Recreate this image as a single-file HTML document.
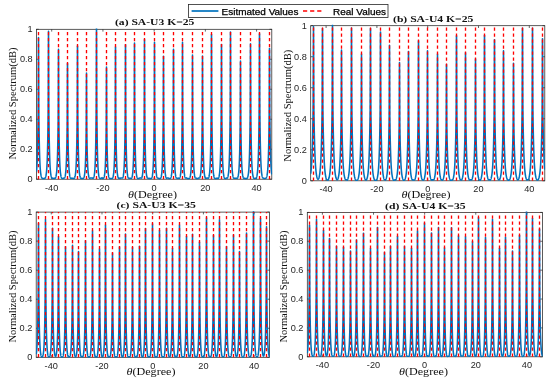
<!DOCTYPE html>
<html><head><meta charset="utf-8"><title>Normalized Spectrum</title>
<style>html,body{margin:0;padding:0;background:#fff;overflow:hidden}svg{display:block}</style></head>
<body>
<svg width="550" height="383" viewBox="0 0 550 383">
<rect width="550" height="383" fill="#fff"/>
<rect x="36.5" y="29.3" width="235.3" height="149.89999999999998" fill="none" stroke="#262626" stroke-width="0.75"/>
<path d="M51.71 179.2v-2.3M51.71 29.3v2.3M102.93 179.2v-2.3M102.93 29.3v2.3M154.15 179.2v-2.3M154.15 29.3v2.3M205.37 179.2v-2.3M205.37 29.3v2.3M256.59 179.2v-2.3M256.59 29.3v2.3M36.5 179.20h2.3M271.8 179.20h-2.3M36.5 149.22h2.3M271.8 149.22h-2.3M36.5 119.24h2.3M271.8 119.24h-2.3M36.5 89.26h2.3M271.8 89.26h-2.3M36.5 59.28h2.3M271.8 59.28h-2.3M36.5 29.30h2.3M271.8 29.30h-2.3" stroke="#262626" stroke-width="0.7" fill="none"/>
<clipPath id="c0"><rect x="36.1" y="28.400000000000002" width="236.10000000000002" height="151.7"/></clipPath>
<g clip-path="url(#c0)">
<polyline points="36.50,171.63 36.58,170.80 36.66,169.88 36.74,168.86 36.82,167.73 36.90,166.47 36.98,165.07 37.06,163.53 37.14,161.81 37.22,159.90 37.30,157.78 37.38,155.43 37.46,152.83 37.54,149.94 37.62,146.73 37.70,143.17 37.78,139.22 37.86,134.83 37.94,129.97 38.02,124.57 38.10,118.58 38.18,111.93 38.26,92.75 38.34,68.86 38.42,46.93 38.50,37.54 38.58,46.93 38.66,68.86 38.74,92.75 38.82,111.93 38.90,118.58 38.98,124.57 39.06,129.97 39.14,134.83 39.22,139.22 39.30,143.17 39.38,146.73 39.46,149.94 39.54,152.83 39.62,155.43 39.70,157.78 39.78,159.90 39.86,161.81 39.94,163.53 40.02,165.07 40.10,166.47 40.18,167.73 40.26,168.86 40.34,169.88 40.42,170.80 40.50,171.63 40.58,172.38 40.66,173.05 40.74,173.66 40.82,174.21 40.90,174.70 40.98,175.15 41.06,175.55 41.14,175.91 41.22,176.23 41.30,176.53 41.38,176.79 41.46,177.03 41.54,177.24 41.62,177.44 41.70,177.61 41.78,177.77 41.86,177.91 41.94,178.04 42.02,178.15 42.10,178.22 42.18,178.26 42.26,178.30 42.34,178.34 42.42,178.37 42.50,178.41 42.58,178.44 42.66,178.47 42.74,178.49 42.82,178.52 42.90,178.52 42.98,178.52 43.06,178.51 43.14,178.51 43.22,178.50 43.30,178.51 43.38,178.52 43.46,178.53 43.54,178.54 43.62,178.56 43.70,178.57 43.78,178.58 43.86,178.59 43.94,178.60 44.02,178.57 44.10,178.55 44.18,178.53 44.26,178.50 44.34,178.47 44.42,178.45 44.50,178.42 44.58,178.38 44.66,178.35 44.74,178.31 44.82,178.27 44.90,178.23 44.98,178.19 45.06,178.13 45.14,178.01 45.22,177.88 45.30,177.73 45.38,177.56 45.46,177.37 45.54,177.17 45.62,176.94 45.70,176.68 45.78,176.40 45.86,176.08 45.94,175.73 46.02,175.34 46.10,174.90 46.18,174.42 46.26,173.88 46.34,173.28 46.42,172.61 46.50,171.86 46.58,171.03 46.66,170.11 46.74,169.08 46.82,167.94 46.90,166.67 46.98,165.26 47.06,163.68 47.14,161.93 47.22,159.98 47.30,157.80 47.38,155.39 47.46,152.70 47.54,149.71 47.62,146.37 47.70,142.67 47.78,138.54 47.86,133.95 47.94,128.84 48.02,123.15 48.10,116.82 48.18,109.77 48.26,90.90 48.34,65.41 48.42,41.58 48.50,31.25 48.58,41.58 48.66,65.41 48.74,90.90 48.82,109.77 48.90,116.82 48.98,123.15 49.06,128.84 49.14,133.95 49.22,138.54 49.30,142.67 49.38,146.37 49.46,149.71 49.54,152.70 49.62,155.39 49.70,157.80 49.78,159.98 49.86,161.93 49.94,163.68 50.02,165.26 50.10,166.67 50.18,167.94 50.26,169.08 50.34,170.11 50.42,171.03 50.50,171.86 50.58,172.61 50.66,173.28 50.74,173.88 50.82,174.42 50.90,174.90 50.98,175.34 51.06,175.73 51.14,176.08 51.22,176.40 51.30,176.68 51.38,176.94 51.46,177.17 51.54,177.37 51.62,177.56 51.70,177.73 51.78,177.88 51.86,178.01 51.94,178.13 52.02,178.19 52.10,178.23 52.18,178.27 52.26,178.31 52.34,178.35 52.42,178.38 52.50,178.36 52.58,178.32 52.66,178.28 52.74,178.24 52.82,178.21 52.90,178.23 52.98,178.25 53.06,178.27 53.14,178.29 53.22,178.31 53.30,178.33 53.38,178.35 53.46,178.37 53.54,178.39 53.62,178.42 53.70,178.44 53.78,178.46 53.86,178.45 53.94,178.44 54.02,178.43 54.10,178.41 54.18,178.40 54.26,178.39 54.34,178.38 54.42,178.37 54.50,178.36 54.58,178.35 54.66,178.34 54.74,178.33 54.82,178.34 54.90,178.35 54.98,178.35 55.06,178.32 55.14,178.27 55.22,178.17 55.30,178.04 55.38,177.91 55.46,177.76 55.54,177.59 55.62,177.41 55.70,177.20 55.78,176.97 55.86,176.71 55.94,176.42 56.02,176.10 56.10,175.73 56.18,175.33 56.26,174.88 56.34,174.38 56.42,173.82 56.50,173.20 56.58,172.50 56.66,171.72 56.74,170.85 56.82,169.89 56.90,168.80 56.98,167.60 57.06,166.25 57.14,164.74 57.22,163.07 57.30,161.19 57.38,159.10 57.46,156.77 57.54,154.16 57.62,151.26 57.70,148.01 57.78,144.39 57.86,140.35 57.94,135.83 58.02,130.80 58.10,125.18 58.18,118.90 58.26,103.28 58.34,80.47 58.42,58.76 58.50,49.24 58.58,58.76 58.66,80.47 58.74,103.28 58.82,118.90 58.90,125.18 58.98,130.80 59.06,135.83 59.14,140.35 59.22,144.39 59.30,148.01 59.38,151.26 59.46,154.16 59.54,156.77 59.62,159.10 59.70,161.19 59.78,163.07 59.86,164.74 59.94,166.25 60.02,167.60 60.10,168.80 60.18,169.89 60.26,170.85 60.34,171.72 60.42,172.50 60.50,173.20 60.58,173.82 60.66,174.38 60.74,174.88 60.82,175.33 60.90,175.73 60.98,176.10 61.06,176.42 61.14,176.71 61.22,176.97 61.30,177.20 61.38,177.41 61.46,177.59 61.54,177.76 61.62,177.91 61.70,178.04 61.78,178.17 61.86,178.27 61.94,178.32 62.02,178.36 62.10,178.39 62.18,178.43 62.26,178.46 62.34,178.48 62.42,178.49 62.50,178.48 62.58,178.47 62.66,178.45 62.74,178.44 62.82,178.43 62.90,178.42 62.98,178.41 63.06,178.40 63.14,178.38 63.22,178.37 63.30,178.36 63.38,178.35 63.46,178.31 63.54,178.27 63.62,178.23 63.70,178.20 63.78,178.16 63.86,178.12 63.94,178.08 64.02,178.04 64.10,178.00 64.18,177.97 64.26,177.93 64.34,177.89 64.42,177.89 64.50,177.88 64.58,177.79 64.66,177.62 64.74,177.43 64.82,177.22 64.90,176.99 64.98,176.73 65.06,176.43 65.14,176.10 65.22,175.74 65.30,175.32 65.38,174.86 65.46,174.35 65.54,173.77 65.62,173.13 65.70,172.40 65.78,171.60 65.86,170.69 65.94,169.68 66.02,168.55 66.10,167.28 66.18,165.87 66.26,164.28 66.34,162.51 66.42,160.53 66.50,158.31 66.58,155.82 66.66,153.05 66.74,149.94 66.82,146.46 66.90,142.57 66.98,138.21 67.06,133.34 67.14,127.89 67.22,120.51 67.30,101.31 67.38,79.60 67.46,63.47 67.54,63.47 67.62,79.60 67.70,101.31 67.78,120.51 67.86,127.89 67.94,133.34 68.02,138.21 68.10,142.57 68.18,146.46 68.26,149.94 68.34,153.05 68.42,155.82 68.50,158.31 68.58,160.53 68.66,162.51 68.74,164.28 68.82,165.87 68.90,167.28 68.98,168.55 69.06,169.68 69.14,170.69 69.22,171.60 69.30,172.40 69.38,173.13 69.46,173.77 69.54,174.35 69.62,174.86 69.70,175.32 69.78,175.74 69.86,176.10 69.94,176.43 70.02,176.73 70.10,176.99 70.18,177.22 70.26,177.43 70.34,177.62 70.42,177.79 70.50,177.94 70.58,178.07 70.66,178.19 70.74,178.28 70.82,178.24 70.90,178.21 70.98,178.17 71.06,178.13 71.14,178.13 71.22,178.14 71.30,178.15 71.38,178.15 71.46,178.16 71.54,178.17 71.62,178.17 71.70,178.18 71.78,178.19 71.86,178.19 71.94,178.20 72.02,178.21 72.10,178.22 72.18,178.23 72.26,178.25 72.34,178.26 72.42,178.28 72.50,178.29 72.58,178.30 72.66,178.32 72.74,178.33 72.82,178.34 72.90,178.36 72.98,178.37 73.06,178.38 73.14,178.39 73.22,178.40 73.30,178.41 73.38,178.42 73.46,178.43 73.54,178.44 73.62,178.45 73.70,178.46 73.78,178.47 73.86,178.44 73.94,178.41 74.02,178.37 74.10,178.33 74.18,178.29 74.26,178.25 74.34,178.15 74.42,178.02 74.50,177.88 74.58,177.72 74.66,177.54 74.74,177.34 74.82,177.11 74.90,176.85 74.98,176.57 75.06,176.25 75.14,175.89 75.22,175.49 75.30,175.03 75.38,174.53 75.46,173.96 75.54,173.32 75.62,172.61 75.70,171.80 75.78,170.90 75.86,169.89 75.94,168.76 76.02,167.49 76.10,166.07 76.18,164.47 76.26,162.67 76.34,160.66 76.42,158.41 76.50,155.88 76.58,153.04 76.66,149.85 76.74,146.28 76.82,142.28 76.90,137.78 76.98,132.74 77.06,127.09 77.14,120.75 77.22,113.09 77.30,90.83 77.38,65.25 77.46,45.97 77.54,45.97 77.62,65.25 77.70,90.83 77.78,113.09 77.86,120.75 77.94,127.09 78.02,132.74 78.10,137.78 78.18,142.28 78.26,146.28 78.34,149.85 78.42,153.04 78.50,155.88 78.58,158.41 78.66,160.66 78.74,162.67 78.82,164.47 78.90,166.07 78.98,167.49 79.06,168.76 79.14,169.89 79.22,170.90 79.30,171.80 79.38,172.61 79.46,173.32 79.54,173.96 79.62,174.53 79.70,175.03 79.78,175.49 79.86,175.89 79.94,176.25 80.02,176.57 80.10,176.85 80.18,177.11 80.26,177.34 80.34,177.54 80.42,177.72 80.50,177.88 80.58,178.02 80.66,178.15 80.74,178.20 80.82,178.23 80.90,178.25 80.98,178.27 81.06,178.29 81.14,178.31 81.22,178.33 81.30,178.35 81.38,178.37 81.46,178.40 81.54,178.42 81.62,178.44 81.70,178.44 81.78,178.44 81.86,178.44 81.94,178.44 82.02,178.44 82.10,178.44 82.18,178.44 82.26,178.44 82.34,178.44 82.42,178.44 82.50,178.44 82.58,178.44 82.66,178.43 82.74,178.42 82.82,178.40 82.90,178.39 82.98,178.38 83.06,178.37 83.14,178.36 83.22,178.34 83.30,178.33 83.38,178.32 83.46,178.30 83.54,178.19 83.62,178.07 83.70,177.92 83.78,177.77 83.86,177.59 83.94,177.39 84.02,177.16 84.10,176.91 84.18,176.63 84.26,176.31 84.34,175.95 84.42,175.55 84.50,175.09 84.58,174.58 84.66,174.01 84.74,173.37 84.82,172.64 84.90,171.83 84.98,170.92 85.06,169.89 85.14,168.73 85.22,167.44 85.30,165.98 85.38,164.34 85.46,162.49 85.54,160.42 85.62,158.09 85.70,155.47 85.78,152.53 85.86,149.22 85.94,145.50 86.02,141.32 86.10,136.62 86.18,131.33 86.26,120.45 86.34,101.08 86.42,81.80 86.50,73.07 86.58,81.80 86.66,101.08 86.74,120.45 86.82,131.33 86.90,136.62 86.98,141.32 87.06,145.50 87.14,149.22 87.22,152.53 87.30,155.47 87.38,158.09 87.46,160.42 87.54,162.49 87.62,164.34 87.70,165.98 87.78,167.44 87.86,168.73 87.94,169.89 88.02,170.92 88.10,171.83 88.18,172.64 88.26,173.37 88.34,174.01 88.42,174.58 88.50,175.09 88.58,175.55 88.66,175.95 88.74,176.31 88.82,176.63 88.90,176.91 88.98,177.16 89.06,177.39 89.14,177.59 89.22,177.77 89.30,177.92 89.38,178.07 89.46,178.19 89.54,178.30 89.62,178.27 89.70,178.25 89.78,178.23 89.86,178.20 89.94,178.18 90.02,178.15 90.10,178.13 90.18,178.11 90.26,178.08 90.34,178.08 90.42,178.08 90.50,178.07 90.58,178.07 90.66,178.07 90.74,178.06 90.82,178.06 90.90,178.06 90.98,178.06 91.06,178.05 91.14,178.05 91.22,178.05 91.30,178.05 91.38,178.06 91.46,178.06 91.54,178.06 91.62,178.07 91.70,178.07 91.78,178.08 91.86,178.08 91.94,178.08 92.02,178.09 92.10,178.09 92.18,178.10 92.26,178.10 92.34,178.10 92.42,178.10 92.50,178.10 92.58,178.10 92.66,178.10 92.74,178.10 92.82,178.10 92.90,178.10 92.98,178.10 93.06,178.10 93.14,178.10 93.22,178.12 93.30,178.14 93.38,178.13 93.46,178.01 93.54,177.85 93.62,177.68 93.70,177.49 93.78,177.28 93.86,177.03 93.94,176.76 94.02,176.45 94.10,176.10 94.18,175.71 94.26,175.27 94.34,174.78 94.42,174.22 94.50,173.59 94.58,172.88 94.66,172.08 94.74,171.18 94.82,170.16 94.90,169.02 94.98,167.73 95.06,166.28 95.14,164.65 95.22,162.81 95.30,160.74 95.38,158.41 95.46,155.78 95.54,152.82 95.62,149.48 95.70,145.72 95.78,141.49 95.86,136.72 95.94,131.35 96.02,125.31 96.10,118.49 96.18,110.82 96.26,95.92 96.34,67.72 96.42,39.30 96.50,26.30 96.58,39.30 96.66,67.72 96.74,95.92 96.82,110.82 96.90,118.49 96.98,125.31 97.06,131.35 97.14,136.72 97.22,141.49 97.30,145.72 97.38,149.48 97.46,152.82 97.54,155.78 97.62,158.41 97.70,160.74 97.78,162.81 97.86,164.65 97.94,166.28 98.02,167.73 98.10,169.02 98.18,170.16 98.26,171.18 98.34,172.08 98.42,172.88 98.50,173.59 98.58,174.22 98.66,174.78 98.74,175.27 98.82,175.71 98.90,176.10 98.98,176.45 99.06,176.76 99.14,177.03 99.22,177.28 99.30,177.49 99.38,177.68 99.46,177.85 99.54,178.01 99.62,178.13 99.70,178.18 99.78,178.23 99.86,178.27 99.94,178.31 100.02,178.35 100.10,178.39 100.18,178.43 100.26,178.46 100.34,178.49 100.42,178.52 100.50,178.52 100.58,178.51 100.66,178.50 100.74,178.48 100.82,178.47 100.90,178.42 100.98,178.37 101.06,178.32 101.14,178.27 101.22,178.22 101.30,178.17 101.38,178.11 101.46,178.06 101.54,178.01 101.62,177.96 101.70,177.91 101.78,177.86 101.86,177.91 101.94,177.96 102.02,178.02 102.10,178.07 102.18,178.12 102.26,178.17 102.34,178.22 102.42,178.27 102.50,178.33 102.58,178.38 102.66,178.43 102.74,178.48 102.82,178.45 102.90,178.42 102.98,178.39 103.06,178.35 103.14,178.32 103.22,178.29 103.30,178.26 103.38,178.22 103.46,178.19 103.54,178.16 103.62,178.13 103.70,178.03 103.78,177.87 103.86,177.70 103.94,177.51 104.02,177.30 104.10,177.05 104.18,176.77 104.26,176.46 104.34,176.11 104.42,175.71 104.50,175.27 104.58,174.76 104.66,174.19 104.74,173.55 104.82,172.82 104.90,172.00 104.98,171.08 105.06,170.03 105.14,168.86 105.22,167.53 105.30,166.03 105.38,164.34 105.46,162.43 105.54,160.27 105.62,157.84 105.70,155.09 105.78,152.00 105.86,148.50 105.94,144.56 106.02,140.11 106.10,135.09 106.18,129.42 106.26,118.97 106.34,98.12 106.42,76.87 106.50,67.07 106.58,76.87 106.66,98.12 106.74,118.97 106.82,129.42 106.90,135.09 106.98,140.11 107.06,144.56 107.14,148.50 107.22,152.00 107.30,155.09 107.38,157.84 107.46,160.27 107.54,162.43 107.62,164.34 107.70,166.03 107.78,167.53 107.86,168.86 107.94,170.03 108.02,171.08 108.10,172.00 108.18,172.82 108.26,173.55 108.34,174.19 108.42,174.76 108.50,175.27 108.58,175.71 108.66,176.11 108.74,176.46 108.82,176.77 108.90,177.05 108.98,177.30 109.06,177.51 109.14,177.70 109.22,177.87 109.30,178.03 109.38,178.16 109.46,178.28 109.54,178.38 109.62,178.44 109.70,178.47 109.78,178.51 109.86,178.54 109.94,178.56 110.02,178.55 110.10,178.54 110.18,178.53 110.26,178.53 110.34,178.52 110.42,178.51 110.50,178.51 110.58,178.51 110.66,178.52 110.74,178.52 110.82,178.52 110.90,178.53 110.98,178.53 111.06,178.53 111.14,178.54 111.22,178.54 111.30,178.54 111.38,178.55 111.46,178.55 111.54,178.56 111.62,178.56 111.70,178.56 111.78,178.56 111.86,178.53 111.94,178.50 112.02,178.47 112.10,178.44 112.18,178.40 112.26,178.36 112.34,178.32 112.42,178.27 112.50,178.20 112.58,178.07 112.66,177.93 112.74,177.76 112.82,177.58 112.90,177.36 112.98,177.13 113.06,176.86 113.14,176.55 113.22,176.21 113.30,175.82 113.38,175.38 113.46,174.88 113.54,174.32 113.62,173.68 113.70,172.97 113.78,172.16 113.86,171.24 113.94,170.21 114.02,169.04 114.10,167.71 114.18,166.22 114.26,164.53 114.34,162.62 114.42,160.47 114.50,158.03 114.58,155.28 114.66,152.17 114.74,148.66 114.82,144.68 114.90,140.20 114.98,135.12 115.06,129.39 115.14,122.92 115.22,115.60 115.30,95.14 115.38,68.16 115.46,46.93 115.54,46.93 115.62,68.16 115.70,95.14 115.78,115.60 115.86,122.92 115.94,129.39 116.02,135.12 116.10,140.20 116.18,144.68 116.26,148.66 116.34,152.17 116.42,155.28 116.50,158.03 116.58,160.47 116.66,162.62 116.74,164.53 116.82,166.22 116.90,167.71 116.98,169.04 117.06,170.21 117.14,171.24 117.22,172.16 117.30,172.97 117.38,173.68 117.46,174.32 117.54,174.88 117.62,175.38 117.70,175.82 117.78,176.21 117.86,176.55 117.94,176.86 118.02,177.13 118.10,177.36 118.18,177.58 118.26,177.76 118.34,177.93 118.42,178.07 118.50,178.16 118.58,178.15 118.66,178.14 118.74,178.13 118.82,178.12 118.90,178.10 118.98,178.09 119.06,178.08 119.14,178.11 119.22,178.14 119.30,178.17 119.38,178.21 119.46,178.24 119.54,178.27 119.62,178.30 119.70,178.33 119.78,178.36 119.86,178.39 119.94,178.42 120.02,178.45 120.10,178.41 120.18,178.36 120.26,178.31 120.34,178.27 120.42,178.22 120.50,178.18 120.58,178.13 120.66,178.08 120.74,178.04 120.82,177.99 120.90,177.94 120.98,177.90 121.06,177.90 121.14,177.91 121.22,177.92 121.30,177.92 121.38,177.93 121.46,177.93 121.54,177.94 121.62,177.95 121.70,177.95 121.78,177.96 121.86,177.96 121.94,177.97 122.02,177.98 122.10,177.99 122.18,177.99 122.26,178.00 122.34,178.01 122.42,178.02 122.50,178.03 122.58,178.03 122.66,177.96 122.74,177.80 122.82,177.61 122.90,177.41 122.98,177.17 123.06,176.90 123.14,176.60 123.22,176.26 123.30,175.88 123.38,175.44 123.46,174.94 123.54,174.38 123.62,173.75 123.70,173.04 123.78,172.23 123.86,171.31 123.94,170.27 124.02,169.10 124.10,167.77 124.18,166.27 124.26,164.57 124.34,162.65 124.42,160.47 124.50,158.01 124.58,155.22 124.66,152.07 124.74,148.51 124.82,144.47 124.90,139.91 124.98,134.75 125.06,128.91 125.14,122.30 125.22,114.82 125.30,94.40 125.38,66.73 125.46,44.80 125.54,44.80 125.62,66.73 125.70,94.40 125.78,114.82 125.86,122.30 125.94,128.91 126.02,134.75 126.10,139.91 126.18,144.47 126.26,148.51 126.34,152.07 126.42,155.22 126.50,158.01 126.58,160.47 126.66,162.65 126.74,164.57 126.82,166.27 126.90,167.77 126.98,169.10 127.06,170.27 127.14,171.31 127.22,172.23 127.30,173.04 127.38,173.75 127.46,174.38 127.54,174.94 127.62,175.44 127.70,175.88 127.78,176.26 127.86,176.60 127.94,176.90 128.02,177.17 128.10,177.41 128.18,177.61 128.26,177.80 128.34,177.96 128.42,178.08 128.50,178.10 128.58,178.12 128.66,178.14 128.74,178.16 128.82,178.18 128.90,178.20 128.98,178.22 129.06,178.24 129.14,178.26 129.22,178.27 129.30,178.29 129.38,178.31 129.46,178.33 129.54,178.35 129.62,178.37 129.70,178.36 129.78,178.34 129.86,178.33 129.94,178.32 130.02,178.30 130.10,178.29 130.18,178.28 130.26,178.26 130.34,178.25 130.42,178.24 130.50,178.22 130.58,178.21 130.66,178.24 130.74,178.26 130.82,178.29 130.90,178.31 130.98,178.34 131.06,178.36 131.14,178.39 131.22,178.40 131.30,178.36 131.38,178.32 131.46,178.28 131.54,178.21 131.62,178.08 131.70,177.93 131.78,177.77 131.86,177.58 131.94,177.36 132.02,177.12 132.10,176.84 132.18,176.53 132.26,176.18 132.34,175.78 132.42,175.33 132.50,174.82 132.58,174.24 132.66,173.58 132.74,172.83 132.82,171.99 132.90,171.04 132.98,169.96 133.06,168.74 133.14,167.35 133.22,165.78 133.30,164.01 133.38,162.00 133.46,159.72 133.54,157.14 133.62,154.22 133.70,150.92 133.78,147.18 133.86,142.94 133.94,138.14 134.02,132.71 134.10,126.56 134.18,119.59 134.26,107.98 134.34,82.32 134.42,55.60 134.50,43.09 134.58,55.60 134.66,82.32 134.74,107.98 134.82,119.59 134.90,126.56 134.98,132.71 135.06,138.14 135.14,142.94 135.22,147.18 135.30,150.92 135.38,154.22 135.46,157.14 135.54,159.72 135.62,162.00 135.70,164.01 135.78,165.78 135.86,167.35 135.94,168.74 136.02,169.96 136.10,171.04 136.18,171.99 136.26,172.83 136.34,173.58 136.42,174.24 136.50,174.82 136.58,175.33 136.66,175.78 136.74,176.18 136.82,176.53 136.90,176.84 136.98,177.12 137.06,177.36 137.14,177.58 137.22,177.77 137.30,177.93 137.38,178.08 137.46,178.21 137.54,178.28 137.62,178.32 137.70,178.36 137.78,178.40 137.86,178.44 137.94,178.47 138.02,178.50 138.10,178.54 138.18,178.57 138.26,178.59 138.34,178.57 138.42,178.54 138.50,178.52 138.58,178.49 138.66,178.46 138.74,178.43 138.82,178.40 138.90,178.38 138.98,178.35 139.06,178.32 139.14,178.29 139.22,178.26 139.30,178.23 139.38,178.20 139.46,178.17 139.54,178.14 139.62,178.11 139.70,178.08 139.78,178.05 139.86,178.02 139.94,177.99 140.02,177.96 140.10,177.93 140.18,177.90 140.26,177.91 140.34,177.92 140.42,177.93 140.50,177.94 140.58,177.95 140.66,177.96 140.74,177.97 140.82,177.97 140.90,177.98 140.98,177.99 141.06,178.00 141.14,178.01 141.22,178.04 141.30,178.06 141.38,178.08 141.46,178.10 141.54,178.12 141.62,178.08 141.70,177.93 141.78,177.76 141.86,177.56 141.94,177.35 142.02,177.10 142.10,176.82 142.18,176.51 142.26,176.15 142.34,175.74 142.42,175.28 142.50,174.76 142.58,174.17 142.66,173.50 142.74,172.74 142.82,171.89 142.90,170.91 142.98,169.81 143.06,168.56 143.14,167.15 143.22,165.55 143.30,163.73 143.38,161.68 143.46,159.35 143.54,156.71 143.62,153.72 143.70,150.33 143.78,146.49 143.86,142.14 143.94,137.22 144.02,131.64 144.10,125.31 144.18,118.15 144.26,106.40 144.34,80.01 144.42,52.44 144.50,39.49 144.58,52.44 144.66,80.01 144.74,106.40 144.82,118.15 144.90,125.31 144.98,131.64 145.06,137.22 145.14,142.14 145.22,146.49 145.30,150.33 145.38,153.72 145.46,156.71 145.54,159.35 145.62,161.68 145.70,163.73 145.78,165.55 145.86,167.15 145.94,168.56 146.02,169.81 146.10,170.91 146.18,171.89 146.26,172.74 146.34,173.50 146.42,174.17 146.50,174.76 146.58,175.28 146.66,175.74 146.74,176.15 146.82,176.51 146.90,176.82 146.98,177.10 147.06,177.35 147.14,177.56 147.22,177.76 147.30,177.93 147.38,178.03 147.46,178.05 147.54,178.07 147.62,178.09 147.70,178.10 147.78,178.12 147.86,178.14 147.94,178.17 148.02,178.21 148.10,178.24 148.18,178.28 148.26,178.31 148.34,178.35 148.42,178.38 148.50,178.42 148.58,178.45 148.66,178.49 148.74,178.52 148.82,178.56 148.90,178.54 148.98,178.52 149.06,178.50 149.14,178.48 149.22,178.46 149.30,178.44 149.38,178.42 149.46,178.40 149.54,178.38 149.62,178.37 149.70,178.35 149.78,178.33 149.86,178.35 149.94,178.38 150.02,178.40 150.10,178.43 150.18,178.46 150.26,178.48 150.34,178.51 150.42,178.53 150.50,178.56 150.58,178.58 150.66,178.61 150.74,178.60 150.82,178.57 150.90,178.54 150.98,178.51 151.06,178.48 151.14,178.45 151.22,178.41 151.30,178.37 151.38,178.33 151.46,178.28 151.54,178.23 151.62,178.10 151.70,177.96 151.78,177.79 151.86,177.61 151.94,177.39 152.02,177.15 152.10,176.88 152.18,176.57 152.26,176.22 152.34,175.82 152.42,175.38 152.50,174.87 152.58,174.29 152.66,173.63 152.74,172.89 152.82,172.05 152.90,171.10 152.98,170.02 153.06,168.80 153.14,167.42 153.22,165.85 153.30,164.07 153.38,162.06 153.46,159.78 153.54,157.19 153.62,154.26 153.70,150.94 153.78,147.17 153.86,142.91 153.94,138.08 154.02,132.60 154.10,126.40 154.18,119.37 154.26,107.90 154.34,82.00 154.42,54.92 154.50,42.19 154.58,54.92 154.66,82.00 154.74,107.90 154.82,119.37 154.90,126.40 154.98,132.60 155.06,138.08 155.14,142.91 155.22,147.17 155.30,150.94 155.38,154.26 155.46,157.19 155.54,159.78 155.62,162.06 155.70,164.07 155.78,165.85 155.86,167.42 155.94,168.80 156.02,170.02 156.10,171.10 156.18,172.05 156.26,172.89 156.34,173.63 156.42,174.29 156.50,174.87 156.58,175.38 156.66,175.82 156.74,176.22 156.82,176.57 156.90,176.88 156.98,177.15 157.06,177.39 157.14,177.61 157.22,177.79 157.30,177.92 157.38,177.89 157.46,177.87 157.54,177.91 157.62,177.95 157.70,177.98 157.78,178.02 157.86,178.05 157.94,178.09 158.02,178.13 158.10,178.16 158.18,178.20 158.26,178.24 158.34,178.27 158.42,178.31 158.50,178.34 158.58,178.36 158.66,178.39 158.74,178.41 158.82,178.44 158.90,178.46 158.98,178.49 159.06,178.51 159.14,178.54 159.22,178.57 159.30,178.59 159.38,178.62 159.46,178.62 159.54,178.62 159.62,178.62 159.70,178.62 159.78,178.62 159.86,178.61 159.94,178.58 160.02,178.55 160.10,178.52 160.18,178.49 160.26,178.45 160.34,178.41 160.42,178.37 160.50,178.33 160.58,178.25 160.66,178.12 160.74,177.98 160.82,177.81 160.90,177.63 160.98,177.42 161.06,177.18 161.14,176.92 161.22,176.61 161.30,176.27 161.38,175.88 161.46,175.44 161.54,174.94 161.62,174.37 161.70,173.73 161.78,173.00 161.86,172.18 161.94,171.24 162.02,170.19 162.10,168.99 162.18,167.63 162.26,166.09 162.34,164.35 162.42,162.37 162.50,160.13 162.58,157.60 162.66,154.73 162.74,151.47 162.82,147.79 162.90,143.61 162.98,138.88 163.06,133.52 163.14,127.44 163.22,120.56 163.30,102.25 163.38,76.69 163.46,56.27 163.54,56.27 163.62,76.69 163.70,102.25 163.78,120.56 163.86,127.44 163.94,133.52 164.02,138.88 164.10,143.61 164.18,147.79 164.26,151.47 164.34,154.73 164.42,157.60 164.50,160.13 164.58,162.37 164.66,164.35 164.74,166.09 164.82,167.63 164.90,168.99 164.98,170.19 165.06,171.24 165.14,172.18 165.22,173.00 165.30,173.73 165.38,174.37 165.46,174.94 165.54,175.44 165.62,175.88 165.70,176.27 165.78,176.61 165.86,176.92 165.94,177.18 166.02,177.42 166.10,177.63 166.18,177.81 166.26,177.98 166.34,178.12 166.42,178.25 166.50,178.31 166.58,178.28 166.66,178.25 166.74,178.22 166.82,178.19 166.90,178.15 166.98,178.12 167.06,178.09 167.14,178.08 167.22,178.07 167.30,178.05 167.38,178.04 167.46,178.02 167.54,178.01 167.62,177.99 167.70,177.98 167.78,177.97 167.86,177.95 167.94,177.94 168.02,177.92 168.10,177.96 168.18,178.00 168.26,178.04 168.34,178.08 168.42,178.12 168.50,178.16 168.58,178.20 168.66,178.23 168.74,178.27 168.82,178.31 168.90,178.35 168.98,178.39 169.06,178.41 169.14,178.43 169.22,178.45 169.30,178.47 169.38,178.49 169.46,178.51 169.54,178.52 169.62,178.54 169.70,178.56 169.78,178.58 169.86,178.57 169.94,178.54 170.02,178.51 170.10,178.48 170.18,178.44 170.26,178.40 170.34,178.34 170.42,178.29 170.50,178.23 170.58,178.17 170.66,178.04 170.74,177.88 170.82,177.71 170.90,177.51 170.98,177.29 171.06,177.04 171.14,176.75 171.22,176.43 171.30,176.06 171.38,175.64 171.46,175.17 171.54,174.64 171.62,174.04 171.70,173.35 171.78,172.58 171.86,171.70 171.94,170.71 172.02,169.59 172.10,168.31 172.18,166.87 172.26,165.24 172.34,163.39 172.42,161.30 172.50,158.93 172.58,156.25 172.66,153.21 172.74,149.78 172.82,145.88 172.90,141.47 172.98,136.48 173.06,130.82 173.14,124.42 173.22,117.17 173.30,97.68 173.38,70.79 173.46,49.38 173.54,49.38 173.62,70.79 173.70,97.68 173.78,117.17 173.86,124.42 173.94,130.82 174.02,136.48 174.10,141.47 174.18,145.88 174.26,149.78 174.34,153.21 174.42,156.25 174.50,158.93 174.58,161.30 174.66,163.39 174.74,165.24 174.82,166.87 174.90,168.31 174.98,169.59 175.06,170.71 175.14,171.70 175.22,172.58 175.30,173.35 175.38,174.04 175.46,174.64 175.54,175.17 175.62,175.64 175.70,176.06 175.78,176.43 175.86,176.75 175.94,177.04 176.02,177.29 176.10,177.51 176.18,177.71 176.26,177.88 176.34,178.03 176.42,178.04 176.50,178.05 176.58,178.06 176.66,178.06 176.74,178.09 176.82,178.12 176.90,178.14 176.98,178.17 177.06,178.19 177.14,178.22 177.22,178.25 177.30,178.27 177.38,178.30 177.46,178.32 177.54,178.35 177.62,178.37 177.70,178.35 177.78,178.32 177.86,178.30 177.94,178.27 178.02,178.25 178.10,178.22 178.18,178.19 178.26,178.17 178.34,178.14 178.42,178.12 178.50,178.09 178.58,178.07 178.66,178.11 178.74,178.15 178.82,178.19 178.90,178.23 178.98,178.27 179.06,178.31 179.14,178.35 179.22,178.39 179.30,178.35 179.38,178.30 179.46,178.26 179.54,178.18 179.62,178.04 179.70,177.89 179.78,177.72 179.86,177.52 179.94,177.30 180.02,177.06 180.10,176.77 180.18,176.45 180.26,176.09 180.34,175.69 180.42,175.22 180.50,174.70 180.58,174.11 180.66,173.44 180.74,172.68 180.82,171.83 180.90,170.86 180.98,169.76 181.06,168.52 181.14,167.12 181.22,165.53 181.30,163.73 181.38,161.70 181.46,159.39 181.54,156.79 181.62,153.84 181.70,150.51 181.78,146.74 181.86,142.47 181.94,137.65 182.02,132.18 182.10,126.00 182.18,119.01 182.26,107.08 182.34,81.33 182.42,54.64 182.50,42.19 182.58,54.64 182.66,81.33 182.74,107.08 182.82,119.01 182.90,126.00 182.98,132.18 183.06,137.65 183.14,142.47 183.22,146.74 183.30,150.51 183.38,153.84 183.46,156.79 183.54,159.39 183.62,161.70 183.70,163.73 183.78,165.53 183.86,167.12 183.94,168.52 184.02,169.76 184.10,170.86 184.18,171.83 184.26,172.68 184.34,173.44 184.42,174.11 184.50,174.70 184.58,175.22 184.66,175.69 184.74,176.09 184.82,176.45 184.90,176.77 184.98,177.06 185.06,177.30 185.14,177.52 185.22,177.72 185.30,177.89 185.38,177.99 185.46,177.98 185.54,177.97 185.62,177.96 185.70,177.94 185.78,177.93 185.86,177.92 185.94,177.91 186.02,177.90 186.10,177.88 186.18,177.87 186.26,177.86 186.34,177.90 186.42,177.94 186.50,177.99 186.58,178.03 186.66,178.07 186.74,178.11 186.82,178.16 186.90,178.20 186.98,178.24 187.06,178.28 187.14,178.32 187.22,178.37 187.30,178.38 187.38,178.39 187.46,178.40 187.54,178.41 187.62,178.42 187.70,178.44 187.78,178.45 187.86,178.46 187.94,178.47 188.02,178.48 188.10,178.49 188.18,178.50 188.26,178.50 188.34,178.50 188.42,178.50 188.50,178.49 188.58,178.49 188.66,178.49 188.74,178.49 188.82,178.48 188.90,178.48 188.98,178.48 189.06,178.48 189.14,178.47 189.22,178.43 189.30,178.39 189.38,178.35 189.46,178.31 189.54,178.23 189.62,178.11 189.70,177.96 189.78,177.80 189.86,177.62 189.94,177.42 190.02,177.18 190.10,176.92 190.18,176.62 190.26,176.29 190.34,175.91 190.42,175.48 190.50,175.00 190.58,174.45 190.66,173.83 190.74,173.14 190.82,172.35 190.90,171.46 190.98,170.45 191.06,169.31 191.14,168.02 191.22,166.57 191.30,164.93 191.38,163.07 191.46,160.97 191.54,158.60 191.62,155.92 191.70,152.89 191.78,149.47 191.86,145.60 191.94,141.23 192.02,136.30 192.10,130.71 192.18,124.41 192.26,113.25 192.34,90.04 192.42,66.16 192.50,55.08 192.58,66.16 192.66,90.04 192.74,113.25 192.82,124.41 192.90,130.71 192.98,136.30 193.06,141.23 193.14,145.60 193.22,149.47 193.30,152.89 193.38,155.92 193.46,158.60 193.54,160.97 193.62,163.07 193.70,164.93 193.78,166.57 193.86,168.02 193.94,169.31 194.02,170.45 194.10,171.46 194.18,172.35 194.26,173.14 194.34,173.83 194.42,174.45 194.50,175.00 194.58,175.48 194.66,175.91 194.74,176.29 194.82,176.62 194.90,176.92 194.98,177.18 195.06,177.42 195.14,177.62 195.22,177.80 195.30,177.96 195.38,177.96 195.46,177.96 195.54,177.95 195.62,177.95 195.70,177.95 195.78,177.95 195.86,177.94 195.94,178.00 196.02,178.05 196.10,178.11 196.18,178.16 196.26,178.22 196.34,178.27 196.42,178.33 196.50,178.38 196.58,178.43 196.66,178.49 196.74,178.54 196.82,178.60 196.90,178.59 196.98,178.58 197.06,178.57 197.14,178.56 197.22,178.55 197.30,178.55 197.38,178.54 197.46,178.53 197.54,178.52 197.62,178.51 197.70,178.50 197.78,178.49 197.86,178.45 197.94,178.41 198.02,178.36 198.10,178.32 198.18,178.28 198.26,178.24 198.34,178.19 198.42,178.15 198.50,178.11 198.58,178.06 198.66,178.02 198.74,177.98 198.82,177.98 198.90,177.97 198.98,177.97 199.06,177.97 199.14,177.97 199.22,177.97 199.30,177.97 199.38,177.97 199.46,177.97 199.54,177.97 199.62,177.96 199.70,177.91 199.78,177.74 199.86,177.55 199.94,177.34 200.02,177.10 200.10,176.83 200.18,176.53 200.26,176.19 200.34,175.80 200.42,175.36 200.50,174.87 200.58,174.31 200.66,173.69 200.74,172.98 200.82,172.18 200.90,171.28 200.98,170.26 201.06,169.12 201.14,167.82 201.22,166.36 201.30,164.72 201.38,162.86 201.46,160.76 201.54,158.39 201.62,155.72 201.70,152.71 201.78,149.31 201.86,145.48 201.94,141.15 202.02,136.26 202.10,130.75 202.18,124.53 202.26,113.03 202.34,90.16 202.42,66.87 202.50,56.13 202.58,66.87 202.66,90.16 202.74,113.03 202.82,124.53 202.90,130.75 202.98,136.26 203.06,141.15 203.14,145.48 203.22,149.31 203.30,152.71 203.38,155.72 203.46,158.39 203.54,160.76 203.62,162.86 203.70,164.72 203.78,166.36 203.86,167.82 203.94,169.12 204.02,170.26 204.10,171.28 204.18,172.18 204.26,172.98 204.34,173.69 204.42,174.31 204.50,174.87 204.58,175.36 204.66,175.80 204.74,176.19 204.82,176.53 204.90,176.83 204.98,177.10 205.06,177.34 205.14,177.55 205.22,177.74 205.30,177.91 205.38,178.02 205.46,177.97 205.54,177.99 205.62,178.02 205.70,178.04 205.78,178.06 205.86,178.08 205.94,178.10 206.02,178.12 206.10,178.14 206.18,178.16 206.26,178.18 206.34,178.21 206.42,178.23 206.50,178.21 206.58,178.19 206.66,178.18 206.74,178.16 206.82,178.14 206.90,178.13 206.98,178.11 207.06,178.09 207.14,178.08 207.22,178.06 207.30,178.04 207.38,178.02 207.46,178.06 207.54,178.10 207.62,178.14 207.70,178.18 207.78,178.22 207.86,178.25 207.94,178.29 208.02,178.33 208.10,178.32 208.18,178.28 208.26,178.24 208.34,178.19 208.42,178.11 208.50,177.98 208.58,177.82 208.66,177.65 208.74,177.45 208.82,177.23 208.90,176.98 208.98,176.70 209.06,176.38 209.14,176.03 209.22,175.62 209.30,175.17 209.38,174.66 209.46,174.09 209.54,173.44 209.62,172.72 209.70,171.89 209.78,170.97 209.86,169.93 209.94,168.76 210.02,167.44 210.10,165.95 210.18,164.27 210.26,162.38 210.34,160.26 210.42,157.86 210.50,155.16 210.58,152.12 210.66,148.70 210.74,144.84 210.82,140.49 210.90,135.60 210.98,130.08 211.06,123.87 211.14,116.87 211.22,108.99 211.30,85.62 211.38,56.84 211.46,34.61 211.54,34.61 211.62,56.84 211.70,85.62 211.78,108.99 211.86,116.87 211.94,123.87 212.02,130.08 212.10,135.60 212.18,140.49 212.26,144.84 212.34,148.70 212.42,152.12 212.50,155.16 212.58,157.86 212.66,160.26 212.74,162.38 212.82,164.27 212.90,165.95 212.98,167.44 213.06,168.76 213.14,169.93 213.22,170.97 213.30,171.89 213.38,172.72 213.46,173.44 213.54,174.09 213.62,174.66 213.70,175.17 213.78,175.62 213.86,176.03 213.94,176.38 214.02,176.70 214.10,176.98 214.18,177.23 214.26,177.45 214.34,177.65 214.42,177.82 214.50,177.98 214.58,178.11 214.66,178.19 214.74,178.24 214.82,178.28 214.90,178.32 214.98,178.36 215.06,178.40 215.14,178.44 215.22,178.47 215.30,178.50 215.38,178.53 215.46,178.55 215.54,178.58 215.62,178.60 215.70,178.62 215.78,178.63 215.86,178.63 215.94,178.63 216.02,178.63 216.10,178.58 216.18,178.53 216.26,178.48 216.34,178.44 216.42,178.39 216.50,178.34 216.58,178.29 216.66,178.24 216.74,178.20 216.82,178.15 216.90,178.10 216.98,178.05 217.06,178.08 217.14,178.11 217.22,178.14 217.30,178.17 217.38,178.21 217.46,178.24 217.54,178.27 217.62,178.30 217.70,178.33 217.78,178.36 217.86,178.39 217.94,178.42 218.02,178.39 218.10,178.36 218.18,178.31 218.26,178.27 218.34,178.22 218.42,178.10 218.50,177.97 218.58,177.81 218.66,177.64 218.74,177.45 218.82,177.23 218.90,176.99 218.98,176.71 219.06,176.40 219.14,176.06 219.22,175.67 219.30,175.23 219.38,174.73 219.46,174.18 219.54,173.56 219.62,172.86 219.70,172.07 219.78,171.18 219.86,170.19 219.94,169.07 220.02,167.81 220.10,166.40 220.18,164.81 220.26,163.03 220.34,161.02 220.42,158.76 220.50,156.23 220.58,153.37 220.66,150.17 220.74,146.56 220.82,142.51 220.90,137.96 220.98,132.84 221.06,127.09 221.14,120.62 221.22,113.34 221.30,90.94 221.38,64.58 221.46,44.46 221.54,44.46 221.62,64.58 221.70,90.94 221.78,113.34 221.86,120.62 221.94,127.09 222.02,132.84 222.10,137.96 222.18,142.51 222.26,146.56 222.34,150.17 222.42,153.37 222.50,156.23 222.58,158.76 222.66,161.02 222.74,163.03 222.82,164.81 222.90,166.40 222.98,167.81 223.06,169.07 223.14,170.19 223.22,171.18 223.30,172.07 223.38,172.86 223.46,173.56 223.54,174.18 223.62,174.73 223.70,175.23 223.78,175.67 223.86,176.06 223.94,176.40 224.02,176.71 224.10,176.99 224.18,177.23 224.26,177.45 224.34,177.64 224.42,177.81 224.50,177.97 224.58,178.10 224.66,178.22 224.74,178.27 224.82,178.31 224.90,178.36 224.98,178.39 225.06,178.42 225.14,178.45 225.22,178.48 225.30,178.51 225.38,178.54 225.46,178.56 225.54,178.59 225.62,178.62 225.70,178.57 225.78,178.51 225.86,178.45 225.94,178.39 226.02,178.34 226.10,178.28 226.18,178.22 226.26,178.16 226.34,178.11 226.42,178.05 226.50,177.99 226.58,177.93 226.66,177.96 226.74,177.99 226.82,178.03 226.90,178.06 226.98,178.09 227.06,178.12 227.14,178.15 227.22,178.18 227.30,178.13 227.38,178.00 227.46,177.85 227.54,177.69 227.62,177.51 227.70,177.30 227.78,177.07 227.86,176.81 227.94,176.52 228.02,176.19 228.10,175.83 228.18,175.42 228.26,174.96 228.34,174.44 228.42,173.86 228.50,173.21 228.58,172.48 228.66,171.66 228.74,170.74 228.82,169.71 228.90,168.56 228.98,167.26 229.06,165.81 229.14,164.17 229.22,162.34 229.30,160.29 229.38,157.99 229.46,155.41 229.54,152.51 229.62,149.26 229.70,145.61 229.78,141.52 229.86,136.93 229.94,131.79 230.02,126.01 230.10,119.54 230.18,112.27 230.26,96.45 230.34,69.85 230.42,43.72 230.50,32.00 230.58,43.72 230.66,69.85 230.74,96.45 230.82,112.27 230.90,119.54 230.98,126.01 231.06,131.79 231.14,136.93 231.22,141.52 231.30,145.61 231.38,149.26 231.46,152.51 231.54,155.41 231.62,157.99 231.70,160.29 231.78,162.34 231.86,164.17 231.94,165.81 232.02,167.26 232.10,168.56 232.18,169.71 232.26,170.74 232.34,171.66 232.42,172.48 232.50,173.21 232.58,173.86 232.66,174.44 232.74,174.96 232.82,175.42 232.90,175.83 232.98,176.19 233.06,176.52 233.14,176.81 233.22,177.07 233.30,177.30 233.38,177.51 233.46,177.69 233.54,177.85 233.62,178.00 233.70,178.13 233.78,178.20 233.86,178.24 233.94,178.27 234.02,178.27 234.10,178.27 234.18,178.26 234.26,178.26 234.34,178.25 234.42,178.25 234.50,178.24 234.58,178.23 234.66,178.23 234.74,178.22 234.82,178.22 234.90,178.21 234.98,178.20 235.06,178.20 235.14,178.19 235.22,178.19 235.30,178.18 235.38,178.18 235.46,178.18 235.54,178.18 235.62,178.17 235.70,178.17 235.78,178.17 235.86,178.16 235.94,178.16 236.02,178.16 236.10,178.16 236.18,178.15 236.26,178.17 236.34,178.19 236.42,178.21 236.50,178.22 236.58,178.24 236.66,178.26 236.74,178.28 236.82,178.29 236.90,178.31 236.98,178.33 237.06,178.35 237.14,178.36 237.22,178.35 237.30,178.25 237.38,178.14 237.46,178.01 237.54,177.87 237.62,177.71 237.70,177.54 237.78,177.34 237.86,177.12 237.94,176.87 238.02,176.59 238.10,176.28 238.18,175.93 238.26,175.54 238.34,175.11 238.42,174.62 238.50,174.08 238.58,173.47 238.66,172.79 238.74,172.02 238.82,171.17 238.90,170.22 238.98,169.15 239.06,167.95 239.14,166.61 239.22,165.12 239.30,163.44 239.38,161.57 239.46,159.47 239.54,157.12 239.62,154.50 239.70,151.56 239.78,148.27 239.86,144.59 239.94,140.47 240.02,135.87 240.10,130.71 240.18,124.95 240.26,111.51 240.34,90.46 240.42,70.11 240.50,61.08 240.58,70.11 240.66,90.46 240.74,111.51 240.82,124.95 240.90,130.71 240.98,135.87 241.06,140.47 241.14,144.59 241.22,148.27 241.30,151.56 241.38,154.50 241.46,157.12 241.54,159.47 241.62,161.57 241.70,163.44 241.78,165.12 241.86,166.61 241.94,167.95 242.02,169.15 242.10,170.22 242.18,171.17 242.26,172.02 242.34,172.79 242.42,173.47 242.50,174.08 242.58,174.62 242.66,175.11 242.74,175.54 242.82,175.93 242.90,176.28 242.98,176.59 243.06,176.87 243.14,177.12 243.22,177.34 243.30,177.54 243.38,177.71 243.46,177.87 243.54,178.01 243.62,178.14 243.70,178.25 243.78,178.35 243.86,178.40 243.94,178.43 244.02,178.44 244.10,178.42 244.18,178.41 244.26,178.39 244.34,178.37 244.42,178.36 244.50,178.34 244.58,178.32 244.66,178.31 244.74,178.29 244.82,178.27 244.90,178.31 244.98,178.34 245.06,178.37 245.14,178.41 245.22,178.44 245.30,178.47 245.38,178.51 245.46,178.54 245.54,178.57 245.62,178.61 245.70,178.64 245.78,178.67 245.86,178.67 245.94,178.67 246.02,178.65 246.10,178.63 246.18,178.61 246.26,178.59 246.34,178.57 246.42,178.54 246.50,178.52 246.58,178.49 246.66,178.46 246.74,178.43 246.82,178.39 246.90,178.36 246.98,178.32 247.06,178.28 247.14,178.23 247.22,178.11 247.30,177.99 247.38,177.85 247.46,177.69 247.54,177.51 247.62,177.32 247.70,177.10 247.78,176.86 247.86,176.58 247.94,176.28 248.02,175.94 248.10,175.57 248.18,175.14 248.26,174.67 248.34,174.15 248.42,173.56 248.50,172.91 248.58,172.18 248.66,171.37 248.74,170.46 248.82,169.45 248.90,168.32 248.98,167.06 249.06,165.65 249.14,164.08 249.22,162.33 249.30,160.37 249.38,158.19 249.46,155.75 249.54,153.03 249.62,150.00 249.70,146.62 249.78,142.84 249.86,138.62 249.94,133.92 250.02,128.67 250.10,122.82 250.18,116.28 250.26,99.93 250.34,76.17 250.42,53.59 250.50,43.69 250.58,53.59 250.66,76.17 250.74,99.93 250.82,116.28 250.90,122.82 250.98,128.67 251.06,133.92 251.14,138.62 251.22,142.84 251.30,146.62 251.38,150.00 251.46,153.03 251.54,155.75 251.62,158.19 251.70,160.37 251.78,162.33 251.86,164.08 251.94,165.65 252.02,167.06 252.10,168.32 252.18,169.45 252.26,170.46 252.34,171.37 252.42,172.18 252.50,172.91 252.58,173.56 252.66,174.15 252.74,174.67 252.82,175.14 252.90,175.57 252.98,175.94 253.06,176.28 253.14,176.58 253.22,176.86 253.30,177.10 253.38,177.32 253.46,177.51 253.54,177.69 253.62,177.85 253.70,177.99 253.78,178.11 253.86,178.23 253.94,178.28 254.02,178.32 254.10,178.36 254.18,178.39 254.26,178.43 254.34,178.46 254.42,178.49 254.50,178.52 254.58,178.54 254.66,178.55 254.74,178.53 254.82,178.50 254.90,178.47 254.98,178.44 255.06,178.42 255.14,178.39 255.22,178.36 255.30,178.33 255.38,178.31 255.46,178.31 255.54,178.32 255.62,178.32 255.70,178.33 255.78,178.29 255.86,178.25 255.94,178.21 256.02,178.17 256.10,178.08 256.18,177.95 256.26,177.81 256.34,177.65 256.42,177.47 256.50,177.28 256.58,177.06 256.66,176.82 256.74,176.55 256.82,176.25 256.90,175.92 256.98,175.55 257.06,175.13 257.14,174.67 257.22,174.16 257.30,173.59 257.38,172.96 257.46,172.25 257.54,171.47 257.62,170.59 257.70,169.62 257.78,168.54 257.86,167.33 257.94,165.99 258.02,164.50 258.10,162.84 258.18,160.99 258.26,158.93 258.34,156.63 258.42,154.08 258.50,151.24 258.58,148.08 258.66,144.57 258.74,140.65 258.82,136.29 258.90,131.44 258.98,126.04 259.06,120.03 259.14,113.35 259.22,102.10 259.30,78.44 259.38,52.53 259.46,33.83 259.54,33.83 259.62,52.53 259.70,78.44 259.78,102.10 259.86,113.35 259.94,120.03 260.02,126.04 260.10,131.44 260.18,136.29 260.26,140.65 260.34,144.57 260.42,148.08 260.50,151.24 260.58,154.08 260.66,156.63 260.74,158.93 260.82,160.99 260.90,162.84 260.98,164.50 261.06,165.99 261.14,167.33 261.22,168.54 261.30,169.62 261.38,170.59 261.46,171.47 261.54,172.25 261.62,172.96 261.70,173.59 261.78,174.16 261.86,174.67 261.94,175.13 262.02,175.55 262.10,175.92 262.18,176.25 262.26,176.55 262.34,176.82 262.42,177.06 262.50,177.28 262.58,177.47 262.66,177.65 262.74,177.81 262.82,177.95 262.90,177.96 262.98,177.93 263.06,177.89 263.14,177.94 263.22,177.98 263.30,178.03 263.38,178.07 263.46,178.12 263.54,178.17 263.62,178.21 263.70,178.26 263.78,178.31 263.86,178.35 263.94,178.40 264.02,178.44 264.10,178.45 264.18,178.46 264.26,178.47 264.34,178.48 264.42,178.49 264.50,178.50 264.58,178.51 264.66,178.52 264.74,178.53 264.82,178.54 264.90,178.54 264.98,178.55 265.06,178.51 265.14,178.48 265.22,178.44 265.30,178.40 265.38,178.36 265.46,178.32 265.54,178.28 265.62,178.24 265.70,178.20 265.78,178.16 265.86,178.12 265.94,178.09 266.02,178.10 266.10,178.05 266.18,177.93 266.26,177.79 266.34,177.63 266.42,177.46 266.50,177.27 266.58,177.06 266.66,176.82 266.74,176.56 266.82,176.27 266.90,175.95 266.98,175.59 267.06,175.20 267.14,174.76 267.22,174.27 267.30,173.73 267.38,173.13 267.46,172.47 267.54,171.73 267.62,170.91 267.70,170.00 267.78,168.99 267.86,167.87 267.94,166.62 268.02,165.24 268.10,163.71 268.18,162.01 268.26,160.12 268.34,158.03 268.42,155.70 268.50,153.13 268.58,150.26 268.66,147.09 268.74,143.56 268.82,139.65 268.90,135.31 268.98,130.49 269.06,125.15 269.14,119.22 269.22,108.04 269.30,87.03 269.38,64.44 269.46,48.41 269.54,48.41 269.62,64.44 269.70,87.03 269.78,108.04 269.86,119.22 269.94,125.15 270.02,130.49 270.10,135.31 270.18,139.65 270.26,143.56 270.34,147.09 270.42,150.26 270.50,153.13 270.58,155.70 270.66,158.03 270.74,160.12 270.82,162.01 270.90,163.71 270.98,165.24 271.06,166.62 271.14,167.87 271.22,168.99 271.30,170.00 271.38,170.91 271.46,171.73 271.54,172.47 271.62,173.13 271.70,173.73 271.78,174.27" fill="none" stroke="#0072BD" stroke-width="1.55" stroke-linejoin="round"/>
<path d="M38.50 179.20V29.30M48.50 179.20V29.30M58.50 179.20V29.30M67.50 179.20V29.30M77.50 179.20V29.30M86.50 179.20V29.30M96.50 179.20V29.30M106.50 179.20V29.30M115.50 179.20V29.30M125.50 179.20V29.30M134.50 179.20V29.30M144.50 179.20V29.30M154.50 179.20V29.30M163.50 179.20V29.30M173.50 179.20V29.30M182.50 179.20V29.30M192.50 179.20V29.30M202.50 179.20V29.30M211.50 179.20V29.30M221.50 179.20V29.30M230.50 179.20V29.30M240.50 179.20V29.30M250.50 179.20V29.30M259.50 179.20V29.30M269.50 179.20V29.30" fill="none" stroke="#FF0000" stroke-width="1.35" stroke-dasharray="3.3 2.7"/>
</g>
<g font-family="Liberation Sans, Arial, Helvetica, sans-serif" font-size="8.2" fill="#262626">
<text x="45.07" y="190.80" textLength="13.27" lengthAdjust="spacingAndGlyphs">-40</text>
<text x="96.29" y="190.80" textLength="13.27" lengthAdjust="spacingAndGlyphs">-20</text>
<text x="151.60" y="190.80" textLength="5.11" lengthAdjust="spacingAndGlyphs">0</text>
<text x="200.27" y="190.80" textLength="10.21" lengthAdjust="spacingAndGlyphs">20</text>
<text x="251.49" y="190.80" textLength="10.21" lengthAdjust="spacingAndGlyphs">40</text>
<text x="27.59" y="182.15" textLength="5.11" lengthAdjust="spacingAndGlyphs">0</text>
<text x="19.93" y="152.17" textLength="12.77" lengthAdjust="spacingAndGlyphs">0.2</text>
<text x="19.93" y="122.19" textLength="12.77" lengthAdjust="spacingAndGlyphs">0.4</text>
<text x="19.93" y="92.21" textLength="12.77" lengthAdjust="spacingAndGlyphs">0.6</text>
<text x="19.93" y="62.23" textLength="12.77" lengthAdjust="spacingAndGlyphs">0.8</text>
<text x="27.59" y="32.25" textLength="5.11" lengthAdjust="spacingAndGlyphs">1</text>
</g>
<text x="128.00" y="198.30" font-family="Liberation Serif, Times New Roman, serif" font-size="11" fill="#111" textLength="49" lengthAdjust="spacingAndGlyphs"><tspan font-style="italic">θ</tspan>(Degree)</text>
<text transform="translate(16.10,159.50) rotate(-90)" font-family="Liberation Serif, Times New Roman, serif" font-size="11.4" fill="#111" textLength="112" lengthAdjust="spacingAndGlyphs">Normalized Spectrum(dB)</text>
<text x="115.00" y="25.00" font-family="Liberation Serif, Times New Roman, serif" font-weight="bold" font-size="9.2" fill="#111" textLength="79.4" lengthAdjust="spacingAndGlyphs">(a) SA-U3 K=25</text>
<rect x="310.7" y="25.7" width="234.09999999999997" height="155.10000000000002" fill="none" stroke="#262626" stroke-width="0.75"/>
<path d="M326.10 180.8v-2.3M326.10 25.7v2.3M376.90 180.8v-2.3M376.90 25.7v2.3M427.70 180.8v-2.3M427.70 25.7v2.3M478.50 180.8v-2.3M478.50 25.7v2.3M529.30 180.8v-2.3M529.30 25.7v2.3M310.7 180.80h2.3M544.8 180.80h-2.3M310.7 149.78h2.3M544.8 149.78h-2.3M310.7 118.76h2.3M544.8 118.76h-2.3M310.7 87.74h2.3M544.8 87.74h-2.3M310.7 56.72h2.3M544.8 56.72h-2.3M310.7 25.70h2.3M544.8 25.70h-2.3" stroke="#262626" stroke-width="0.7" fill="none"/>
<clipPath id="c1"><rect x="310.3" y="24.8" width="234.89999999999998" height="156.90000000000003"/></clipPath>
<g clip-path="url(#c1)">
<polyline points="310.70,173.72 310.78,173.12 310.86,172.48 310.94,171.78 311.02,171.04 311.10,170.23 311.18,169.37 311.26,168.44 311.34,167.44 311.42,166.36 311.50,165.20 311.58,163.95 311.66,162.61 311.74,161.17 311.82,159.62 311.90,157.95 311.98,156.15 312.06,154.21 312.14,152.13 312.22,149.89 312.30,147.48 312.38,144.89 312.46,142.10 312.54,139.09 312.62,135.86 312.70,132.39 312.78,128.65 312.86,124.62 312.94,120.29 313.02,115.63 313.10,110.62 313.18,98.24 313.26,77.08 313.34,53.95 313.42,34.39 313.50,26.48 313.58,34.39 313.66,53.95 313.74,77.08 313.82,98.24 313.90,110.62 313.98,115.63 314.06,120.29 314.14,124.62 314.22,128.65 314.30,132.39 314.38,135.86 314.46,139.09 314.54,142.10 314.62,144.89 314.70,147.48 314.78,149.89 314.86,152.13 314.94,154.21 315.02,156.15 315.10,157.95 315.18,159.62 315.26,161.17 315.34,162.61 315.42,163.95 315.50,165.20 315.58,166.36 315.66,167.44 315.74,168.44 315.82,169.37 315.90,170.23 315.98,171.04 316.06,171.78 316.14,172.48 316.22,173.12 316.30,173.72 316.38,174.28 316.46,174.80 316.54,175.28 316.62,175.72 316.70,176.14 316.78,176.53 316.86,176.88 316.94,177.22 317.02,177.53 317.10,177.82 317.18,178.08 317.26,178.33 317.34,178.55 317.42,178.70 317.50,178.83 317.58,178.94 317.66,179.03 317.74,179.10 317.82,179.16 317.90,179.20 317.98,179.22 318.06,179.22 318.14,179.21 318.22,179.18 318.30,179.13 318.38,179.06 318.46,178.97 318.54,178.87 318.62,178.74 318.70,178.60 318.78,178.43 318.86,178.19 318.94,177.92 319.02,177.64 319.10,177.33 319.18,177.00 319.26,176.64 319.34,176.26 319.42,175.84 319.50,175.39 319.58,174.91 319.66,174.39 319.74,173.83 319.82,173.23 319.90,172.58 319.98,171.88 320.06,171.12 320.14,170.31 320.22,169.43 320.30,168.49 320.38,167.47 320.46,166.37 320.54,165.19 320.62,163.92 320.70,162.55 320.78,161.07 320.86,159.47 320.94,157.76 321.02,155.91 321.10,153.91 321.18,151.77 321.26,149.45 321.34,146.96 321.42,144.27 321.50,141.37 321.58,138.25 321.66,134.88 321.74,131.26 321.82,127.35 321.90,123.15 321.98,118.61 322.06,113.72 322.14,108.46 322.22,89.58 322.30,66.68 322.38,43.83 322.46,28.62 322.54,28.62 322.62,43.83 322.70,66.68 322.78,89.58 322.86,108.46 322.94,113.72 323.02,118.61 323.10,123.15 323.18,127.35 323.26,131.26 323.34,134.88 323.42,138.25 323.50,141.37 323.58,144.27 323.66,146.96 323.74,149.45 323.82,151.77 323.90,153.91 323.98,155.91 324.06,157.76 324.14,159.47 324.22,161.07 324.30,162.55 324.38,163.92 324.46,165.19 324.54,166.37 324.62,167.47 324.70,168.49 324.78,169.43 324.86,170.31 324.94,171.12 325.02,171.88 325.10,172.58 325.18,173.23 325.26,173.83 325.34,174.39 325.42,174.91 325.50,175.39 325.58,175.84 325.66,176.26 325.74,176.64 325.82,177.00 325.90,177.33 325.98,177.64 326.06,177.92 326.14,178.19 326.22,178.44 326.30,178.66 326.38,178.88 326.46,179.07 326.54,179.26 326.62,179.42 326.70,179.58 326.78,179.73 326.86,179.79 326.94,179.77 327.02,179.75 327.10,179.80 327.18,179.84 327.26,179.88 327.34,179.92 327.42,179.96 327.50,180.00 327.58,180.04 327.66,180.08 327.74,180.13 327.82,180.17 327.90,180.21 327.98,180.22 328.06,180.11 328.14,179.98 328.22,179.85 328.30,179.71 328.38,179.56 328.46,179.40 328.54,179.22 328.62,179.03 328.70,178.83 328.78,178.60 328.86,178.36 328.94,178.10 329.02,177.83 329.10,177.52 329.18,177.20 329.26,176.85 329.34,176.47 329.42,176.06 329.50,175.62 329.58,175.14 329.66,174.63 329.74,174.07 329.82,173.47 329.90,172.83 329.98,172.13 330.06,171.38 330.14,170.57 330.22,169.69 330.30,168.74 330.38,167.72 330.46,166.62 330.54,165.43 330.62,164.15 330.70,162.76 330.78,161.27 330.86,159.65 330.94,157.91 331.02,156.03 331.10,154.00 331.18,151.81 331.26,149.45 331.34,146.90 331.42,144.15 331.50,141.17 331.58,137.97 331.66,134.51 331.74,130.77 331.82,126.74 331.90,122.39 331.98,117.70 332.06,112.63 332.14,107.16 332.22,88.88 332.30,65.09 332.38,41.05 332.46,24.88 332.54,24.88 332.62,41.05 332.70,65.09 332.78,88.88 332.86,107.16 332.94,112.63 333.02,117.70 333.10,122.39 333.18,126.74 333.26,130.77 333.34,134.51 333.42,137.97 333.50,141.17 333.58,144.15 333.66,146.90 333.74,149.45 333.82,151.81 333.90,154.00 333.98,156.03 334.06,157.91 334.14,159.65 334.22,161.27 334.30,162.76 334.38,164.15 334.46,165.43 334.54,166.62 334.62,167.72 334.70,168.74 334.78,169.69 334.86,170.57 334.94,171.38 335.02,172.13 335.10,172.83 335.18,173.47 335.26,174.07 335.34,174.63 335.42,175.14 335.50,175.62 335.58,176.06 335.66,176.47 335.74,176.85 335.82,177.20 335.90,177.52 335.98,177.83 336.06,178.10 336.14,178.36 336.22,178.60 336.30,178.83 336.38,179.03 336.46,179.22 336.54,179.38 336.62,179.48 336.70,179.57 336.78,179.65 336.86,179.71 336.94,179.75 337.02,179.78 337.10,179.79 337.18,179.79 337.26,179.77 337.34,179.74 337.42,179.69 337.50,179.63 337.58,179.55 337.66,179.39 337.74,179.22 337.82,179.04 337.90,178.84 337.98,178.63 338.06,178.40 338.14,178.15 338.22,177.88 338.30,177.59 338.38,177.28 338.46,176.94 338.54,176.57 338.62,176.17 338.70,175.75 338.78,175.28 338.86,174.78 338.94,174.24 339.02,173.66 339.10,173.03 339.18,172.34 339.26,171.61 339.34,170.81 339.42,169.95 339.50,169.02 339.58,168.01 339.66,166.92 339.74,165.75 339.82,164.48 339.90,163.11 339.98,161.62 340.06,160.02 340.14,158.29 340.22,156.42 340.30,154.40 340.38,152.21 340.46,149.85 340.54,147.30 340.62,144.54 340.70,141.56 340.78,138.34 340.86,134.85 340.94,131.09 341.02,127.03 341.10,122.63 341.18,114.63 341.26,96.32 341.34,75.62 341.42,57.53 341.50,50.05 341.58,57.53 341.66,75.62 341.74,96.32 341.82,114.63 341.90,122.63 341.98,127.03 342.06,131.09 342.14,134.85 342.22,138.34 342.30,141.56 342.38,144.54 342.46,147.30 342.54,149.85 342.62,152.21 342.70,154.40 342.78,156.42 342.86,158.29 342.94,160.02 343.02,161.62 343.10,163.11 343.18,164.48 343.26,165.75 343.34,166.92 343.42,168.01 343.50,169.02 343.58,169.95 343.66,170.81 343.74,171.61 343.82,172.34 343.90,173.03 343.98,173.66 344.06,174.24 344.14,174.78 344.22,175.28 344.30,175.75 344.38,176.17 344.46,176.57 344.54,176.94 344.62,177.28 344.70,177.59 344.78,177.88 344.86,178.15 344.94,178.40 345.02,178.63 345.10,178.84 345.18,179.04 345.26,179.22 345.34,179.39 345.42,179.55 345.50,179.69 345.58,179.72 345.66,179.71 345.74,179.71 345.82,179.70 345.90,179.69 345.98,179.69 346.06,179.68 346.14,179.67 346.22,179.67 346.30,179.71 346.38,179.75 346.46,179.79 346.54,179.83 346.62,179.87 346.70,179.91 346.78,179.95 346.86,179.99 346.94,180.03 347.02,180.07 347.10,180.11 347.18,180.15 347.26,180.06 347.34,179.93 347.42,179.79 347.50,179.64 347.58,179.48 347.66,179.31 347.74,179.12 347.82,178.92 347.90,178.70 347.98,178.46 348.06,178.20 348.14,177.92 348.22,177.62 348.30,177.29 348.38,176.94 348.46,176.55 348.54,176.14 348.62,175.69 348.70,175.20 348.78,174.68 348.86,174.11 348.94,173.50 349.02,172.83 349.10,172.11 349.18,171.33 349.26,170.49 349.34,169.57 349.42,168.59 349.50,167.52 349.58,166.36 349.66,165.11 349.74,163.75 349.82,162.29 349.90,160.70 349.98,158.98 350.06,157.13 350.14,155.12 350.22,152.94 350.30,150.59 350.38,148.04 350.46,145.28 350.54,142.30 350.62,139.07 350.70,135.57 350.78,131.79 350.86,127.70 350.94,123.27 351.02,118.48 351.10,113.30 351.18,104.81 351.26,83.31 351.34,58.74 351.42,37.06 351.50,28.03 351.58,37.06 351.66,58.74 351.74,83.31 351.82,104.81 351.90,113.30 351.98,118.48 352.06,123.27 352.14,127.70 352.22,131.79 352.30,135.57 352.38,139.07 352.46,142.30 352.54,145.28 352.62,148.04 352.70,150.59 352.78,152.94 352.86,155.12 352.94,157.13 353.02,158.98 353.10,160.70 353.18,162.29 353.26,163.75 353.34,165.11 353.42,166.36 353.50,167.52 353.58,168.59 353.66,169.57 353.74,170.49 353.82,171.33 353.90,172.11 353.98,172.83 354.06,173.50 354.14,174.11 354.22,174.68 354.30,175.20 354.38,175.69 354.46,176.14 354.54,176.55 354.62,176.94 354.70,177.29 354.78,177.62 354.86,177.92 354.94,178.20 355.02,178.46 355.10,178.70 355.18,178.92 355.26,179.12 355.34,179.31 355.42,179.48 355.50,179.64 355.58,179.79 355.66,179.93 355.74,180.06 355.82,180.17 355.90,180.24 355.98,180.25 356.06,180.25 356.14,180.25 356.22,180.26 356.30,180.26 356.38,180.26 356.46,180.27 356.54,180.27 356.62,180.27 356.70,180.28 356.78,180.28 356.86,180.25 356.94,180.21 357.02,180.18 357.10,180.15 357.18,180.11 357.26,180.08 357.34,180.05 357.42,180.01 357.50,179.94 357.58,179.81 357.66,179.67 357.74,179.52 357.82,179.36 357.90,179.18 357.98,178.99 358.06,178.79 358.14,178.56 358.22,178.32 358.30,178.06 358.38,177.77 358.46,177.46 358.54,177.13 358.62,176.77 358.70,176.38 358.78,175.95 358.86,175.49 358.94,174.99 359.02,174.45 359.10,173.87 359.18,173.23 359.26,172.55 359.34,171.80 359.42,171.00 359.50,170.12 359.58,169.18 359.66,168.15 359.74,167.04 359.82,165.83 359.90,164.53 359.98,163.12 360.06,161.58 360.14,159.92 360.22,158.13 360.30,156.18 360.38,154.07 360.46,151.78 360.54,149.30 360.62,146.62 360.70,143.71 360.78,140.56 360.86,137.14 360.94,133.44 361.02,129.43 361.10,125.09 361.18,118.68 361.26,100.75 361.34,80.07 361.42,61.65 361.50,53.93 361.58,61.65 361.66,80.07 361.74,100.75 361.82,118.68 361.90,125.09 361.98,129.43 362.06,133.44 362.14,137.14 362.22,140.56 362.30,143.71 362.38,146.62 362.46,149.30 362.54,151.78 362.62,154.07 362.70,156.18 362.78,158.13 362.86,159.92 362.94,161.58 363.02,163.12 363.10,164.53 363.18,165.83 363.26,167.04 363.34,168.15 363.42,169.18 363.50,170.12 363.58,171.00 363.66,171.80 363.74,172.55 363.82,173.23 363.90,173.87 363.98,174.45 364.06,174.99 364.14,175.49 364.22,175.95 364.30,176.38 364.38,176.77 364.46,177.13 364.54,177.46 364.62,177.77 364.70,178.06 364.78,178.32 364.86,178.56 364.94,178.79 365.02,178.99 365.10,179.18 365.18,179.36 365.26,179.52 365.34,179.67 365.42,179.81 365.50,179.86 365.58,179.86 365.66,179.87 365.74,179.88 365.82,179.88 365.90,179.89 365.98,179.90 366.06,179.90 366.14,179.91 366.22,179.92 366.30,179.92 366.38,179.93 366.46,179.91 366.54,179.76 366.62,179.61 366.70,179.44 366.78,179.25 366.86,179.05 366.94,178.84 367.02,178.60 367.10,178.35 367.18,178.07 367.26,177.77 367.34,177.45 367.42,177.10 367.50,176.72 367.58,176.30 367.66,175.85 367.74,175.37 367.82,174.84 367.90,174.27 367.98,173.64 368.06,172.97 368.14,172.24 368.22,171.45 368.30,170.59 368.38,169.66 368.46,168.65 368.54,167.55 368.62,166.36 368.70,165.07 368.78,163.67 368.86,162.16 368.94,160.51 369.02,158.73 369.10,156.80 369.18,154.70 369.26,152.42 369.34,149.95 369.42,147.28 369.50,144.38 369.58,141.23 369.66,137.81 369.74,134.11 369.82,130.09 369.90,125.74 369.98,121.01 370.06,115.89 370.14,110.34 370.22,95.60 370.30,71.48 370.38,46.14 370.46,28.54 370.54,28.54 370.62,46.14 370.70,71.48 370.78,95.60 370.86,110.34 370.94,115.89 371.02,121.01 371.10,125.74 371.18,130.09 371.26,134.11 371.34,137.81 371.42,141.23 371.50,144.38 371.58,147.28 371.66,149.95 371.74,152.42 371.82,154.70 371.90,156.80 371.98,158.73 372.06,160.51 372.14,162.16 372.22,163.67 372.30,165.07 372.38,166.36 372.46,167.55 372.54,168.65 372.62,169.66 372.70,170.59 372.78,171.45 372.86,172.24 372.94,172.97 373.02,173.64 373.10,174.27 373.18,174.84 373.26,175.37 373.34,175.85 373.42,176.30 373.50,176.72 373.58,177.10 373.66,177.45 373.74,177.77 373.82,178.07 373.90,178.35 373.98,178.60 374.06,178.84 374.14,179.05 374.22,179.25 374.30,179.44 374.38,179.61 374.46,179.76 374.54,179.91 374.62,180.04 374.70,180.16 374.78,180.24 374.86,180.24 374.94,180.23 375.02,180.23 375.10,180.24 375.18,180.25 375.26,180.26 375.34,180.27 375.42,180.27 375.50,180.28 375.58,180.29 375.66,180.30 375.74,180.31 375.82,180.32 375.90,180.32 375.98,180.33 376.06,180.32 376.14,180.31 376.22,180.29 376.30,180.24 376.38,180.13 376.46,180.00 376.54,179.87 376.62,179.72 376.70,179.56 376.78,179.39 376.86,179.20 376.94,178.99 377.02,178.77 377.10,178.53 377.18,178.27 377.26,177.98 377.34,177.68 377.42,177.34 377.50,176.98 377.58,176.58 377.66,176.15 377.74,175.69 377.82,175.18 377.90,174.63 377.98,174.04 378.06,173.39 378.14,172.69 378.22,171.93 378.30,171.10 378.38,170.20 378.46,169.23 378.54,168.17 378.62,167.02 378.70,165.78 378.78,164.42 378.86,162.95 378.94,161.36 379.02,159.63 379.10,157.75 379.18,155.71 379.26,153.49 379.34,151.09 379.42,148.48 379.50,145.64 379.58,142.57 379.66,139.23 379.74,135.60 379.82,131.67 379.90,127.39 379.98,122.76 380.06,117.72 380.14,112.26 380.22,98.44 380.30,74.73 380.38,49.65 380.46,32.10 380.54,32.10 380.62,49.65 380.70,74.73 380.78,98.44 380.86,112.26 380.94,117.72 381.02,122.76 381.10,127.39 381.18,131.67 381.26,135.60 381.34,139.23 381.42,142.57 381.50,145.64 381.58,148.48 381.66,151.09 381.74,153.49 381.82,155.71 381.90,157.75 381.98,159.63 382.06,161.36 382.14,162.95 382.22,164.42 382.30,165.78 382.38,167.02 382.46,168.17 382.54,169.23 382.62,170.20 382.70,171.10 382.78,171.93 382.86,172.69 382.94,173.39 383.02,174.04 383.10,174.63 383.18,175.18 383.26,175.69 383.34,176.15 383.42,176.58 383.50,176.98 383.58,177.34 383.66,177.68 383.74,177.98 383.82,178.27 383.90,178.53 383.98,178.77 384.06,178.99 384.14,179.20 384.22,179.39 384.30,179.56 384.38,179.72 384.46,179.82 384.54,179.80 384.62,179.78 384.70,179.79 384.78,179.80 384.86,179.82 384.94,179.83 385.02,179.84 385.10,179.85 385.18,179.86 385.26,179.88 385.34,179.89 385.42,179.90 385.50,179.91 385.58,179.92 385.66,179.82 385.74,179.68 385.82,179.52 385.90,179.35 385.98,179.16 386.06,178.96 386.14,178.73 386.22,178.50 386.30,178.24 386.38,177.95 386.46,177.65 386.54,177.31 386.62,176.95 386.70,176.56 386.78,176.13 386.86,175.66 386.94,175.16 387.02,174.61 387.10,174.01 387.18,173.37 387.26,172.66 387.34,171.90 387.42,171.07 387.50,170.17 387.58,169.19 387.66,168.12 387.74,166.97 387.82,165.71 387.90,164.35 387.98,162.87 388.06,161.26 388.14,159.51 388.22,157.61 388.30,155.54 388.38,153.30 388.46,150.87 388.54,148.22 388.62,145.35 388.70,142.22 388.78,138.83 388.86,135.15 388.94,131.14 389.02,126.79 389.10,122.07 389.18,116.64 389.26,97.35 389.34,74.65 389.42,54.01 389.50,45.24 389.58,54.01 389.66,74.65 389.74,97.35 389.82,116.64 389.90,122.07 389.98,126.79 390.06,131.14 390.14,135.15 390.22,138.83 390.30,142.22 390.38,145.35 390.46,148.22 390.54,150.87 390.62,153.30 390.70,155.54 390.78,157.61 390.86,159.51 390.94,161.26 391.02,162.87 391.10,164.35 391.18,165.71 391.26,166.97 391.34,168.12 391.42,169.19 391.50,170.17 391.58,171.07 391.66,171.90 391.74,172.66 391.82,173.37 391.90,174.01 391.98,174.61 392.06,175.16 392.14,175.66 392.22,176.13 392.30,176.56 392.38,176.95 392.46,177.31 392.54,177.65 392.62,177.95 392.70,178.24 392.78,178.50 392.86,178.73 392.94,178.96 393.02,179.16 393.10,179.35 393.18,179.52 393.26,179.68 393.34,179.82 393.42,179.96 393.50,180.08 393.58,180.19 393.66,180.22 393.74,180.20 393.82,180.19 393.90,180.17 393.98,180.16 394.06,180.14 394.14,180.13 394.22,180.11 394.30,180.08 394.38,180.05 394.46,180.03 394.54,180.00 394.62,179.97 394.70,179.95 394.78,179.92 394.86,179.89 394.94,179.86 395.02,179.84 395.10,179.81 395.18,179.78 395.26,179.83 395.34,179.87 395.42,179.91 395.50,179.96 395.58,180.00 395.66,179.99 395.74,179.86 395.82,179.73 395.90,179.58 395.98,179.42 396.06,179.25 396.14,179.06 396.22,178.85 396.30,178.63 396.38,178.39 396.46,178.13 396.54,177.84 396.62,177.53 396.70,177.19 396.78,176.82 396.86,176.42 396.94,175.98 397.02,175.51 397.10,175.00 397.18,174.44 397.26,173.83 397.34,173.17 397.42,172.45 397.50,171.67 397.58,170.82 397.66,169.90 397.74,168.90 397.82,167.81 397.90,166.62 397.98,165.34 398.06,163.94 398.14,162.42 398.22,160.76 398.30,158.96 398.38,157.01 398.46,154.88 398.54,152.58 398.62,150.07 398.70,147.34 398.78,144.37 398.86,141.15 398.94,137.64 399.02,133.83 399.10,129.69 399.18,125.19 399.26,108.37 399.34,88.43 399.42,70.22 399.50,62.46 399.58,70.22 399.66,88.43 399.74,108.37 399.82,125.19 399.90,129.69 399.98,133.83 400.06,137.64 400.14,141.15 400.22,144.37 400.30,147.34 400.38,150.07 400.46,152.58 400.54,154.88 400.62,157.01 400.70,158.96 400.78,160.76 400.86,162.42 400.94,163.94 401.02,165.34 401.10,166.62 401.18,167.81 401.26,168.90 401.34,169.90 401.42,170.82 401.50,171.67 401.58,172.45 401.66,173.17 401.74,173.83 401.82,174.44 401.90,175.00 401.98,175.51 402.06,175.98 402.14,176.42 402.22,176.82 402.30,177.19 402.38,177.53 402.46,177.84 402.54,178.13 402.62,178.39 402.70,178.63 402.78,178.85 402.86,179.06 402.94,179.25 403.02,179.42 403.10,179.58 403.18,179.73 403.26,179.86 403.34,179.99 403.42,180.10 403.50,180.17 403.58,180.20 403.66,180.23 403.74,180.26 403.82,180.30 403.90,180.27 403.98,180.23 404.06,180.20 404.14,180.17 404.22,180.14 404.30,180.11 404.38,180.08 404.46,180.05 404.54,180.02 404.62,179.99 404.70,179.86 404.78,179.72 404.86,179.57 404.94,179.40 405.02,179.22 405.10,179.02 405.18,178.80 405.26,178.57 405.34,178.31 405.42,178.03 405.50,177.73 405.58,177.40 405.66,177.04 405.74,176.65 405.82,176.23 405.90,175.77 405.98,175.27 406.06,174.73 406.14,174.14 406.22,173.49 406.30,172.79 406.38,172.03 406.46,171.20 406.54,170.31 406.62,169.33 406.70,168.26 406.78,167.11 406.86,165.85 406.94,164.48 407.02,162.99 407.10,161.37 407.18,159.61 407.26,157.70 407.34,155.62 407.42,153.36 407.50,150.90 407.58,148.22 407.66,145.31 407.74,142.15 407.82,138.71 407.90,134.96 407.98,130.89 408.06,126.47 408.14,121.66 408.22,110.55 408.30,89.72 408.38,67.38 408.46,51.57 408.54,51.57 408.62,67.38 408.70,89.72 408.78,110.55 408.86,121.66 408.94,126.47 409.02,130.89 409.10,134.96 409.18,138.71 409.26,142.15 409.34,145.31 409.42,148.22 409.50,150.90 409.58,153.36 409.66,155.62 409.74,157.70 409.82,159.61 409.90,161.37 409.98,162.99 410.06,164.48 410.14,165.85 410.22,167.11 410.30,168.26 410.38,169.33 410.46,170.31 410.54,171.20 410.62,172.03 410.70,172.79 410.78,173.49 410.86,174.14 410.94,174.73 411.02,175.27 411.10,175.77 411.18,176.23 411.26,176.65 411.34,177.04 411.42,177.40 411.50,177.73 411.58,178.03 411.66,178.31 411.74,178.57 411.82,178.80 411.90,179.02 411.98,179.22 412.06,179.40 412.14,179.57 412.22,179.72 412.30,179.86 412.38,179.83 412.46,179.79 412.54,179.81 412.62,179.82 412.70,179.83 412.78,179.84 412.86,179.85 412.94,179.86 413.02,179.87 413.10,179.88 413.18,179.90 413.26,179.91 413.34,179.92 413.42,179.93 413.50,179.93 413.58,179.93 413.66,179.93 413.74,179.93 413.82,179.93 413.90,179.93 413.98,179.93 414.06,179.93 414.14,179.93 414.22,179.94 414.30,179.94 414.38,179.94 414.46,179.94 414.54,179.95 414.62,179.95 414.70,179.81 414.78,179.65 414.86,179.49 414.94,179.31 415.02,179.11 415.10,178.90 415.18,178.67 415.26,178.41 415.34,178.14 415.42,177.84 415.50,177.51 415.58,177.16 415.66,176.77 415.74,176.36 415.82,175.90 415.90,175.40 415.98,174.87 416.06,174.28 416.14,173.64 416.22,172.95 416.30,172.19 416.38,171.37 416.46,170.48 416.54,169.51 416.62,168.45 416.70,167.30 416.78,166.05 416.86,164.69 416.94,163.21 417.02,161.60 417.10,159.85 417.18,157.95 417.26,155.88 417.34,153.62 417.42,151.17 417.50,148.51 417.58,145.61 417.66,142.45 417.74,139.02 417.82,135.29 417.90,131.23 417.98,126.81 418.06,122.01 418.14,116.78 418.22,104.90 418.30,82.29 418.38,57.99 418.46,40.76 418.54,40.76 418.62,57.99 418.70,82.29 418.78,104.90 418.86,116.78 418.94,122.01 419.02,126.81 419.10,131.23 419.18,135.29 419.26,139.02 419.34,142.45 419.42,145.61 419.50,148.51 419.58,151.17 419.66,153.62 419.74,155.88 419.82,157.95 419.90,159.85 419.98,161.60 420.06,163.21 420.14,164.69 420.22,166.05 420.30,167.30 420.38,168.45 420.46,169.51 420.54,170.48 420.62,171.37 420.70,172.19 420.78,172.95 420.86,173.64 420.94,174.28 421.02,174.87 421.10,175.40 421.18,175.90 421.26,176.36 421.34,176.77 421.42,177.16 421.50,177.51 421.58,177.84 421.66,178.14 421.74,178.41 421.82,178.67 421.90,178.90 421.98,179.11 422.06,179.31 422.14,179.49 422.22,179.65 422.30,179.74 422.38,179.77 422.46,179.80 422.54,179.83 422.62,179.86 422.70,179.90 422.78,179.93 422.86,179.96 422.94,179.99 423.02,180.02 423.10,180.01 423.18,179.99 423.26,179.98 423.34,179.97 423.42,179.96 423.50,179.95 423.58,179.93 423.66,179.92 423.74,179.83 423.82,179.69 423.90,179.53 423.98,179.36 424.06,179.17 424.14,178.97 424.22,178.75 424.30,178.51 424.38,178.25 424.46,177.97 424.54,177.66 424.62,177.32 424.70,176.96 424.78,176.56 424.86,176.13 424.94,175.65 425.02,175.14 425.10,174.59 425.18,173.98 425.26,173.32 425.34,172.60 425.42,171.82 425.50,170.98 425.58,170.05 425.66,169.05 425.74,167.96 425.82,166.77 425.90,165.48 425.98,164.07 426.06,162.54 426.14,160.88 426.22,159.07 426.30,157.10 426.38,154.96 426.46,152.62 426.54,150.09 426.62,147.33 426.70,144.33 426.78,141.07 426.86,137.52 426.94,133.65 427.02,129.45 427.10,124.88 427.18,119.91 427.26,101.81 427.34,79.76 427.42,59.50 427.50,50.83 427.58,59.50 427.66,79.76 427.74,101.81 427.82,119.91 427.90,124.88 427.98,129.45 428.06,133.65 428.14,137.52 428.22,141.07 428.30,144.33 428.38,147.33 428.46,150.09 428.54,152.62 428.62,154.96 428.70,157.10 428.78,159.07 428.86,160.88 428.94,162.54 429.02,164.07 429.10,165.48 429.18,166.77 429.26,167.96 429.34,169.05 429.42,170.05 429.50,170.98 429.58,171.82 429.66,172.60 429.74,173.32 429.82,173.98 429.90,174.59 429.98,175.14 430.06,175.65 430.14,176.13 430.22,176.56 430.30,176.96 430.38,177.32 430.46,177.66 430.54,177.97 430.62,178.25 430.70,178.51 430.78,178.75 430.86,178.97 430.94,179.17 431.02,179.36 431.10,179.53 431.18,179.69 431.26,179.83 431.34,179.97 431.42,179.97 431.50,179.94 431.58,179.91 431.66,179.89 431.74,179.88 431.82,179.88 431.90,179.88 431.98,179.88 432.06,179.88 432.14,179.88 432.22,179.88 432.30,179.88 432.38,179.88 432.46,179.88 432.54,179.87 432.62,179.87 432.70,179.87 432.78,179.86 432.86,179.86 432.94,179.85 433.02,179.85 433.10,179.84 433.18,179.84 433.26,179.83 433.34,179.83 433.42,179.82 433.50,179.82 433.58,179.82 433.66,179.84 433.74,179.85 433.82,179.71 433.90,179.55 433.98,179.39 434.06,179.20 434.14,179.00 434.22,178.79 434.30,178.55 434.38,178.30 434.46,178.02 434.54,177.72 434.62,177.39 434.70,177.03 434.78,176.64 434.86,176.22 434.94,175.76 435.02,175.26 435.10,174.72 435.18,174.12 435.26,173.48 435.34,172.78 435.42,172.02 435.50,171.19 435.58,170.28 435.66,169.30 435.74,168.24 435.82,167.08 435.90,165.81 435.98,164.44 436.06,162.95 436.14,161.32 436.22,159.55 436.30,157.63 436.38,155.54 436.46,153.26 436.54,150.79 436.62,148.10 436.70,145.17 436.78,141.98 436.86,138.52 436.94,134.75 437.02,130.65 437.10,126.19 437.18,121.34 437.26,103.63 437.34,82.12 437.42,62.38 437.50,53.93 437.58,62.38 437.66,82.12 437.74,103.63 437.82,121.34 437.90,126.19 437.98,130.65 438.06,134.75 438.14,138.52 438.22,141.98 438.30,145.17 438.38,148.10 438.46,150.79 438.54,153.26 438.62,155.54 438.70,157.63 438.78,159.55 438.86,161.32 438.94,162.95 439.02,164.44 439.10,165.81 439.18,167.08 439.26,168.24 439.34,169.30 439.42,170.28 439.50,171.19 439.58,172.02 439.66,172.78 439.74,173.48 439.82,174.12 439.90,174.72 439.98,175.26 440.06,175.76 440.14,176.22 440.22,176.64 440.30,177.03 440.38,177.39 440.46,177.72 440.54,178.02 440.62,178.30 440.70,178.55 440.78,178.79 440.86,179.00 440.94,179.20 441.02,179.39 441.10,179.55 441.18,179.71 441.26,179.67 441.34,179.71 441.42,179.75 441.50,179.79 441.58,179.82 441.66,179.86 441.74,179.90 441.82,179.93 441.90,179.97 441.98,180.01 442.06,180.04 442.14,180.08 442.22,180.12 442.30,180.11 442.38,180.11 442.46,180.10 442.54,180.09 442.62,180.08 442.70,179.96 442.78,179.83 442.86,179.69 442.94,179.54 443.02,179.38 443.10,179.20 443.18,179.00 443.26,178.79 443.34,178.56 443.42,178.31 443.50,178.04 443.58,177.74 443.66,177.42 443.74,177.07 443.82,176.69 443.90,176.28 443.98,175.83 444.06,175.34 444.14,174.81 444.22,174.23 444.30,173.60 444.38,172.91 444.46,172.17 444.54,171.36 444.62,170.48 444.70,169.52 444.78,168.48 444.86,167.35 444.94,166.12 445.02,164.78 445.10,163.33 445.18,161.74 445.26,160.02 445.34,158.15 445.42,156.11 445.50,153.90 445.58,151.49 445.66,148.87 445.74,146.03 445.82,142.93 445.90,139.56 445.98,135.90 446.06,131.92 446.14,127.59 446.22,117.60 446.30,98.86 446.38,78.75 446.46,64.52 446.54,64.52 446.62,78.75 446.70,98.86 446.78,117.60 446.86,127.59 446.94,131.92 447.02,135.90 447.10,139.56 447.18,142.93 447.26,146.03 447.34,148.87 447.42,151.49 447.50,153.90 447.58,156.11 447.66,158.15 447.74,160.02 447.82,161.74 447.90,163.33 447.98,164.78 448.06,166.12 448.14,167.35 448.22,168.48 448.30,169.52 448.38,170.48 448.46,171.36 448.54,172.17 448.62,172.91 448.70,173.60 448.78,174.23 448.86,174.81 448.94,175.34 449.02,175.83 449.10,176.28 449.18,176.69 449.26,177.07 449.34,177.42 449.42,177.74 449.50,178.04 449.58,178.31 449.66,178.56 449.74,178.79 449.82,179.00 449.90,179.20 449.98,179.38 450.06,179.54 450.14,179.69 450.22,179.83 450.30,179.96 450.38,180.08 450.46,180.15 450.54,180.17 450.62,180.20 450.70,180.22 450.78,180.25 450.86,180.27 450.94,180.25 451.02,180.24 451.10,180.22 451.18,180.20 451.26,180.19 451.34,180.17 451.42,180.15 451.50,180.13 451.58,180.12 451.66,180.10 451.74,180.08 451.82,180.06 451.90,180.06 451.98,180.05 452.06,180.04 452.14,180.03 452.22,180.02 452.30,180.02 452.38,180.01 452.46,180.00 452.54,179.99 452.62,179.86 452.70,179.71 452.78,179.55 452.86,179.37 452.94,179.18 453.02,178.97 453.10,178.75 453.18,178.50 453.26,178.23 453.34,177.94 453.42,177.63 453.50,177.28 453.58,176.91 453.66,176.50 453.74,176.06 453.82,175.58 453.90,175.06 453.98,174.50 454.06,173.88 454.14,173.21 454.22,172.48 454.30,171.69 454.38,170.83 454.46,169.90 454.54,168.88 454.62,167.78 454.70,166.58 454.78,165.27 454.86,163.86 454.94,162.31 455.02,160.64 455.10,158.82 455.18,156.84 455.26,154.69 455.34,152.35 455.42,149.80 455.50,147.04 455.58,144.04 455.66,140.77 455.74,137.22 455.82,133.36 455.90,129.17 455.98,124.61 456.06,119.66 456.14,114.27 456.22,101.55 456.30,78.22 456.38,53.29 456.46,35.69 456.54,35.69 456.62,53.29 456.70,78.22 456.78,101.55 456.86,114.27 456.94,119.66 457.02,124.61 457.10,129.17 457.18,133.36 457.26,137.22 457.34,140.77 457.42,144.04 457.50,147.04 457.58,149.80 457.66,152.35 457.74,154.69 457.82,156.84 457.90,158.82 457.98,160.64 458.06,162.31 458.14,163.86 458.22,165.27 458.30,166.58 458.38,167.78 458.46,168.88 458.54,169.90 458.62,170.83 458.70,171.69 458.78,172.48 458.86,173.21 458.94,173.88 459.02,174.50 459.10,175.06 459.18,175.58 459.26,176.06 459.34,176.50 459.42,176.91 459.50,177.28 459.58,177.63 459.66,177.94 459.74,178.23 459.82,178.50 459.90,178.75 459.98,178.97 460.06,179.18 460.14,179.37 460.22,179.55 460.30,179.71 460.38,179.79 460.46,179.79 460.54,179.81 460.62,179.83 460.70,179.85 460.78,179.87 460.86,179.89 460.94,179.91 461.02,179.92 461.10,179.94 461.18,179.96 461.26,179.98 461.34,180.00 461.42,180.02 461.50,180.02 461.58,180.00 461.66,179.88 461.74,179.74 461.82,179.59 461.90,179.43 461.98,179.25 462.06,179.06 462.14,178.85 462.22,178.63 462.30,178.38 462.38,178.11 462.46,177.82 462.54,177.51 462.62,177.16 462.70,176.79 462.78,176.39 462.86,175.95 462.94,175.47 463.02,174.95 463.10,174.39 463.18,173.78 463.26,173.12 463.34,172.39 463.42,171.61 463.50,170.76 463.58,169.83 463.66,168.83 463.74,167.74 463.82,166.55 463.90,165.26 463.98,163.86 464.06,162.34 464.14,160.69 464.22,158.89 464.30,156.94 464.38,154.82 464.46,152.52 464.54,150.02 464.62,147.30 464.70,144.35 464.78,141.15 464.86,137.66 464.94,133.88 465.02,129.77 465.10,125.30 465.18,120.18 465.26,101.95 465.34,80.49 465.42,60.98 465.50,52.69 465.58,60.98 465.66,80.49 465.74,101.95 465.82,120.18 465.90,125.30 465.98,129.77 466.06,133.88 466.14,137.66 466.22,141.15 466.30,144.35 466.38,147.30 466.46,150.02 466.54,152.52 466.62,154.82 466.70,156.94 466.78,158.89 466.86,160.69 466.94,162.34 467.02,163.86 467.10,165.26 467.18,166.55 467.26,167.74 467.34,168.83 467.42,169.83 467.50,170.76 467.58,171.61 467.66,172.39 467.74,173.12 467.82,173.78 467.90,174.39 467.98,174.95 468.06,175.47 468.14,175.95 468.22,176.39 468.30,176.79 468.38,177.16 468.46,177.51 468.54,177.82 468.62,178.11 468.70,178.38 468.78,178.63 468.86,178.85 468.94,179.06 469.02,179.25 469.10,179.43 469.18,179.59 469.26,179.74 469.34,179.88 469.42,180.00 469.50,180.01 469.58,179.99 469.66,179.97 469.74,179.95 469.82,179.93 469.90,179.91 469.98,179.89 470.06,179.87 470.14,179.87 470.22,179.86 470.30,179.86 470.38,179.86 470.46,179.85 470.54,179.85 470.62,179.84 470.70,179.84 470.78,179.84 470.86,179.83 470.94,179.83 471.02,179.83 471.10,179.84 471.18,179.84 471.26,179.85 471.34,179.86 471.42,179.87 471.50,179.88 471.58,179.89 471.66,179.86 471.74,179.73 471.82,179.58 471.90,179.42 471.98,179.25 472.06,179.06 472.14,178.86 472.22,178.64 472.30,178.40 472.38,178.14 472.46,177.86 472.54,177.55 472.62,177.22 472.70,176.86 472.78,176.47 472.86,176.05 472.94,175.58 473.02,175.08 473.10,174.54 473.18,173.95 473.26,173.31 473.34,172.61 473.42,171.86 473.50,171.04 473.58,170.15 473.66,169.19 473.74,168.14 473.82,167.00 473.90,165.77 473.98,164.43 474.06,162.97 474.14,161.39 474.22,159.68 474.30,157.82 474.38,155.80 474.46,153.61 474.54,151.22 474.62,148.64 474.70,145.84 474.78,142.79 474.86,139.49 474.94,135.90 475.02,132.00 475.10,127.78 475.18,122.53 475.26,105.21 475.34,84.95 475.42,66.64 475.50,58.89 475.58,66.64 475.66,84.95 475.74,105.21 475.82,122.53 475.90,127.78 475.98,132.00 476.06,135.90 476.14,139.49 476.22,142.79 476.30,145.84 476.38,148.64 476.46,151.22 476.54,153.61 476.62,155.80 476.70,157.82 476.78,159.68 476.86,161.39 476.94,162.97 477.02,164.43 477.10,165.77 477.18,167.00 477.26,168.14 477.34,169.19 477.42,170.15 477.50,171.04 477.58,171.86 477.66,172.61 477.74,173.31 477.82,173.95 477.90,174.54 477.98,175.08 478.06,175.58 478.14,176.05 478.22,176.47 478.30,176.86 478.38,177.22 478.46,177.55 478.54,177.86 478.62,178.14 478.70,178.40 478.78,178.64 478.86,178.86 478.94,179.06 479.02,179.25 479.10,179.42 479.18,179.58 479.26,179.73 479.34,179.86 479.42,179.99 479.50,180.10 479.58,180.17 479.66,180.22 479.74,180.23 479.82,180.23 479.90,180.24 479.98,180.25 480.06,180.26 480.14,180.27 480.22,180.27 480.30,180.19 480.38,180.08 480.46,179.95 480.54,179.81 480.62,179.66 480.70,179.50 480.78,179.32 480.86,179.13 480.94,178.93 481.02,178.70 481.10,178.46 481.18,178.20 481.26,177.91 481.34,177.60 481.42,177.27 481.50,176.90 481.58,176.51 481.66,176.08 481.74,175.61 481.82,175.11 481.90,174.56 481.98,173.97 482.06,173.33 482.14,172.63 482.22,171.87 482.30,171.05 482.38,170.16 482.46,169.20 482.54,168.15 482.62,167.01 482.70,165.78 482.78,164.44 482.86,163.00 482.94,161.42 483.02,159.72 483.10,157.87 483.18,155.87 483.26,153.69 483.34,151.33 483.42,148.77 483.50,146.00 483.58,142.99 483.66,139.73 483.74,136.19 483.82,132.35 483.90,128.18 483.98,123.67 484.06,118.77 484.14,113.45 484.22,99.40 484.30,76.33 484.38,52.10 484.46,35.25 484.54,35.25 484.62,52.10 484.70,76.33 484.78,99.40 484.86,113.45 484.94,118.77 485.02,123.67 485.10,128.18 485.18,132.35 485.26,136.19 485.34,139.73 485.42,142.99 485.50,146.00 485.58,148.77 485.66,151.33 485.74,153.69 485.82,155.87 485.90,157.87 485.98,159.72 486.06,161.42 486.14,163.00 486.22,164.44 486.30,165.78 486.38,167.01 486.46,168.15 486.54,169.20 486.62,170.16 486.70,171.05 486.78,171.87 486.86,172.63 486.94,173.33 487.02,173.97 487.10,174.56 487.18,175.11 487.26,175.61 487.34,176.08 487.42,176.51 487.50,176.90 487.58,177.27 487.66,177.60 487.74,177.91 487.82,178.20 487.90,178.46 487.98,178.70 488.06,178.93 488.14,179.13 488.22,179.32 488.30,179.50 488.38,179.66 488.46,179.69 488.54,179.68 488.62,179.67 488.70,179.67 488.78,179.66 488.86,179.65 488.94,179.64 489.02,179.64 489.10,179.63 489.18,179.62 489.26,179.62 489.34,179.66 489.42,179.69 489.50,179.73 489.58,179.77 489.66,179.80 489.74,179.84 489.82,179.88 489.90,179.92 489.98,179.95 490.06,179.99 490.14,180.03 490.22,180.07 490.30,180.05 490.38,180.01 490.46,179.89 490.54,179.75 490.62,179.60 490.70,179.43 490.78,179.26 490.86,179.07 490.94,178.86 491.02,178.63 491.10,178.39 491.18,178.13 491.26,177.84 491.34,177.53 491.42,177.20 491.50,176.84 491.58,176.44 491.66,176.02 491.74,175.55 491.82,175.05 491.90,174.51 491.98,173.93 492.06,173.29 492.14,172.60 492.22,171.85 492.30,171.05 492.38,170.17 492.46,169.22 492.54,168.19 492.62,167.08 492.70,165.87 492.78,164.56 492.86,163.15 492.94,161.61 493.02,159.95 493.10,158.15 493.18,156.20 493.26,154.08 493.34,151.79 493.42,149.31 493.50,146.62 493.58,143.70 493.66,140.55 493.74,137.13 493.82,133.42 493.90,129.41 493.98,125.06 494.06,120.35 494.14,115.25 494.22,100.99 494.30,78.81 494.38,55.71 494.46,39.77 494.54,39.77 494.62,55.71 494.70,78.81 494.78,100.99 494.86,115.25 494.94,120.35 495.02,125.06 495.10,129.41 495.18,133.42 495.26,137.13 495.34,140.55 495.42,143.70 495.50,146.62 495.58,149.31 495.66,151.79 495.74,154.08 495.82,156.20 495.90,158.15 495.98,159.95 496.06,161.61 496.14,163.15 496.22,164.56 496.30,165.87 496.38,167.08 496.46,168.19 496.54,169.22 496.62,170.17 496.70,171.05 496.78,171.85 496.86,172.60 496.94,173.29 497.02,173.93 497.10,174.51 497.18,175.05 497.26,175.55 497.34,176.02 497.42,176.44 497.50,176.84 497.58,177.20 497.66,177.53 497.74,177.84 497.82,178.13 497.90,178.39 497.98,178.63 498.06,178.86 498.14,179.07 498.22,179.26 498.30,179.43 498.38,179.60 498.46,179.70 498.54,179.68 498.62,179.67 498.70,179.65 498.78,179.63 498.86,179.62 498.94,179.62 499.02,179.62 499.10,179.63 499.18,179.63 499.26,179.64 499.34,179.64 499.42,179.65 499.50,179.65 499.58,179.66 499.66,179.54 499.74,179.38 499.82,179.20 499.90,179.02 499.98,178.81 500.06,178.59 500.14,178.36 500.22,178.10 500.30,177.82 500.38,177.52 500.46,177.20 500.54,176.84 500.62,176.46 500.70,176.05 500.78,175.60 500.86,175.12 500.94,174.60 501.02,174.03 501.10,173.42 501.18,172.76 501.26,172.04 501.34,171.26 501.42,170.42 501.50,169.51 501.58,168.53 501.66,167.47 501.74,166.31 501.82,165.07 501.90,163.72 501.98,162.26 502.06,160.68 502.14,158.97 502.22,157.12 502.30,155.12 502.38,152.95 502.46,150.60 502.54,148.06 502.62,145.32 502.70,142.34 502.78,139.13 502.86,135.65 502.94,131.88 503.02,127.80 503.10,123.39 503.18,116.20 503.26,97.90 503.34,76.98 503.42,58.52 503.50,50.83 503.58,58.52 503.66,76.98 503.74,97.90 503.82,116.20 503.90,123.39 503.98,127.80 504.06,131.88 504.14,135.65 504.22,139.13 504.30,142.34 504.38,145.32 504.46,148.06 504.54,150.60 504.62,152.95 504.70,155.12 504.78,157.12 504.86,158.97 504.94,160.68 505.02,162.26 505.10,163.72 505.18,165.07 505.26,166.31 505.34,167.47 505.42,168.53 505.50,169.51 505.58,170.42 505.66,171.26 505.74,172.04 505.82,172.76 505.90,173.42 505.98,174.03 506.06,174.60 506.14,175.12 506.22,175.60 506.30,176.05 506.38,176.46 506.46,176.84 506.54,177.20 506.62,177.52 506.70,177.82 506.78,178.10 506.86,178.36 506.94,178.59 507.02,178.81 507.10,179.02 507.18,179.20 507.26,179.38 507.34,179.54 507.42,179.68 507.50,179.78 507.58,179.82 507.66,179.86 507.74,179.90 507.82,179.94 507.90,179.98 507.98,180.02 508.06,180.06 508.14,180.10 508.22,180.14 508.30,180.18 508.38,180.21 508.46,180.25 508.54,180.21 508.62,180.17 508.70,180.13 508.78,180.09 508.86,180.04 508.94,180.00 509.02,179.96 509.10,179.92 509.18,179.88 509.26,179.83 509.34,179.79 509.42,179.75 509.50,179.77 509.58,179.68 509.66,179.54 509.74,179.39 509.82,179.22 509.90,179.05 509.98,178.85 510.06,178.65 510.14,178.42 510.22,178.18 510.30,177.92 510.38,177.64 510.46,177.34 510.54,177.01 510.62,176.65 510.70,176.27 510.78,175.85 510.86,175.40 510.94,174.91 511.02,174.39 511.10,173.82 511.18,173.21 511.26,172.55 511.34,171.83 511.42,171.06 511.50,170.22 511.58,169.32 511.66,168.34 511.74,167.28 511.82,166.14 511.90,164.91 511.98,163.58 512.06,162.14 512.14,160.58 512.22,158.90 512.30,157.08 512.38,155.11 512.46,152.99 512.54,150.69 512.62,148.21 512.70,145.53 512.78,142.64 512.86,139.51 512.94,136.12 513.02,132.46 513.10,128.51 513.18,121.34 513.26,104.88 513.34,86.25 513.42,69.97 513.50,63.23 513.58,69.97 513.66,86.25 513.74,104.88 513.82,121.34 513.90,128.51 513.98,132.46 514.06,136.12 514.14,139.51 514.22,142.64 514.30,145.53 514.38,148.21 514.46,150.69 514.54,152.99 514.62,155.11 514.70,157.08 514.78,158.90 514.86,160.58 514.94,162.14 515.02,163.58 515.10,164.91 515.18,166.14 515.26,167.28 515.34,168.34 515.42,169.32 515.50,170.22 515.58,171.06 515.66,171.83 515.74,172.55 515.82,173.21 515.90,173.82 515.98,174.39 516.06,174.91 516.14,175.40 516.22,175.85 516.30,176.27 516.38,176.65 516.46,177.01 516.54,177.34 516.62,177.64 516.70,177.92 516.78,178.18 516.86,178.42 516.94,178.65 517.02,178.85 517.10,179.05 517.18,179.22 517.26,179.39 517.34,179.54 517.42,179.68 517.50,179.75 517.58,179.80 517.66,179.84 517.74,179.86 517.82,179.86 517.90,179.83 517.98,179.79 518.06,179.75 518.14,179.75 518.22,179.70 518.30,179.62 518.38,179.53 518.46,179.42 518.54,179.26 518.62,179.08 518.70,178.88 518.78,178.66 518.86,178.42 518.94,178.17 519.02,177.90 519.10,177.61 519.18,177.29 519.26,176.94 519.34,176.57 519.42,176.18 519.50,175.74 519.58,175.28 519.66,174.78 519.74,174.23 519.82,173.65 519.90,173.02 519.98,172.34 520.06,171.60 520.14,170.81 520.22,169.95 520.30,169.02 520.38,168.03 520.46,166.95 520.54,165.79 520.62,164.53 520.70,163.18 520.78,161.71 520.86,160.13 520.94,158.43 521.02,156.59 521.10,154.61 521.18,152.47 521.26,150.15 521.34,147.66 521.42,144.97 521.50,142.06 521.58,138.92 521.66,135.54 521.74,131.88 521.82,127.94 521.90,123.68 521.98,119.08 522.06,114.12 522.14,108.77 522.22,90.92 522.30,67.63 522.38,44.09 522.46,28.25 522.54,28.25 522.62,44.09 522.70,67.63 522.78,90.92 522.86,108.77 522.94,114.12 523.02,119.08 523.10,123.68 523.18,127.94 523.26,131.88 523.34,135.54 523.42,138.92 523.50,142.06 523.58,144.97 523.66,147.66 523.74,150.15 523.82,152.47 523.90,154.61 523.98,156.59 524.06,158.43 524.14,160.13 524.22,161.71 524.30,163.18 524.38,164.53 524.46,165.79 524.54,166.95 524.62,168.03 524.70,169.02 524.78,169.95 524.86,170.81 524.94,171.60 525.02,172.34 525.10,173.02 525.18,173.65 525.26,174.23 525.34,174.78 525.42,175.28 525.50,175.74 525.58,176.18 525.66,176.57 525.74,176.94 525.82,177.29 525.90,177.61 525.98,177.90 526.06,178.17 526.14,178.42 526.22,178.66 526.30,178.88 526.38,179.08 526.46,179.26 526.54,179.44 526.62,179.60 526.70,179.74 526.78,179.88 526.86,180.01 526.94,180.06 527.02,180.02 527.10,179.98 527.18,179.94 527.26,179.90 527.34,179.86 527.42,179.82 527.50,179.79 527.58,179.75 527.66,179.71 527.74,179.71 527.82,179.71 527.90,179.71 527.98,179.71 528.06,179.71 528.14,179.71 528.22,179.71 528.30,179.58 528.38,179.43 528.46,179.26 528.54,179.08 528.62,178.88 528.70,178.67 528.78,178.44 528.86,178.19 528.94,177.93 529.02,177.64 529.10,177.33 529.18,177.00 529.26,176.64 529.34,176.26 529.42,175.84 529.50,175.39 529.58,174.91 529.66,174.39 529.74,173.83 529.82,173.22 529.90,172.57 529.98,171.87 530.06,171.11 530.14,170.30 530.22,169.42 530.30,168.47 530.38,167.46 530.46,166.36 530.54,165.17 530.62,163.89 530.70,162.52 530.78,161.04 530.86,159.44 530.94,157.72 531.02,155.86 531.10,153.86 531.18,151.71 531.26,149.39 531.34,146.89 531.42,144.19 531.50,141.28 531.58,138.15 531.66,134.78 531.74,131.14 531.82,127.22 531.90,123.00 531.98,118.45 532.06,113.54 532.14,108.26 532.22,89.37 532.30,66.39 532.38,43.44 532.46,28.16 532.54,28.16 532.62,43.44 532.70,66.39 532.78,89.37 532.86,108.26 532.94,113.54 533.02,118.45 533.10,123.00 533.18,127.22 533.26,131.14 533.34,134.78 533.42,138.15 533.50,141.28 533.58,144.19 533.66,146.89 533.74,149.39 533.82,151.71 533.90,153.86 533.98,155.86 534.06,157.72 534.14,159.44 534.22,161.04 534.30,162.52 534.38,163.89 534.46,165.17 534.54,166.36 534.62,167.46 534.70,168.47 534.78,169.42 534.86,170.30 534.94,171.11 535.02,171.87 535.10,172.57 535.18,173.22 535.26,173.83 535.34,174.39 535.42,174.91 535.50,175.39 535.58,175.84 535.66,176.26 535.74,176.64 535.82,177.00 535.90,177.33 535.98,177.64 536.06,177.93 536.14,178.19 536.22,178.44 536.30,178.67 536.38,178.88 536.46,179.08 536.54,179.26 536.62,179.43 536.70,179.58 536.78,179.73 536.86,179.87 536.94,179.99 537.02,180.09 537.10,180.09 537.18,180.09 537.26,180.10 537.34,180.06 537.42,180.03 537.50,180.00 537.58,179.97 537.66,179.94 537.74,179.90 537.82,179.87 537.90,179.84 537.98,179.81 538.06,179.78 538.14,179.75 538.22,179.65 538.30,179.50 538.38,179.35 538.46,179.18 538.54,179.00 538.62,178.80 538.70,178.59 538.78,178.37 538.86,178.13 538.94,177.87 539.02,177.59 539.10,177.29 539.18,176.96 539.26,176.62 539.34,176.24 539.42,175.84 539.50,175.41 539.58,174.94 539.66,174.44 539.74,173.90 539.82,173.32 539.90,172.69 539.98,172.02 540.06,171.29 540.14,170.52 540.22,169.68 540.30,168.78 540.38,167.81 540.46,166.76 540.54,165.64 540.62,164.43 540.70,163.14 540.78,161.74 540.86,160.23 540.94,158.62 541.02,156.88 541.10,155.00 541.18,152.99 541.26,150.82 541.34,148.49 541.42,145.98 541.50,143.28 541.58,140.38 541.66,137.25 541.74,133.89 541.82,130.27 541.90,126.38 541.98,122.19 542.06,117.69 542.14,112.20 542.22,94.24 542.30,73.20 542.38,52.45 542.46,38.78 542.54,38.78 542.62,52.45 542.70,73.20 542.78,94.24 542.86,112.20 542.94,117.69 543.02,122.19 543.10,126.38 543.18,130.27 543.26,133.89 543.34,137.25 543.42,140.38 543.50,143.28 543.58,145.98 543.66,148.49 543.74,150.82 543.82,152.99 543.90,155.00 543.98,156.88 544.06,158.62 544.14,160.23 544.22,161.74 544.30,163.14 544.38,164.43 544.46,165.64 544.54,166.76 544.62,167.81 544.70,168.78 544.78,169.68" fill="none" stroke="#0072BD" stroke-width="1.55" stroke-linejoin="round"/>
<path d="M313.50 180.80V25.70M322.50 180.80V25.70M332.50 180.80V25.70M341.50 180.80V25.70M351.50 180.80V25.70M361.50 180.80V25.70M370.50 180.80V25.70M380.50 180.80V25.70M389.50 180.80V25.70M399.50 180.80V25.70M408.50 180.80V25.70M418.50 180.80V25.70M427.50 180.80V25.70M437.50 180.80V25.70M446.50 180.80V25.70M456.50 180.80V25.70M465.50 180.80V25.70M475.50 180.80V25.70M484.50 180.80V25.70M494.50 180.80V25.70M503.50 180.80V25.70M513.50 180.80V25.70M522.50 180.80V25.70M532.50 180.80V25.70M542.50 180.80V25.70" fill="none" stroke="#FF0000" stroke-width="1.35" stroke-dasharray="3.3 2.7"/>
</g>
<g font-family="Liberation Sans, Arial, Helvetica, sans-serif" font-size="8.2" fill="#262626">
<text x="319.46" y="192.40" textLength="13.27" lengthAdjust="spacingAndGlyphs">-40</text>
<text x="370.26" y="192.40" textLength="13.27" lengthAdjust="spacingAndGlyphs">-20</text>
<text x="425.15" y="192.40" textLength="5.11" lengthAdjust="spacingAndGlyphs">0</text>
<text x="473.39" y="192.40" textLength="10.21" lengthAdjust="spacingAndGlyphs">20</text>
<text x="524.19" y="192.40" textLength="10.21" lengthAdjust="spacingAndGlyphs">40</text>
<text x="301.79" y="183.75" textLength="5.11" lengthAdjust="spacingAndGlyphs">0</text>
<text x="294.13" y="152.73" textLength="12.77" lengthAdjust="spacingAndGlyphs">0.2</text>
<text x="294.13" y="121.71" textLength="12.77" lengthAdjust="spacingAndGlyphs">0.4</text>
<text x="294.13" y="90.69" textLength="12.77" lengthAdjust="spacingAndGlyphs">0.6</text>
<text x="294.13" y="59.67" textLength="12.77" lengthAdjust="spacingAndGlyphs">0.8</text>
<text x="301.79" y="28.65" textLength="5.11" lengthAdjust="spacingAndGlyphs">1</text>
</g>
<text x="401.50" y="197.70" font-family="Liberation Serif, Times New Roman, serif" font-size="11" fill="#111" textLength="49" lengthAdjust="spacingAndGlyphs"><tspan font-style="italic">θ</tspan>(Degree)</text>
<text transform="translate(291.10,161.70) rotate(-90)" font-family="Liberation Serif, Times New Roman, serif" font-size="11.4" fill="#111" textLength="112" lengthAdjust="spacingAndGlyphs">Normalized Spectrum(dB)</text>
<text x="393.00" y="22.00" font-family="Liberation Serif, Times New Roman, serif" font-weight="bold" font-size="9.2" fill="#111" textLength="80.4" lengthAdjust="spacingAndGlyphs">(b) SA-U4 K=25</text>
<rect x="36.2" y="212.1" width="233.40000000000003" height="145.20000000000002" fill="none" stroke="#262626" stroke-width="0.75"/>
<path d="M51.28 357.3v-2.3M51.28 212.1v2.3M101.99 357.3v-2.3M101.99 212.1v2.3M152.70 357.3v-2.3M152.70 212.1v2.3M203.41 357.3v-2.3M203.41 212.1v2.3M254.12 357.3v-2.3M254.12 212.1v2.3M36.2 357.30h2.3M269.6 357.30h-2.3M36.2 328.26h2.3M269.6 328.26h-2.3M36.2 299.22h2.3M269.6 299.22h-2.3M36.2 270.18h2.3M269.6 270.18h-2.3M36.2 241.14h2.3M269.6 241.14h-2.3M36.2 212.10h2.3M269.6 212.10h-2.3" stroke="#262626" stroke-width="0.7" fill="none"/>
<clipPath id="c2"><rect x="35.800000000000004" y="211.2" width="234.20000000000005" height="147.00000000000003"/></clipPath>
<g clip-path="url(#c2)">
<polyline points="36.20,354.24 36.28,353.78 36.36,353.27 36.44,352.69 36.52,352.04 36.60,351.32 36.68,350.52 36.76,349.61 36.84,348.60 36.92,347.47 37.00,346.21 37.08,344.79 37.16,343.21 37.24,341.44 37.32,339.46 37.40,337.25 37.48,334.77 37.56,332.00 37.64,328.90 37.72,325.43 37.80,321.55 37.88,317.20 37.96,312.35 38.04,306.91 38.12,300.83 38.20,293.21 38.28,272.61 38.36,248.53 38.44,228.21 38.52,223.21 38.60,237.18 38.68,260.72 38.76,283.53 38.84,297.53 38.92,303.96 39.00,309.70 39.08,314.84 39.16,319.43 39.24,323.54 39.32,327.21 39.40,330.49 39.48,333.42 39.56,336.04 39.64,338.39 39.72,340.48 39.80,342.35 39.88,344.03 39.96,345.52 40.04,346.86 40.12,348.05 40.20,349.12 40.28,350.08 40.36,350.93 40.44,351.69 40.52,352.38 40.60,352.99 40.68,353.53 40.76,354.02 40.84,354.45 40.92,354.84 41.00,355.19 41.08,355.50 41.16,355.78 41.24,356.03 41.32,356.25 41.40,356.45 41.48,356.63 41.56,356.79 41.64,356.88 41.72,356.91 41.80,356.93 41.88,356.95 41.96,356.97 42.04,356.94 42.12,356.91 42.20,356.88 42.28,356.86 42.36,356.83 42.44,356.80 42.52,356.71 42.60,356.53 42.68,356.34 42.76,356.12 42.84,355.88 42.92,355.60 43.00,355.30 43.08,354.95 43.16,354.57 43.24,354.14 43.32,353.65 43.40,353.11 43.48,352.50 43.56,351.82 43.64,351.06 43.72,350.20 43.80,349.24 43.88,348.17 43.96,346.96 44.04,345.62 44.12,344.10 44.20,342.41 44.28,340.51 44.36,338.38 44.44,336.00 44.52,333.32 44.60,330.33 44.68,326.97 44.76,323.21 44.84,318.99 44.92,314.26 45.00,308.97 45.08,303.03 45.16,296.38 45.24,282.62 45.32,259.00 45.40,234.37 45.48,219.62 45.56,224.91 45.64,246.28 45.72,271.34 45.80,292.57 45.88,299.80 45.96,306.09 46.04,311.69 46.12,316.70 46.20,321.16 46.28,325.14 46.36,328.70 46.44,331.87 46.52,334.70 46.60,337.22 46.68,339.48 46.76,341.49 46.84,343.28 46.92,344.88 47.00,346.31 47.08,347.58 47.16,348.72 47.24,349.74 47.32,350.64 47.40,351.45 47.48,352.17 47.56,352.81 47.64,353.39 47.72,353.90 47.80,354.36 47.88,354.77 47.96,355.13 48.04,355.45 48.12,355.74 48.20,356.00 48.28,356.23 48.36,356.44 48.44,356.62 48.52,356.70 48.60,356.69 48.68,356.67 48.76,356.67 48.84,356.66 48.92,356.65 49.00,356.64 49.08,356.64 49.16,356.63 49.24,356.62 49.32,356.62 49.40,356.61 49.48,356.60 49.56,356.60 49.64,356.59 49.72,356.40 49.80,356.20 49.88,355.96 49.96,355.70 50.04,355.41 50.12,355.08 50.20,354.71 50.28,354.30 50.36,353.83 50.44,353.31 50.52,352.73 50.60,352.07 50.68,351.33 50.76,350.50 50.84,349.57 50.92,348.52 51.00,347.35 51.08,346.03 51.16,344.56 51.24,342.90 51.32,341.03 51.40,338.94 51.48,336.59 51.56,333.96 51.64,331.00 51.72,327.68 51.80,323.95 51.88,319.76 51.96,315.06 52.04,309.79 52.12,303.86 52.20,297.22 52.28,277.67 52.36,253.89 52.44,233.41 52.52,228.30 52.60,242.50 52.68,265.99 52.76,288.29 52.84,300.64 52.92,306.91 53.00,312.50 53.08,317.48 53.16,321.92 53.24,325.87 53.32,329.39 53.40,332.52 53.48,335.31 53.56,337.80 53.64,340.02 53.72,341.99 53.80,343.75 53.88,345.32 53.96,346.71 54.04,347.95 54.12,349.06 54.20,350.05 54.28,350.93 54.36,351.71 54.44,352.41 54.52,353.03 54.60,353.58 54.68,354.07 54.76,354.51 54.84,354.90 54.92,355.25 55.00,355.55 55.08,355.79 55.16,356.00 55.24,356.18 55.32,356.33 55.40,356.46 55.48,356.51 55.56,356.52 55.64,356.47 55.72,356.36 55.80,356.22 55.88,356.05 55.96,355.85 56.04,355.62 56.12,355.34 56.20,355.00 56.28,354.63 56.36,354.20 56.44,353.73 56.52,353.19 56.60,352.59 56.68,351.91 56.76,351.15 56.84,350.29 56.92,349.33 57.00,348.25 57.08,347.03 57.16,345.66 57.24,344.13 57.32,342.40 57.40,340.46 57.48,338.27 57.56,335.82 57.64,333.06 57.72,329.96 57.80,326.47 57.88,322.55 57.96,318.14 58.04,313.19 58.12,307.61 58.20,301.35 58.28,283.45 58.36,260.97 58.44,241.44 58.52,236.55 58.60,250.12 58.68,272.44 58.76,293.43 58.84,304.57 58.92,310.48 59.00,315.74 59.08,320.41 59.16,324.57 59.24,328.26 59.32,331.55 59.40,334.48 59.48,337.08 59.56,339.40 59.64,341.46 59.72,343.29 59.80,344.92 59.88,346.37 59.96,347.66 60.04,348.81 60.12,349.83 60.20,350.73 60.28,351.54 60.36,352.26 60.44,352.90 60.52,353.47 60.60,353.97 60.68,354.42 60.76,354.82 60.84,355.18 60.92,355.49 61.00,355.77 61.08,356.02 61.16,356.25 61.24,356.45 61.32,356.62 61.40,356.78 61.48,356.92 61.56,356.96 61.64,356.96 61.72,356.95 61.80,356.95 61.88,356.95 61.96,356.94 62.04,356.94 62.12,356.94 62.20,356.94 62.28,356.94 62.36,356.94 62.44,356.94 62.52,356.94 62.60,356.89 62.68,356.75 62.76,356.59 62.84,356.42 62.92,356.22 63.00,356.00 63.08,355.75 63.16,355.47 63.24,355.16 63.32,354.80 63.40,354.40 63.48,353.95 63.56,353.45 63.64,352.88 63.72,352.23 63.80,351.51 63.88,350.70 63.96,349.78 64.04,348.75 64.12,347.58 64.20,346.27 64.28,344.80 64.36,343.14 64.44,341.27 64.52,339.17 64.60,336.80 64.68,334.13 64.76,331.12 64.84,327.74 64.92,323.93 65.00,319.64 65.08,314.82 65.16,309.38 65.24,299.60 65.32,280.28 65.40,259.54 65.48,246.82 65.56,251.41 65.64,269.64 65.72,290.44 65.80,306.41 65.88,312.18 65.96,317.30 66.04,321.85 66.12,325.89 66.20,329.48 66.28,332.67 66.36,335.50 66.44,338.02 66.52,340.25 66.60,342.23 66.68,343.99 66.76,345.56 66.84,346.95 66.92,348.18 67.00,349.28 67.08,350.25 67.16,351.12 67.24,351.88 67.32,352.57 67.40,353.17 67.48,353.71 67.56,354.19 67.64,354.61 67.72,354.99 67.80,355.32 67.88,355.62 67.96,355.88 68.04,356.12 68.12,356.33 68.20,356.51 68.28,356.67 68.36,356.67 68.44,356.67 68.52,356.66 68.60,356.66 68.68,356.65 68.76,356.65 68.84,356.64 68.92,356.67 69.00,356.69 69.08,356.72 69.16,356.74 69.24,356.77 69.32,356.79 69.40,356.82 69.48,356.84 69.56,356.87 69.64,356.87 69.72,356.73 69.80,356.57 69.88,356.39 69.96,356.19 70.04,355.96 70.12,355.70 70.20,355.41 70.28,355.08 70.36,354.71 70.44,354.29 70.52,353.81 70.60,353.28 70.68,352.68 70.76,352.00 70.84,351.24 70.92,350.38 71.00,349.41 71.08,348.31 71.16,347.08 71.24,345.68 71.32,344.11 71.40,342.34 71.48,340.34 71.56,338.09 71.64,335.55 71.72,332.69 71.80,329.46 71.88,325.82 71.96,321.71 72.04,317.08 72.12,311.86 72.20,305.97 72.28,290.16 72.36,268.85 72.44,250.02 72.52,245.25 72.60,258.43 72.68,279.77 72.76,299.48 72.84,309.00 72.92,314.55 73.00,319.46 73.08,323.82 73.16,327.69 73.24,331.12 73.32,334.16 73.40,336.86 73.48,339.25 73.56,341.37 73.64,343.25 73.72,344.92 73.80,346.40 73.88,347.71 73.96,348.87 74.04,349.91 74.12,350.82 74.20,351.63 74.28,352.35 74.36,352.99 74.44,353.56 74.52,354.06 74.60,354.50 74.68,354.90 74.76,355.25 74.84,355.56 74.92,355.83 75.00,356.08 75.08,356.29 75.16,356.46 75.24,356.60 75.32,356.71 75.40,356.81 75.48,356.87 75.56,356.87 75.64,356.81 75.72,356.72 75.80,356.61 75.88,356.48 75.96,356.31 76.04,356.10 76.12,355.86 76.20,355.59 76.28,355.29 76.36,354.95 76.44,354.56 76.52,354.12 76.60,353.63 76.68,353.07 76.76,352.44 76.84,351.73 76.92,350.93 77.00,350.02 77.08,349.00 77.16,347.85 77.24,346.54 77.32,345.07 77.40,343.41 77.48,341.54 77.56,339.42 77.64,337.03 77.72,334.33 77.80,331.28 77.88,327.84 77.96,323.96 78.04,319.57 78.12,314.62 78.20,309.04 78.28,294.39 78.36,274.12 78.44,256.06 78.52,251.47 78.60,264.14 78.68,284.53 78.76,303.22 78.84,311.91 78.92,317.17 79.00,321.83 79.08,325.96 79.16,329.62 79.24,332.85 79.32,335.72 79.40,338.26 79.48,340.51 79.56,342.50 79.64,344.27 79.72,345.83 79.80,347.22 79.88,348.44 79.96,349.53 80.04,350.49 80.12,351.34 80.20,352.10 80.28,352.77 80.36,353.36 80.44,353.88 80.52,354.35 80.60,354.76 80.68,355.12 80.76,355.45 80.84,355.73 80.92,355.99 81.00,356.21 81.08,356.41 81.16,356.57 81.24,356.56 81.32,356.55 81.40,356.56 81.48,356.57 81.56,356.58 81.64,356.59 81.72,356.59 81.80,356.60 81.88,356.61 81.96,356.62 82.04,356.63 82.12,356.64 82.20,356.65 82.28,356.66 82.36,356.67 82.44,356.69 82.52,356.71 82.60,356.73 82.68,356.75 82.76,356.74 82.84,356.58 82.92,356.39 83.00,356.18 83.08,355.94 83.16,355.66 83.24,355.36 83.32,355.01 83.40,354.62 83.48,354.18 83.56,353.67 83.64,353.11 83.72,352.47 83.80,351.74 83.88,350.93 83.96,350.00 84.04,348.95 84.12,347.77 84.20,346.43 84.28,344.92 84.36,343.21 84.44,341.28 84.52,339.10 84.60,336.63 84.68,333.84 84.76,330.69 84.84,327.12 84.92,323.09 85.00,318.53 85.08,313.38 85.16,307.55 85.24,298.32 85.32,277.63 85.40,254.89 85.48,240.66 85.56,245.82 85.64,266.04 85.72,288.57 85.80,304.36 85.88,310.56 85.96,316.03 86.04,320.88 86.12,325.17 86.20,328.96 86.28,332.31 86.36,335.28 86.44,337.90 86.52,340.22 86.60,342.28 86.68,344.10 86.76,345.70 86.84,347.12 86.92,348.38 87.00,349.49 87.08,350.48 87.16,351.35 87.24,352.12 87.32,352.80 87.40,353.40 87.48,353.93 87.56,354.40 87.64,354.82 87.72,355.19 87.80,355.52 87.88,355.80 87.96,356.06 88.04,356.29 88.12,356.49 88.20,356.66 88.28,356.82 88.36,356.84 88.44,356.85 88.52,356.86 88.60,356.88 88.68,356.89 88.76,356.90 88.84,356.92 88.92,356.93 89.00,356.94 89.08,356.91 89.16,356.88 89.24,356.85 89.32,356.82 89.40,356.79 89.48,356.75 89.56,356.72 89.64,356.69 89.72,356.66 89.80,356.63 89.88,356.48 89.96,356.27 90.04,356.03 90.12,355.76 90.20,355.46 90.28,355.11 90.36,354.72 90.44,354.28 90.52,353.78 90.60,353.21 90.68,352.57 90.76,351.85 90.84,351.03 90.92,350.10 91.00,349.04 91.08,347.85 91.16,346.50 91.24,344.98 91.32,343.25 91.40,341.30 91.48,339.08 91.56,336.58 91.64,333.74 91.72,330.54 91.80,326.90 91.88,322.79 91.96,318.14 92.04,312.88 92.12,306.92 92.20,300.17 92.28,283.39 92.36,258.79 92.44,236.55 92.52,230.86 92.60,246.55 92.68,271.47 92.76,293.98 92.84,303.65 92.92,309.99 93.00,315.59 93.08,320.54 93.16,324.91 93.24,328.78 93.32,332.19 93.40,335.21 93.48,337.87 93.56,340.22 93.64,342.30 93.72,344.14 93.80,345.76 93.88,347.20 93.96,348.47 94.04,349.59 94.12,350.57 94.20,351.45 94.28,352.22 94.36,352.90 94.44,353.51 94.52,354.04 94.60,354.51 94.68,354.92 94.76,355.29 94.84,355.62 94.92,355.90 95.00,356.16 95.08,356.38 95.16,356.58 95.24,356.73 95.32,356.72 95.40,356.70 95.48,356.68 95.56,356.67 95.64,356.65 95.72,356.63 95.80,356.66 95.88,356.70 95.96,356.73 96.04,356.76 96.12,356.79 96.20,356.82 96.28,356.85 96.36,356.88 96.44,356.91 96.52,356.94 96.60,356.98 96.68,357.00 96.76,356.87 96.84,356.73 96.92,356.56 97.00,356.38 97.08,356.16 97.16,355.92 97.24,355.65 97.32,355.35 97.40,355.00 97.48,354.60 97.56,354.15 97.64,353.65 97.72,353.07 97.80,352.42 97.88,351.68 97.96,350.85 98.04,349.90 98.12,348.83 98.20,347.61 98.28,346.23 98.36,344.67 98.44,342.90 98.52,340.90 98.60,338.62 98.68,336.05 98.76,333.13 98.84,329.83 98.92,326.08 99.00,321.84 99.08,317.03 99.16,311.58 99.24,303.57 99.32,284.24 99.40,262.70 99.48,249.05 99.56,254.02 99.64,273.30 99.72,294.50 99.80,308.59 99.88,314.39 99.96,319.51 100.04,324.03 100.12,328.01 100.20,331.53 100.28,334.64 100.36,337.38 100.44,339.79 100.52,341.93 100.60,343.81 100.68,345.48 100.76,346.94 100.84,348.24 100.92,349.38 101.00,350.39 101.08,351.28 101.16,352.06 101.24,352.76 101.32,353.37 101.40,353.91 101.48,354.38 101.56,354.81 101.64,355.18 101.72,355.50 101.80,355.79 101.88,356.05 101.96,356.27 102.04,356.47 102.12,356.65 102.20,356.71 102.28,356.70 102.36,356.69 102.44,356.68 102.52,356.67 102.60,356.66 102.68,356.65 102.76,356.64 102.84,356.63 102.92,356.44 103.00,356.22 103.08,355.97 103.16,355.68 103.24,355.35 103.32,354.98 103.40,354.56 103.48,354.09 103.56,353.55 103.64,352.94 103.72,352.24 103.80,351.46 103.88,350.56 103.96,349.55 104.04,348.40 104.12,347.10 104.20,345.62 104.28,343.95 104.36,342.05 104.44,339.90 104.52,337.46 104.60,334.69 104.68,331.55 104.76,327.99 104.84,323.95 104.92,319.37 105.00,314.17 105.08,308.28 105.16,301.60 105.24,292.06 105.32,268.37 105.40,241.84 105.48,224.96 105.56,231.11 105.64,254.91 105.72,280.95 105.80,297.94 105.88,305.05 105.96,311.32 106.04,316.85 106.12,321.73 106.20,326.03 106.28,329.82 106.36,333.17 106.44,336.12 106.52,338.72 106.60,341.01 106.68,343.03 106.76,344.81 106.84,346.39 106.92,347.77 107.00,348.99 107.08,350.07 107.16,351.02 107.24,351.86 107.32,352.60 107.40,353.25 107.48,353.83 107.56,354.33 107.64,354.78 107.72,355.17 107.80,355.52 107.88,355.83 107.96,356.10 108.04,356.34 108.12,356.55 108.20,356.73 108.28,356.86 108.36,356.84 108.44,356.82 108.52,356.79 108.60,356.77 108.68,356.75 108.76,356.72 108.84,356.70 108.92,356.67 109.00,356.65 109.08,356.63 109.16,356.60 109.24,356.63 109.32,356.65 109.40,356.68 109.48,356.70 109.56,356.72 109.64,356.75 109.72,356.77 109.80,356.80 109.88,356.74 109.96,356.58 110.04,356.40 110.12,356.19 110.20,355.95 110.28,355.68 110.36,355.38 110.44,355.03 110.52,354.64 110.60,354.19 110.68,353.68 110.76,353.11 110.84,352.46 110.92,351.72 111.00,350.88 111.08,349.92 111.16,348.84 111.24,347.61 111.32,346.22 111.40,344.63 111.48,342.84 111.56,340.80 111.64,338.48 111.72,335.85 111.80,332.87 111.88,329.49 111.96,325.64 112.04,321.28 112.12,316.33 112.20,310.71 112.28,297.54 112.36,276.95 112.44,258.01 112.52,253.11 112.60,266.56 112.68,287.61 112.76,306.30 112.84,313.61 112.92,318.89 113.00,323.53 113.08,327.63 113.16,331.23 113.24,334.41 113.32,337.21 113.40,339.68 113.48,341.85 113.56,343.76 113.64,345.45 113.72,346.94 113.80,348.25 113.88,349.40 113.96,350.42 114.04,351.31 114.12,352.10 114.20,352.79 114.28,353.41 114.36,353.95 114.44,354.42 114.52,354.84 114.60,355.21 114.68,355.53 114.76,355.82 114.84,356.07 114.92,356.29 115.00,356.49 115.08,356.66 115.16,356.81 115.24,356.86 115.32,356.83 115.40,356.81 115.48,356.78 115.56,356.75 115.64,356.72 115.72,356.70 115.80,356.67 115.88,356.64 115.96,356.65 116.04,356.66 116.12,356.66 116.20,356.67 116.28,356.68 116.36,356.69 116.44,356.69 116.52,356.70 116.60,356.71 116.68,356.72 116.76,356.72 116.84,356.73 116.92,356.66 117.00,356.48 117.08,356.27 117.16,356.04 117.24,355.78 117.32,355.48 117.40,355.14 117.48,354.75 117.56,354.32 117.64,353.82 117.72,353.25 117.80,352.61 117.88,351.88 117.96,351.05 118.04,350.11 118.12,349.04 118.20,347.83 118.28,346.45 118.36,344.88 118.44,343.10 118.52,341.08 118.60,338.79 118.68,336.18 118.76,333.22 118.84,329.85 118.92,326.03 119.00,321.69 119.08,316.76 119.16,311.16 119.24,303.59 119.32,283.75 119.40,261.30 119.48,246.92 119.56,252.16 119.64,272.39 119.72,294.30 119.80,308.08 119.88,314.05 119.96,319.30 120.04,323.93 120.12,328.00 120.20,331.59 120.28,334.75 120.36,337.53 120.44,339.97 120.52,342.13 120.60,344.02 120.68,345.69 120.76,347.16 120.84,348.46 120.92,349.59 121.00,350.60 121.08,351.48 121.16,352.26 121.24,352.94 121.32,353.54 121.40,354.08 121.48,354.54 121.56,354.95 121.64,355.31 121.72,355.63 121.80,355.91 121.88,356.16 121.96,356.38 122.04,356.57 122.12,356.74 122.20,356.89 122.28,356.97 122.36,356.98 122.44,356.99 122.52,357.00 122.60,357.01 122.68,356.98 122.76,356.93 122.84,356.78 122.92,356.61 123.00,356.41 123.08,356.18 123.16,355.93 123.24,355.64 123.32,355.30 123.40,354.93 123.48,354.50 123.56,354.02 123.64,353.47 123.72,352.84 123.80,352.13 123.88,351.32 123.96,350.40 124.04,349.35 124.12,348.16 124.20,346.81 124.28,345.28 124.36,343.53 124.44,341.55 124.52,339.30 124.60,336.74 124.68,333.83 124.76,330.52 124.84,326.76 124.92,322.49 125.00,317.63 125.08,312.12 125.16,305.85 125.24,297.52 125.32,275.32 125.40,250.13 125.48,233.94 125.56,239.85 125.64,262.59 125.72,287.14 125.80,302.40 125.88,309.08 125.96,314.96 126.04,320.14 126.12,324.69 126.20,328.70 126.28,332.23 126.36,335.33 126.44,338.06 126.52,340.46 126.60,342.57 126.68,344.43 126.76,346.07 126.84,347.51 126.92,348.78 127.00,349.89 127.08,350.87 127.16,351.73 127.24,352.49 127.32,353.16 127.40,353.75 127.48,354.27 127.56,354.72 127.64,355.12 127.72,355.48 127.80,355.79 127.88,356.06 127.96,356.30 128.04,356.51 128.12,356.70 128.20,356.71 128.28,356.70 128.36,356.69 128.44,356.70 128.52,356.71 128.60,356.72 128.68,356.73 128.76,356.74 128.84,356.75 128.92,356.76 129.00,356.77 129.08,356.77 129.16,356.78 129.24,356.79 129.32,356.80 129.40,356.80 129.48,356.80 129.56,356.80 129.64,356.79 129.72,356.79 129.80,356.79 129.88,356.78 129.96,356.62 130.04,356.43 130.12,356.22 130.20,355.98 130.28,355.70 130.36,355.39 130.44,355.04 130.52,354.63 130.60,354.18 130.68,353.66 130.76,353.06 130.84,352.39 130.92,351.62 131.00,350.75 131.08,349.76 131.16,348.64 131.24,347.36 131.32,345.90 131.40,344.25 131.48,342.37 131.56,340.23 131.64,337.80 131.72,335.03 131.80,331.89 131.88,328.31 131.96,324.25 132.04,319.63 132.12,314.37 132.20,308.40 132.28,294.90 132.36,272.93 132.44,252.53 132.52,247.21 132.60,261.76 132.68,284.33 132.76,304.17 132.84,311.48 132.92,317.08 133.00,322.01 133.08,326.35 133.16,330.16 133.24,333.51 133.32,336.46 133.40,339.05 133.48,341.33 133.56,343.34 133.64,345.10 133.72,346.66 133.80,348.02 133.88,349.22 133.96,350.27 134.04,351.20 134.12,352.02 134.20,352.74 134.28,353.37 134.36,353.92 134.44,354.41 134.52,354.84 134.60,355.22 134.68,355.55 134.76,355.84 134.84,356.10 134.92,356.33 135.00,356.53 135.08,356.70 135.16,356.85 135.24,356.96 135.32,356.93 135.40,356.91 135.48,356.89 135.56,356.86 135.64,356.84 135.72,356.82 135.80,356.79 135.88,356.77 135.96,356.75 136.04,356.72 136.12,356.72 136.20,356.72 136.28,356.71 136.36,356.71 136.44,356.71 136.52,356.70 136.60,356.70 136.68,356.70 136.76,356.69 136.84,356.69 136.92,356.69 137.00,356.53 137.08,356.34 137.16,356.11 137.24,355.85 137.32,355.56 137.40,355.23 137.48,354.85 137.56,354.42 137.64,353.93 137.72,353.37 137.80,352.73 137.88,352.01 137.96,351.19 138.04,350.26 138.12,349.20 138.20,347.99 138.28,346.62 138.36,345.06 138.44,343.28 138.52,341.26 138.60,338.96 138.68,336.35 138.76,333.37 138.84,329.99 138.92,326.14 139.00,321.77 139.08,316.79 139.16,311.13 139.24,303.83 139.32,283.80 139.40,260.96 139.48,246.21 139.56,251.60 139.64,272.27 139.72,294.48 139.80,308.01 139.88,314.05 139.96,319.36 140.04,324.03 140.12,328.13 140.20,331.74 140.28,334.91 140.36,337.69 140.44,340.15 140.52,342.30 140.60,344.20 140.68,345.86 140.76,347.33 140.84,348.61 140.92,349.75 141.00,350.74 141.08,351.62 141.16,352.39 141.24,353.06 141.32,353.66 141.40,354.18 141.48,354.64 141.56,355.04 141.64,355.40 141.72,355.71 141.80,355.98 141.88,356.23 141.96,356.44 142.04,356.62 142.12,356.79 142.20,356.89 142.28,356.89 142.36,356.89 142.44,356.89 142.52,356.89 142.60,356.89 142.68,356.89 142.76,356.89 142.84,356.80 142.92,356.62 143.00,356.42 143.08,356.19 143.16,355.93 143.24,355.63 143.32,355.29 143.40,354.91 143.48,354.47 143.56,353.97 143.64,353.41 143.72,352.76 143.80,352.03 143.88,351.19 143.96,350.24 144.04,349.16 144.12,347.94 144.20,346.54 144.28,344.95 144.36,343.14 144.44,341.08 144.52,338.74 144.60,336.08 144.68,333.04 144.76,329.60 144.84,325.68 144.92,321.21 145.00,316.14 145.08,310.36 145.16,303.79 145.24,295.38 145.32,272.14 145.40,245.61 145.48,228.47 145.56,234.73 145.64,258.75 145.72,284.53 145.80,300.18 145.88,307.19 145.96,313.34 146.04,318.76 146.12,323.52 146.20,327.70 146.28,331.38 146.36,334.61 146.44,337.45 146.52,339.95 146.60,342.14 146.68,344.07 146.76,345.77 146.84,347.26 146.92,348.57 147.00,349.72 147.08,350.73 147.16,351.62 147.24,352.41 147.32,353.09 147.40,353.70 147.48,354.23 147.56,354.70 147.64,355.11 147.72,355.47 147.80,355.79 147.88,356.07 147.96,356.31 148.04,356.53 148.12,356.69 148.20,356.66 148.28,356.64 148.36,356.62 148.44,356.60 148.52,356.57 148.60,356.59 148.68,356.61 148.76,356.63 148.84,356.64 148.92,356.66 149.00,356.68 149.08,356.70 149.16,356.71 149.24,356.73 149.32,356.75 149.40,356.77 149.48,356.78 149.56,356.80 149.64,356.81 149.72,356.82 149.80,356.83 149.88,356.70 149.96,356.50 150.04,356.28 150.12,356.02 150.20,355.74 150.28,355.41 150.36,355.03 150.44,354.61 150.52,354.12 150.60,353.57 150.68,352.95 150.76,352.24 150.84,351.43 150.92,350.50 151.00,349.45 151.08,348.26 151.16,346.90 151.24,345.36 151.32,343.60 151.40,341.60 151.48,339.32 151.56,336.74 151.64,333.79 151.72,330.44 151.80,326.63 151.88,322.29 151.96,317.35 152.04,311.74 152.12,305.35 152.20,298.08 152.28,281.88 152.36,255.14 152.44,230.21 152.52,223.71 152.60,241.50 152.68,269.03 152.76,293.13 152.84,301.84 152.92,308.65 153.00,314.64 153.08,319.90 153.16,324.53 153.24,328.59 153.32,332.17 153.40,335.31 153.48,338.07 153.56,340.50 153.64,342.63 153.72,344.51 153.80,346.16 153.88,347.60 153.96,348.88 154.04,350.00 154.12,350.98 154.20,351.84 154.28,352.60 154.36,353.27 154.44,353.86 154.52,354.37 154.60,354.83 154.68,355.23 154.76,355.58 154.84,355.88 154.92,356.16 155.00,356.39 155.08,356.60 155.16,356.79 155.24,356.87 155.32,356.87 155.40,356.86 155.48,356.86 155.56,356.85 155.64,356.84 155.72,356.84 155.80,356.83 155.88,356.82 155.96,356.82 156.04,356.81 156.12,356.80 156.20,356.80 156.28,356.79 156.36,356.78 156.44,356.77 156.52,356.76 156.60,356.75 156.68,356.74 156.76,356.73 156.84,356.72 156.92,356.63 157.00,356.44 157.08,356.21 157.16,355.95 157.24,355.66 157.32,355.33 157.40,354.95 157.48,354.52 157.56,354.03 157.64,353.47 157.72,352.83 157.80,352.11 157.88,351.29 157.96,350.36 158.04,349.29 158.12,348.08 158.20,346.71 158.28,345.14 158.36,343.36 158.44,341.34 158.52,339.03 158.60,336.41 158.68,333.43 158.76,330.03 158.84,326.17 158.92,321.78 159.00,316.79 159.08,311.10 159.16,304.64 159.24,296.36 159.32,273.48 159.40,247.36 159.48,230.48 159.56,236.66 159.64,260.30 159.72,285.68 159.80,301.08 159.88,307.97 159.96,314.04 160.04,319.36 160.12,324.05 160.20,328.17 160.28,331.79 160.36,334.97 160.44,337.76 160.52,340.22 160.60,342.38 160.68,344.28 160.76,345.95 160.84,347.42 160.92,348.71 161.00,349.84 161.08,350.84 161.16,351.71 161.24,352.48 161.32,353.16 161.40,353.76 161.48,354.28 161.56,354.74 161.64,355.14 161.72,355.50 161.80,355.81 161.88,356.09 161.96,356.33 162.04,356.54 162.12,356.71 162.20,356.71 162.28,356.72 162.36,356.73 162.44,356.74 162.52,356.75 162.60,356.76 162.68,356.77 162.76,356.78 162.84,356.79 162.92,356.80 163.00,356.79 163.08,356.78 163.16,356.77 163.24,356.76 163.32,356.75 163.40,356.74 163.48,356.73 163.56,356.72 163.64,356.71 163.72,356.70 163.80,356.69 163.88,356.68 163.96,356.51 164.04,356.30 164.12,356.05 164.20,355.77 164.28,355.45 164.36,355.09 164.44,354.67 164.52,354.20 164.60,353.67 164.68,353.06 164.76,352.37 164.84,351.58 164.92,350.69 165.00,349.67 165.08,348.52 165.16,347.20 165.24,345.70 165.32,344.00 165.40,342.06 165.48,339.86 165.56,337.36 165.64,334.51 165.72,331.27 165.80,327.58 165.88,323.39 165.96,318.62 166.04,313.19 166.12,307.02 166.20,300.01 166.28,284.27 166.36,258.46 166.44,234.44 166.52,228.17 166.60,245.31 166.68,271.86 166.76,295.14 166.84,303.63 166.92,310.21 167.00,315.99 167.08,321.08 167.16,325.55 167.24,329.48 167.32,332.94 167.40,335.98 167.48,338.65 167.56,341.00 167.64,343.06 167.72,344.88 167.80,346.47 167.88,347.88 167.96,349.11 168.04,350.20 168.12,351.15 168.20,351.99 168.28,352.73 168.36,353.38 168.44,353.95 168.52,354.45 168.60,354.89 168.68,355.27 168.76,355.61 168.84,355.91 168.92,356.18 169.00,356.41 169.08,356.61 169.16,356.79 169.24,356.79 169.32,356.78 169.40,356.77 169.48,356.76 169.56,356.76 169.64,356.75 169.72,356.76 169.80,356.78 169.88,356.79 169.96,356.62 170.04,356.44 170.12,356.23 170.20,355.99 170.28,355.72 170.36,355.41 170.44,355.06 170.52,354.66 170.60,354.21 170.68,353.70 170.76,353.11 170.84,352.44 170.92,351.69 171.00,350.83 171.08,349.85 171.16,348.73 171.24,347.47 171.32,346.03 171.40,344.39 171.48,342.53 171.56,340.41 171.64,338.01 171.72,335.27 171.80,332.16 171.88,328.62 171.96,324.60 172.04,320.03 172.12,314.83 172.20,308.91 172.28,295.57 172.36,273.82 172.44,253.63 172.52,248.37 172.60,262.77 172.68,285.11 172.76,304.74 172.84,311.96 172.92,317.51 173.00,322.39 173.08,326.68 173.16,330.45 173.24,333.77 173.32,336.68 173.40,339.25 173.48,341.51 173.56,343.49 173.64,345.24 173.72,346.77 173.80,348.12 173.88,349.31 173.96,350.35 174.04,351.27 174.12,352.08 174.20,352.79 174.28,353.41 174.36,353.96 174.44,354.44 174.52,354.87 174.60,355.24 174.68,355.57 174.76,355.86 174.84,356.11 174.92,356.34 175.00,356.54 175.08,356.71 175.16,356.73 175.24,356.70 175.32,356.68 175.40,356.65 175.48,356.65 175.56,356.64 175.64,356.64 175.72,356.64 175.80,356.63 175.88,356.63 175.96,356.63 176.04,356.63 176.12,356.62 176.20,356.62 176.28,356.62 176.36,356.61 176.44,356.62 176.52,356.63 176.60,356.63 176.68,356.64 176.76,356.65 176.84,356.66 176.92,356.56 177.00,356.34 177.08,356.10 177.16,355.83 177.24,355.52 177.32,355.16 177.40,354.76 177.48,354.30 177.56,353.78 177.64,353.19 177.72,352.52 177.80,351.76 177.88,350.89 177.96,349.90 178.04,348.78 178.12,347.51 178.20,346.06 178.28,344.41 178.36,342.54 178.44,340.42 178.52,338.00 178.60,335.25 178.68,332.13 178.76,328.59 178.84,324.55 178.92,319.97 179.00,314.77 179.08,308.85 179.16,302.12 179.24,293.21 179.32,269.39 179.40,242.37 179.48,224.99 179.56,231.33 179.64,255.73 179.72,282.07 179.80,298.42 179.88,305.59 179.96,311.90 180.04,317.45 180.12,322.34 180.20,326.63 180.28,330.42 180.36,333.74 180.44,336.67 180.52,339.25 180.60,341.51 180.68,343.51 180.76,345.26 180.84,346.80 180.92,348.16 181.00,349.36 181.08,350.41 181.16,351.34 181.24,352.15 181.32,352.87 181.40,353.50 181.48,354.05 181.56,354.54 181.64,354.97 181.72,355.35 181.80,355.68 181.88,355.97 181.96,356.23 182.04,356.45 182.12,356.65 182.20,356.83 182.28,356.93 182.36,356.92 182.44,356.91 182.52,356.89 182.60,356.88 182.68,356.87 182.76,356.86 182.84,356.85 182.92,356.84 183.00,356.83 183.08,356.82 183.16,356.80 183.24,356.79 183.32,356.78 183.40,356.76 183.48,356.75 183.56,356.74 183.64,356.72 183.72,356.71 183.80,356.70 183.88,356.68 183.96,356.50 184.04,356.29 184.12,356.05 184.20,355.78 184.28,355.47 184.36,355.12 184.44,354.72 184.52,354.27 184.60,353.76 184.68,353.18 184.76,352.52 184.84,351.77 184.92,350.92 185.00,349.95 185.08,348.85 185.16,347.60 185.24,346.18 185.32,344.57 185.40,342.74 185.48,340.67 185.56,338.31 185.64,335.62 185.72,332.58 185.80,329.12 185.88,325.19 185.96,320.73 186.04,315.66 186.12,309.91 186.20,303.37 186.28,288.26 186.36,264.27 186.44,242.13 186.52,236.38 186.60,252.13 186.68,276.70 186.76,298.43 186.84,306.74 186.92,312.88 187.00,318.28 187.08,323.03 187.16,327.22 187.24,330.91 187.32,334.15 187.40,337.01 187.48,339.52 187.56,341.74 187.64,343.69 187.72,345.40 187.80,346.92 187.88,348.25 187.96,349.42 188.04,350.45 188.12,351.36 188.20,352.16 188.28,352.86 188.36,353.48 188.44,354.03 188.52,354.51 188.60,354.93 188.68,355.30 188.76,355.63 188.84,355.92 188.92,356.17 189.00,356.40 189.08,356.59 189.16,356.74 189.24,356.75 189.32,356.76 189.40,356.77 189.48,356.77 189.56,356.78 189.64,356.79 189.72,356.80 189.80,356.81 189.88,356.64 189.96,356.45 190.04,356.23 190.12,355.99 190.20,355.71 190.28,355.39 190.36,355.03 190.44,354.63 190.52,354.16 190.60,353.64 190.68,353.04 190.76,352.36 190.84,351.59 190.92,350.72 191.00,349.73 191.08,348.60 191.16,347.33 191.24,345.88 191.32,344.23 191.40,342.36 191.48,340.24 191.56,337.84 191.64,335.11 191.72,332.01 191.80,328.49 191.88,324.49 191.96,319.96 192.04,314.81 192.12,308.97 192.20,302.34 192.28,286.81 192.36,262.49 192.44,240.14 192.52,234.35 192.60,250.23 192.68,275.08 192.76,297.14 192.84,305.76 192.92,311.98 193.00,317.46 193.08,322.30 193.16,326.55 193.24,330.30 193.32,333.60 193.40,336.51 193.48,339.08 193.56,341.34 193.64,343.33 193.72,345.08 193.80,346.62 193.88,347.98 193.96,349.18 194.04,350.24 194.12,351.17 194.20,351.99 194.28,352.71 194.36,353.35 194.44,353.91 194.52,354.40 194.60,354.84 194.68,355.22 194.76,355.56 194.84,355.85 194.92,356.12 195.00,356.35 195.08,356.55 195.16,356.70 195.24,356.68 195.32,356.65 195.40,356.63 195.48,356.60 195.56,356.58 195.64,356.61 195.72,356.64 195.80,356.67 195.88,356.69 195.96,356.72 196.04,356.75 196.12,356.78 196.20,356.81 196.28,356.84 196.36,356.87 196.44,356.90 196.52,356.92 196.60,356.92 196.68,356.91 196.76,356.88 196.84,356.73 196.92,356.56 197.00,356.36 197.08,356.14 197.16,355.89 197.24,355.61 197.32,355.29 197.40,354.92 197.48,354.51 197.56,354.04 197.64,353.51 197.72,352.90 197.80,352.22 197.88,351.44 197.96,350.56 198.04,349.57 198.12,348.43 198.20,347.15 198.28,345.69 198.36,344.04 198.44,342.17 198.52,340.04 198.60,337.64 198.68,334.90 198.76,331.80 198.84,328.29 198.92,324.30 199.00,319.78 199.08,314.66 199.16,308.84 199.24,300.55 199.32,279.94 199.40,256.83 199.48,242.14 199.56,247.49 199.64,268.22 199.72,290.88 199.80,305.65 199.88,311.84 199.96,317.30 200.04,322.12 200.12,326.36 200.20,330.10 200.28,333.40 200.36,336.31 200.44,338.88 200.52,341.14 200.60,343.13 200.68,344.89 200.76,346.44 200.84,347.81 200.92,349.02 201.00,350.08 201.08,351.02 201.16,351.84 201.24,352.57 201.32,353.22 201.40,353.78 201.48,354.28 201.56,354.72 201.64,355.11 201.72,355.45 201.80,355.76 201.88,356.02 201.96,356.26 202.04,356.46 202.12,356.65 202.20,356.77 202.28,356.77 202.36,356.79 202.44,356.80 202.52,356.81 202.60,356.83 202.68,356.84 202.76,356.86 202.84,356.87 202.92,356.88 203.00,356.90 203.08,356.91 203.16,356.92 203.24,356.94 203.32,356.92 203.40,356.90 203.48,356.88 203.56,356.86 203.64,356.84 203.72,356.82 203.80,356.65 203.88,356.45 203.96,356.23 204.04,355.97 204.12,355.68 204.20,355.35 204.28,354.98 204.36,354.56 204.44,354.08 204.52,353.54 204.60,352.92 204.68,352.22 204.76,351.44 204.84,350.54 204.92,349.53 205.00,348.38 205.08,347.08 205.16,345.61 205.24,343.94 205.32,342.05 205.40,339.91 205.48,337.48 205.56,334.73 205.64,331.61 205.72,328.08 205.80,324.08 205.88,319.55 205.96,314.42 206.04,308.60 206.12,302.01 206.20,294.54 206.28,276.36 206.36,249.07 206.44,224.26 206.52,217.88 206.60,235.43 206.68,263.16 206.76,288.05 206.84,298.39 206.92,305.41 207.00,311.60 207.08,317.06 207.16,321.89 207.24,326.15 207.32,329.90 207.40,333.22 207.48,336.15 207.56,338.73 207.64,341.01 207.72,343.02 207.80,344.80 207.88,346.37 207.96,347.75 208.04,348.97 208.12,350.05 208.20,351.00 208.28,351.84 208.36,352.58 208.44,353.24 208.52,353.81 208.60,354.32 208.68,354.77 208.76,355.17 208.84,355.52 208.92,355.83 209.00,356.10 209.08,356.34 209.16,356.56 209.24,356.74 209.32,356.77 209.40,356.75 209.48,356.73 209.56,356.71 209.64,356.69 209.72,356.67 209.80,356.65 209.88,356.63 209.96,356.61 210.04,356.62 210.12,356.64 210.20,356.65 210.28,356.66 210.36,356.67 210.44,356.68 210.52,356.69 210.60,356.70 210.68,356.71 210.76,356.73 210.84,356.60 210.92,356.41 211.00,356.19 211.08,355.94 211.16,355.67 211.24,355.35 211.32,355.00 211.40,354.60 211.48,354.14 211.56,353.62 211.64,353.04 211.72,352.38 211.80,351.64 211.88,350.79 211.96,349.83 212.04,348.75 212.12,347.53 212.20,346.14 212.28,344.57 212.36,342.80 212.44,340.79 212.52,338.51 212.60,335.94 212.68,333.02 212.76,329.73 212.84,326.00 212.92,321.77 213.00,316.99 213.08,311.58 213.16,305.46 213.24,296.10 213.32,274.37 213.40,250.32 213.48,235.18 213.56,240.68 213.64,262.13 213.72,285.88 213.80,302.11 213.88,308.62 213.96,314.37 214.04,319.46 214.12,323.95 214.20,327.92 214.28,331.43 214.36,334.53 214.44,337.26 214.52,339.68 214.60,341.82 214.68,343.71 214.76,345.38 214.84,346.85 214.92,348.16 215.00,349.31 215.08,350.33 215.16,351.23 215.24,352.02 215.32,352.72 215.40,353.34 215.48,353.89 215.56,354.37 215.64,354.80 215.72,355.18 215.80,355.51 215.88,355.81 215.96,356.07 216.04,356.30 216.12,356.50 216.20,356.65 216.28,356.77 216.36,356.77 216.44,356.78 216.52,356.79 216.60,356.80 216.68,356.74 216.76,356.61 216.84,356.45 216.92,356.23 217.00,355.98 217.08,355.70 217.16,355.38 217.24,355.02 217.32,354.61 217.40,354.15 217.48,353.62 217.56,353.03 217.64,352.37 217.72,351.61 217.80,350.76 217.88,349.79 217.96,348.70 218.04,347.47 218.12,346.08 218.20,344.50 218.28,342.72 218.36,340.70 218.44,338.43 218.52,335.85 218.60,332.94 218.68,329.65 218.76,325.93 218.84,321.73 218.92,316.97 219.00,311.59 219.08,305.52 219.16,298.64 219.24,287.77 219.32,263.37 219.40,236.53 219.48,219.73 219.56,225.82 219.64,249.69 219.72,276.28 219.80,294.88 219.88,302.19 219.96,308.65 220.04,314.36 220.12,319.42 220.20,323.89 220.28,327.85 220.36,331.35 220.44,334.44 220.52,337.18 220.60,339.60 220.68,341.74 220.76,343.64 220.84,345.31 220.92,346.79 221.00,348.11 221.08,349.26 221.16,350.29 221.24,351.20 221.32,352.00 221.40,352.71 221.48,353.34 221.56,353.89 221.64,354.38 221.72,354.82 221.80,355.20 221.88,355.54 221.96,355.84 222.04,356.11 222.12,356.34 222.20,356.55 222.28,356.73 222.36,356.70 222.44,356.68 222.52,356.67 222.60,356.66 222.68,356.65 222.76,356.65 222.84,356.64 222.92,356.63 223.00,356.62 223.08,356.62 223.16,356.61 223.24,356.60 223.32,356.59 223.40,356.59 223.48,356.60 223.56,356.62 223.64,356.64 223.72,356.66 223.80,356.64 223.88,356.47 223.96,356.27 224.04,356.05 224.12,355.80 224.20,355.52 224.28,355.20 224.36,354.84 224.44,354.44 224.52,353.98 224.60,353.46 224.68,352.88 224.76,352.22 224.84,351.48 224.92,350.64 225.00,349.69 225.08,348.62 225.16,347.41 225.24,346.05 225.32,344.51 225.40,342.77 225.48,340.80 225.56,338.58 225.64,336.08 225.72,333.25 225.80,330.06 225.88,326.46 225.96,322.39 226.04,317.79 226.12,312.60 226.20,306.75 226.28,291.42 226.36,270.17 226.44,251.23 226.52,246.42 226.60,259.71 226.68,281.08 226.76,300.67 226.84,309.76 226.92,315.28 227.00,320.16 227.08,324.48 227.16,328.31 227.24,331.70 227.32,334.71 227.40,337.37 227.48,339.73 227.56,341.81 227.64,343.66 227.72,345.30 227.80,346.75 227.88,348.03 227.96,349.17 228.04,350.18 228.12,351.07 228.20,351.86 228.28,352.56 228.36,353.18 228.44,353.73 228.52,354.21 228.60,354.65 228.68,355.03 228.76,355.36 228.84,355.66 228.92,355.93 229.00,356.16 229.08,356.37 229.16,356.55 229.24,356.72 229.32,356.85 229.40,356.84 229.48,356.83 229.56,356.82 229.64,356.81 229.72,356.80 229.80,356.79 229.88,356.78 229.96,356.77 230.04,356.76 230.12,356.75 230.20,356.76 230.28,356.77 230.36,356.78 230.44,356.79 230.52,356.79 230.60,356.80 230.68,356.75 230.76,356.59 230.84,356.40 230.92,356.19 231.00,355.96 231.08,355.69 231.16,355.39 231.24,355.05 231.32,354.67 231.40,354.23 231.48,353.75 231.56,353.20 231.64,352.58 231.72,351.88 231.80,351.10 231.88,350.21 231.96,349.21 232.04,348.08 232.12,346.81 232.20,345.38 232.28,343.76 232.36,341.94 232.44,339.88 232.52,337.57 232.60,334.96 232.68,332.01 232.76,328.69 232.84,324.95 232.92,320.73 233.00,315.97 233.08,310.60 233.16,304.55 233.24,294.12 233.32,272.62 233.40,249.36 233.48,235.00 233.56,240.19 233.64,260.72 233.72,283.95 233.80,301.25 233.88,307.67 233.96,313.37 234.04,318.42 234.12,322.90 234.20,326.88 234.28,330.40 234.36,333.53 234.44,336.30 234.52,338.76 234.60,340.94 234.68,342.88 234.76,344.59 234.84,346.11 234.92,347.46 235.00,348.66 235.08,349.72 235.16,350.67 235.24,351.50 235.32,352.24 235.40,352.90 235.48,353.48 235.56,354.00 235.64,354.46 235.72,354.86 235.80,355.22 235.88,355.54 235.96,355.83 236.04,356.07 236.12,356.26 236.20,356.43 236.28,356.57 236.36,356.68 236.44,356.78 236.52,356.80 236.60,356.73 236.68,356.65 236.76,356.54 236.84,356.42 236.92,356.26 237.00,356.06 237.08,355.82 237.16,355.56 237.24,355.26 237.32,354.92 237.40,354.53 237.48,354.10 237.56,353.62 237.64,353.07 237.72,352.46 237.80,351.76 237.88,350.98 237.96,350.11 238.04,349.12 238.12,348.00 238.20,346.75 238.28,345.34 238.36,343.75 238.44,341.96 238.52,339.94 238.60,337.67 238.68,335.12 238.76,332.24 238.84,329.00 238.92,325.35 239.00,321.24 239.08,316.61 239.16,311.40 239.24,302.05 239.32,283.53 239.40,263.64 239.48,251.45 239.56,255.85 239.64,273.33 239.72,293.27 239.80,308.55 239.88,314.08 239.96,318.99 240.04,323.36 240.12,327.23 240.20,330.67 240.28,333.72 240.36,336.43 240.44,338.84 240.52,340.98 240.60,342.88 240.68,344.57 240.76,346.07 240.84,347.40 240.92,348.58 241.00,349.63 241.08,350.56 241.16,351.39 241.24,352.12 241.32,352.77 241.40,353.35 241.48,353.87 241.56,354.32 241.64,354.73 241.72,355.09 241.80,355.41 241.88,355.69 241.96,355.95 242.04,356.17 242.12,356.37 242.20,356.55 242.28,356.70 242.36,356.84 242.44,356.94 242.52,356.97 242.60,357.00 242.68,357.00 242.76,356.99 242.84,356.98 242.92,356.98 243.00,356.97 243.08,356.97 243.16,356.96 243.24,356.95 243.32,356.95 243.40,356.94 243.48,356.94 243.56,356.84 243.64,356.69 243.72,356.52 243.80,356.33 243.88,356.11 243.96,355.87 244.04,355.60 244.12,355.29 244.20,354.95 244.28,354.56 244.36,354.12 244.44,353.63 244.52,353.08 244.60,352.46 244.68,351.77 244.76,350.99 244.84,350.11 244.92,349.12 245.00,348.01 245.08,346.76 245.16,345.35 245.24,343.77 245.32,341.99 245.40,340.00 245.48,337.75 245.56,335.23 245.64,332.39 245.72,329.20 245.80,325.61 245.88,321.58 245.96,317.04 246.04,311.94 246.12,306.21 246.20,299.77 246.28,281.38 246.36,258.24 246.44,238.12 246.52,233.09 246.60,247.07 246.68,270.04 246.76,291.65 246.84,303.08 246.92,309.16 247.00,314.57 247.08,319.38 247.16,323.65 247.24,327.46 247.32,330.84 247.40,333.85 247.48,336.53 247.56,338.91 247.64,341.02 247.72,342.91 247.80,344.58 247.88,346.07 247.96,347.40 248.04,348.58 248.12,349.63 248.20,350.56 248.28,351.39 248.36,352.13 248.44,352.78 248.52,353.37 248.60,353.89 248.68,354.35 248.76,354.76 248.84,355.12 248.92,355.45 249.00,355.74 249.08,355.99 249.16,356.22 249.24,356.43 249.32,356.61 249.40,356.73 249.48,356.71 249.56,356.70 249.64,356.69 249.72,356.67 249.80,356.66 249.88,356.65 249.96,356.63 250.04,356.62 250.12,356.61 250.20,356.59 250.28,356.58 250.36,356.58 250.44,356.58 250.52,356.58 250.60,356.57 250.68,356.37 250.76,356.15 250.84,355.90 250.92,355.62 251.00,355.30 251.08,354.95 251.16,354.55 251.24,354.10 251.32,353.60 251.40,353.03 251.48,352.40 251.56,351.69 251.64,350.89 251.72,349.99 251.80,348.99 251.88,347.86 251.96,346.59 252.04,345.17 252.12,343.58 252.20,341.78 252.28,339.77 252.36,337.52 252.44,334.98 252.52,332.14 252.60,328.95 252.68,325.37 252.76,321.35 252.84,316.83 252.92,311.77 253.00,306.08 253.08,299.70 253.16,292.54 253.24,278.38 253.32,252.93 253.40,226.13 253.48,209.96 253.56,215.77 253.64,239.12 253.72,266.26 253.80,288.63 253.88,296.22 253.96,302.98 254.04,309.01 254.12,314.37 254.20,319.16 254.28,323.42 254.36,327.21 254.44,330.59 254.52,333.60 254.60,336.29 254.68,338.68 254.76,340.81 254.84,342.71 254.92,344.40 255.00,345.90 255.08,347.24 255.16,348.44 255.24,349.51 255.32,350.45 255.40,351.30 255.48,352.05 255.56,352.72 255.64,353.32 255.72,353.85 255.80,354.33 255.88,354.75 255.96,355.13 256.04,355.46 256.12,355.76 256.20,356.03 256.28,356.27 256.36,356.48 256.44,356.67 256.52,356.72 256.60,356.72 256.68,356.73 256.76,356.73 256.84,356.74 256.92,356.74 257.00,356.75 257.08,356.76 257.16,356.78 257.24,356.80 257.32,356.82 257.40,356.84 257.48,356.77 257.56,356.61 257.64,356.42 257.72,356.22 257.80,355.98 257.88,355.72 257.96,355.43 258.04,355.10 258.12,354.73 258.20,354.32 258.28,353.86 258.36,353.34 258.44,352.76 258.52,352.11 258.60,351.38 258.68,350.57 258.76,349.65 258.84,348.63 258.92,347.48 259.00,346.20 259.08,344.75 259.16,343.14 259.24,341.33 259.32,339.30 259.40,337.03 259.48,334.49 259.56,331.63 259.64,328.44 259.72,324.86 259.80,320.84 259.88,316.35 259.96,311.31 260.04,305.66 260.12,299.34 260.20,292.00 260.28,270.63 260.36,245.41 260.44,223.92 260.52,218.60 260.60,233.43 260.68,258.21 260.76,281.98 260.84,295.90 260.92,302.59 261.00,308.57 261.08,313.90 261.16,318.66 261.24,322.91 261.32,326.70 261.40,330.08 261.48,333.10 261.56,335.80 261.64,338.20 261.72,340.35 261.80,342.26 261.88,343.97 261.96,345.50 262.04,346.86 262.12,348.07 262.20,349.16 262.28,350.12 262.36,350.99 262.44,351.76 262.52,352.44 262.60,353.06 262.68,353.61 262.76,354.10 262.84,354.52 262.92,354.88 263.00,355.19 263.08,355.45 263.16,355.69 263.24,355.89 263.32,356.03 263.40,356.09 263.48,356.12 263.56,356.12 263.64,356.08 263.72,355.95 263.80,355.78 263.88,355.57 263.96,355.33 264.04,355.05 264.12,354.73 264.20,354.34 264.28,353.89 264.36,353.39 264.44,352.83 264.52,352.20 264.60,351.50 264.68,350.72 264.76,349.84 264.84,348.86 264.92,347.76 265.00,346.53 265.08,345.16 265.16,343.62 265.24,341.90 265.32,339.97 265.40,337.82 265.48,335.41 265.56,332.71 265.64,329.69 265.72,326.32 265.80,322.54 265.88,318.31 265.96,313.59 266.04,308.30 266.12,302.38 266.20,294.99 266.28,274.94 266.36,251.50 266.44,231.70 266.52,226.82 266.60,240.44 266.68,263.37 266.76,285.58 266.84,299.16 266.92,305.42 267.00,311.02 267.08,316.02 267.16,320.49 267.24,324.48 267.32,328.05 267.40,331.24 267.48,334.10 267.56,336.65 267.64,338.92 267.72,340.96 267.80,342.78 267.88,344.41 267.96,345.86 268.04,347.16 268.12,348.32 268.20,349.36 268.28,350.29 268.36,351.12 268.44,351.86 268.52,352.52 268.60,353.12 268.68,353.65 268.76,354.12 268.84,354.54 268.92,354.92 269.00,355.26 269.08,355.56 269.16,355.83 269.24,356.07 269.32,356.29 269.40,356.48 269.48,356.65 269.56,356.75" fill="none" stroke="#0072BD" stroke-width="1.55" stroke-linejoin="round"/>
<path d="M38.50 357.30V212.10M45.50 357.30V212.10M52.50 357.30V212.10M58.50 357.30V212.10M65.50 357.30V212.10M72.50 357.30V212.10M78.50 357.30V212.10M85.50 357.30V212.10M92.50 357.30V212.10M99.50 357.30V212.10M105.50 357.30V212.10M112.50 357.30V212.10M119.50 357.30V212.10M125.50 357.30V212.10M132.50 357.30V212.10M139.50 357.30V212.10M145.50 357.30V212.10M152.50 357.30V212.10M159.50 357.30V212.10M166.50 357.30V212.10M172.50 357.30V212.10M179.50 357.30V212.10M186.50 357.30V212.10M192.50 357.30V212.10M199.50 357.30V212.10M206.50 357.30V212.10M213.50 357.30V212.10M219.50 357.30V212.10M226.50 357.30V212.10M233.50 357.30V212.10M239.50 357.30V212.10M246.50 357.30V212.10M253.50 357.30V212.10M260.50 357.30V212.10M266.50 357.30V212.10" fill="none" stroke="#FF0000" stroke-width="1.35" stroke-dasharray="3.3 2.7"/>
</g>
<g font-family="Liberation Sans, Arial, Helvetica, sans-serif" font-size="8.2" fill="#262626">
<text x="44.64" y="368.90" textLength="13.27" lengthAdjust="spacingAndGlyphs">-40</text>
<text x="95.35" y="368.90" textLength="13.27" lengthAdjust="spacingAndGlyphs">-20</text>
<text x="150.15" y="368.90" textLength="5.11" lengthAdjust="spacingAndGlyphs">0</text>
<text x="198.30" y="368.90" textLength="10.21" lengthAdjust="spacingAndGlyphs">20</text>
<text x="249.02" y="368.90" textLength="10.21" lengthAdjust="spacingAndGlyphs">40</text>
<text x="27.29" y="360.25" textLength="5.11" lengthAdjust="spacingAndGlyphs">0</text>
<text x="19.63" y="331.21" textLength="12.77" lengthAdjust="spacingAndGlyphs">0.2</text>
<text x="19.63" y="302.17" textLength="12.77" lengthAdjust="spacingAndGlyphs">0.4</text>
<text x="19.63" y="273.13" textLength="12.77" lengthAdjust="spacingAndGlyphs">0.6</text>
<text x="19.63" y="244.09" textLength="12.77" lengthAdjust="spacingAndGlyphs">0.8</text>
<text x="27.29" y="215.05" textLength="5.11" lengthAdjust="spacingAndGlyphs">1</text>
</g>
<text x="126.50" y="375.00" font-family="Liberation Serif, Times New Roman, serif" font-size="11" fill="#111" textLength="49" lengthAdjust="spacingAndGlyphs"><tspan font-style="italic">θ</tspan>(Degree)</text>
<text transform="translate(16.10,342.50) rotate(-90)" font-family="Liberation Serif, Times New Roman, serif" font-size="11.4" fill="#111" textLength="112" lengthAdjust="spacingAndGlyphs">Normalized Spectrum(dB)</text>
<text x="116.50" y="208.30" font-family="Liberation Serif, Times New Roman, serif" font-weight="bold" font-size="9.2" fill="#111" textLength="79.4" lengthAdjust="spacingAndGlyphs">(c) SA-U3 K=35</text>
<rect x="307.3" y="212.4" width="235.2" height="144.4" fill="none" stroke="#262626" stroke-width="0.75"/>
<path d="M322.38 356.8v-2.3M322.38 212.4v2.3M373.52 356.8v-2.3M373.52 212.4v2.3M424.65 356.8v-2.3M424.65 212.4v2.3M475.78 356.8v-2.3M475.78 212.4v2.3M526.92 356.8v-2.3M526.92 212.4v2.3M307.3 356.80h2.3M542.5 356.80h-2.3M307.3 327.92h2.3M542.5 327.92h-2.3M307.3 299.04h2.3M542.5 299.04h-2.3M307.3 270.16h2.3M542.5 270.16h-2.3M307.3 241.28h2.3M542.5 241.28h-2.3M307.3 212.40h2.3M542.5 212.40h-2.3" stroke="#262626" stroke-width="0.7" fill="none"/>
<clipPath id="c3"><rect x="306.90000000000003" y="211.5" width="236.0" height="146.20000000000002"/></clipPath>
<g clip-path="url(#c3)">
<polyline points="307.30,353.18 307.38,352.65 307.46,352.06 307.54,351.40 307.62,350.66 307.70,349.84 307.78,348.92 307.86,347.88 307.94,346.73 308.02,345.43 308.10,343.99 308.18,342.37 308.26,340.56 308.34,338.53 308.42,336.27 308.50,333.73 308.58,330.90 308.66,327.73 308.74,324.18 308.82,320.21 308.90,315.77 308.98,310.80 309.06,305.24 309.14,299.02 309.22,288.41 309.30,266.75 309.38,242.79 309.46,225.36 309.54,225.36 309.62,242.79 309.70,266.75 309.78,288.41 309.86,299.02 309.94,305.24 310.02,310.80 310.10,315.77 310.18,320.21 310.26,324.18 310.34,327.73 310.42,330.90 310.50,333.73 310.58,336.27 310.66,338.53 310.74,340.56 310.82,342.37 310.90,343.99 310.98,345.43 311.06,346.73 311.14,347.88 311.22,348.92 311.30,349.84 311.38,350.66 311.46,351.40 311.54,352.06 311.62,352.65 311.70,353.18 311.78,353.65 311.86,354.07 311.94,354.45 312.02,354.78 312.10,355.08 312.18,355.35 312.26,355.59 312.34,355.81 312.42,356.00 312.50,356.17 312.58,356.27 312.66,356.27 312.74,356.28 312.82,356.28 312.90,356.28 312.98,356.28 313.06,356.28 313.14,356.26 313.22,356.25 313.30,356.23 313.38,356.21 313.46,356.20 313.54,356.17 313.62,355.99 313.70,355.79 313.78,355.57 313.86,355.32 313.94,355.04 314.02,354.72 314.10,354.37 314.18,353.98 314.26,353.54 314.34,353.04 314.42,352.49 314.50,351.86 314.58,351.17 314.66,350.39 314.74,349.51 314.82,348.53 314.90,347.43 314.98,346.20 315.06,344.82 315.14,343.27 315.22,341.53 315.30,339.59 315.38,337.41 315.46,334.97 315.54,332.24 315.62,329.17 315.70,325.74 315.78,321.89 315.86,317.57 315.94,312.74 316.02,307.32 316.10,301.25 316.18,294.44 316.26,277.07 316.34,252.70 316.42,229.42 316.50,219.19 316.58,229.42 316.66,252.70 316.74,277.07 316.82,294.44 316.90,301.25 316.98,307.32 317.06,312.74 317.14,317.57 317.22,321.89 317.30,325.74 317.38,329.17 317.46,332.24 317.54,334.97 317.62,337.41 317.70,339.59 317.78,341.53 317.86,343.27 317.94,344.82 318.02,346.20 318.10,347.43 318.18,348.53 318.26,349.51 318.34,350.39 318.42,351.17 318.50,351.86 318.58,352.49 318.66,353.04 318.74,353.54 318.82,353.98 318.90,354.37 318.98,354.72 319.06,355.04 319.14,355.32 319.22,355.57 319.30,355.79 319.38,355.99 319.46,356.17 319.54,356.23 319.62,356.23 319.70,356.23 319.78,356.23 319.86,356.23 319.94,356.23 320.02,356.23 320.10,356.23 320.18,356.23 320.26,356.23 320.34,356.23 320.42,356.23 320.50,356.23 320.58,356.21 320.66,356.05 320.74,355.86 320.82,355.65 320.90,355.41 320.98,355.14 321.06,354.84 321.14,354.50 321.22,354.13 321.30,353.70 321.38,353.23 321.46,352.69 321.54,352.09 321.62,351.42 321.70,350.66 321.78,349.81 321.86,348.86 321.94,347.79 322.02,346.59 322.10,345.24 322.18,343.72 322.26,342.03 322.34,340.12 322.42,337.98 322.50,335.57 322.58,332.87 322.66,329.85 322.74,326.45 322.82,322.63 322.90,318.34 322.98,313.53 323.06,308.13 323.14,302.07 323.22,292.95 323.30,271.89 323.38,248.11 323.46,230.46 323.54,230.46 323.62,248.11 323.70,271.89 323.78,292.95 323.86,302.07 323.94,308.13 324.02,313.53 324.10,318.34 324.18,322.63 324.26,326.45 324.34,329.85 324.42,332.87 324.50,335.57 324.58,337.98 324.66,340.12 324.74,342.03 324.82,343.72 324.90,345.24 324.98,346.59 325.06,347.79 325.14,348.86 325.22,349.81 325.30,350.66 325.38,351.42 325.46,352.09 325.54,352.69 325.62,353.23 325.70,353.70 325.78,354.13 325.86,354.50 325.94,354.84 326.02,355.12 326.10,355.35 326.18,355.55 326.26,355.72 326.34,355.87 326.42,355.99 326.50,356.02 326.58,356.01 326.66,355.95 326.74,355.83 326.82,355.68 326.90,355.51 326.98,355.30 327.06,355.07 327.14,354.77 327.22,354.42 327.30,354.04 327.38,353.60 327.46,353.11 327.54,352.56 327.62,351.95 327.70,351.25 327.78,350.47 327.86,349.60 327.94,348.61 328.02,347.50 328.10,346.26 328.18,344.86 328.26,343.28 328.34,341.51 328.42,339.52 328.50,337.29 328.58,334.77 328.66,331.95 328.74,328.77 328.82,325.20 328.90,321.18 328.98,316.67 329.06,311.59 329.14,305.89 329.22,297.76 329.30,277.97 329.38,255.43 329.46,238.59 329.54,238.59 329.62,255.43 329.70,277.97 329.78,297.76 329.86,305.89 329.94,311.59 330.02,316.67 330.10,321.18 330.18,325.20 330.26,328.77 330.34,331.95 330.42,334.77 330.50,337.29 330.58,339.52 330.66,341.51 330.74,343.28 330.82,344.86 330.90,346.26 330.98,347.50 331.06,348.61 331.14,349.60 331.22,350.47 331.30,351.25 331.38,351.95 331.46,352.56 331.54,353.11 331.62,353.60 331.70,354.04 331.78,354.42 331.86,354.77 331.94,355.07 332.02,355.34 332.10,355.59 332.18,355.80 332.26,355.99 332.34,356.16 332.42,356.32 332.50,356.34 332.58,356.33 332.66,356.32 332.74,356.30 332.82,356.29 332.90,356.28 332.98,356.26 333.06,356.25 333.14,356.24 333.22,356.22 333.30,356.21 333.38,356.21 333.46,356.20 333.54,356.19 333.62,356.18 333.70,356.17 333.78,356.05 333.86,355.88 333.94,355.67 334.02,355.45 334.10,355.19 334.18,354.91 334.26,354.58 334.34,354.22 334.42,353.81 334.50,353.35 334.58,352.83 334.66,352.24 334.74,351.58 334.82,350.84 334.90,350.01 334.98,349.07 335.06,348.01 335.14,346.82 335.22,345.47 335.30,343.96 335.38,342.26 335.46,340.35 335.54,338.19 335.62,335.76 335.70,333.03 335.78,329.95 335.86,326.49 335.94,322.59 336.02,318.19 336.10,313.25 336.18,307.68 336.26,294.98 336.34,274.90 336.42,255.18 336.50,246.33 336.58,255.18 336.66,274.90 336.74,294.98 336.82,307.68 336.90,313.25 336.98,318.19 337.06,322.59 337.14,326.49 337.22,329.95 337.30,333.03 337.38,335.76 337.46,338.19 337.54,340.35 337.62,342.26 337.70,343.96 337.78,345.47 337.86,346.82 337.94,348.01 338.02,349.07 338.10,350.01 338.18,350.84 338.26,351.58 338.34,352.24 338.42,352.83 338.50,353.35 338.58,353.81 338.66,354.22 338.74,354.58 338.82,354.91 338.90,355.19 338.98,355.45 339.06,355.67 339.14,355.88 339.22,356.05 339.30,356.21 339.38,356.35 339.46,356.39 339.54,356.37 339.62,356.35 339.70,356.33 339.78,356.31 339.86,356.29 339.94,356.28 340.02,356.27 340.10,356.26 340.18,356.25 340.26,356.24 340.34,356.23 340.42,356.22 340.50,356.22 340.58,356.21 340.66,356.20 340.74,356.19 340.82,356.03 340.90,355.84 340.98,355.64 341.06,355.40 341.14,355.13 341.22,354.83 341.30,354.50 341.38,354.11 341.46,353.68 341.54,353.20 341.62,352.65 341.70,352.04 341.78,351.34 341.86,350.56 341.94,349.68 342.02,348.68 342.10,347.56 342.18,346.29 342.26,344.86 342.34,343.25 342.42,341.44 342.50,339.39 342.58,337.08 342.66,334.48 342.74,331.54 342.82,328.23 342.90,324.50 342.98,320.29 343.06,315.55 343.14,310.20 343.22,303.44 343.30,284.95 343.38,263.50 343.46,247.19 343.54,247.19 343.62,263.50 343.70,284.95 343.78,303.44 343.86,310.20 343.94,315.55 344.02,320.29 344.10,324.50 344.18,328.23 344.26,331.54 344.34,334.48 344.42,337.08 344.50,339.39 344.58,341.44 344.66,343.25 344.74,344.86 344.82,346.29 344.90,347.56 344.98,348.68 345.06,349.68 345.14,350.56 345.22,351.34 345.30,352.04 345.38,352.65 345.46,353.20 345.54,353.68 345.62,354.11 345.70,354.50 345.78,354.83 345.86,355.13 345.94,355.40 346.02,355.64 346.10,355.84 346.18,356.03 346.26,356.19 346.34,356.34 346.42,356.38 346.50,356.40 346.58,356.42 346.66,356.44 346.74,356.41 346.82,356.38 346.90,356.36 346.98,356.33 347.06,356.30 347.14,356.28 347.22,356.25 347.30,356.22 347.38,356.20 347.46,356.17 347.54,356.14 347.62,356.12 347.70,356.13 347.78,356.14 347.86,356.05 347.94,355.87 348.02,355.67 348.10,355.44 348.18,355.18 348.26,354.89 348.34,354.56 348.42,354.19 348.50,353.77 348.58,353.29 348.66,352.75 348.74,352.15 348.82,351.46 348.90,350.69 348.98,349.82 349.06,348.83 349.14,347.72 349.22,346.47 349.30,345.05 349.38,343.45 349.46,341.64 349.54,339.60 349.62,337.29 349.70,334.69 349.78,331.75 349.86,328.43 349.94,324.68 350.02,320.45 350.10,315.67 350.18,310.28 350.26,298.83 350.34,279.31 350.42,259.81 350.50,250.95 350.58,259.81 350.66,279.31 350.74,298.83 350.82,310.28 350.90,315.67 350.98,320.45 351.06,324.68 351.14,328.43 351.22,331.75 351.30,334.69 351.38,337.29 351.46,339.60 351.54,341.64 351.62,343.45 351.70,345.05 351.78,346.47 351.86,347.72 351.94,348.83 352.02,349.82 352.10,350.69 352.18,351.46 352.26,352.15 352.34,352.75 352.42,353.29 352.50,353.77 352.58,354.19 352.66,354.56 352.74,354.89 352.82,355.18 352.90,355.44 352.98,355.67 353.06,355.87 353.14,356.05 353.22,356.17 353.30,356.28 353.38,356.36 353.46,356.43 353.54,356.43 353.62,356.37 353.70,356.27 353.78,356.16 353.86,356.02 353.94,355.84 354.02,355.62 354.10,355.37 354.18,355.10 354.26,354.78 354.34,354.42 354.42,354.02 354.50,353.57 354.58,353.05 354.66,352.47 354.74,351.81 354.82,351.07 354.90,350.23 354.98,349.28 355.06,348.21 355.14,346.99 355.22,345.62 355.30,344.07 355.38,342.32 355.46,340.34 355.54,338.10 355.62,335.57 355.70,332.70 355.78,329.47 355.86,325.81 355.94,321.68 356.02,317.00 356.10,311.72 356.18,305.75 356.26,293.43 356.34,271.81 356.42,250.06 356.50,240.12 356.58,250.06 356.66,271.81 356.74,293.43 356.82,305.75 356.90,311.72 356.98,317.00 357.06,321.68 357.14,325.81 357.22,329.47 357.30,332.70 357.38,335.57 357.46,338.10 357.54,340.34 357.62,342.32 357.70,344.07 357.78,345.62 357.86,346.99 357.94,348.21 358.02,349.28 358.10,350.23 358.18,351.07 358.26,351.81 358.34,352.47 358.42,353.05 358.50,353.57 358.58,354.02 358.66,354.42 358.74,354.78 358.82,355.10 358.90,355.37 358.98,355.62 359.06,355.84 359.14,356.03 359.22,356.20 359.30,356.35 359.38,356.47 359.46,356.48 359.54,356.48 359.62,356.48 359.70,356.49 359.78,356.49 359.86,356.49 359.94,356.50 360.02,356.50 360.10,356.50 360.18,356.49 360.26,356.48 360.34,356.47 360.42,356.46 360.50,356.44 360.58,356.43 360.66,356.42 360.74,356.29 360.82,356.12 360.90,355.93 360.98,355.72 361.06,355.47 361.14,355.19 361.22,354.88 361.30,354.53 361.38,354.13 361.46,353.67 361.54,353.16 361.62,352.58 361.70,351.92 361.78,351.17 361.86,350.33 361.94,349.37 362.02,348.29 362.10,347.07 362.18,345.69 362.26,344.12 362.34,342.35 362.42,340.34 362.50,338.07 362.58,335.50 362.66,332.59 362.74,329.30 362.82,325.58 362.90,321.36 362.98,316.59 363.06,311.19 363.14,305.08 363.22,298.16 363.30,277.48 363.38,252.57 363.46,233.24 363.54,233.24 363.62,252.57 363.70,277.48 363.78,298.16 363.86,305.08 363.94,311.19 364.02,316.59 364.10,321.36 364.18,325.58 364.26,329.30 364.34,332.59 364.42,335.50 364.50,338.07 364.58,340.34 364.66,342.35 364.74,344.12 364.82,345.69 364.90,347.07 364.98,348.29 365.06,349.37 365.14,350.33 365.22,351.17 365.30,351.92 365.38,352.58 365.46,353.16 365.54,353.67 365.62,354.13 365.70,354.53 365.78,354.88 365.86,355.19 365.94,355.47 366.02,355.72 366.10,355.93 366.18,356.12 366.26,356.13 366.34,356.12 366.42,356.11 366.50,356.10 366.58,356.09 366.66,356.08 366.74,356.07 366.82,356.06 366.90,356.09 366.98,356.11 367.06,356.14 367.14,356.17 367.22,356.19 367.30,356.22 367.38,356.24 367.46,356.27 367.54,356.29 367.62,356.32 367.70,356.35 367.78,356.34 367.86,356.19 367.94,356.02 368.02,355.83 368.10,355.61 368.18,355.36 368.26,355.08 368.34,354.77 368.42,354.41 368.50,354.00 368.58,353.54 368.66,353.02 368.74,352.43 368.82,351.76 368.90,351.01 368.98,350.15 369.06,349.17 369.14,348.07 369.22,346.82 369.30,345.41 369.38,343.81 369.46,341.99 369.54,339.93 369.62,337.60 369.70,334.96 369.78,331.96 369.86,328.57 369.94,324.73 370.02,320.38 370.10,315.44 370.18,309.86 370.26,298.98 370.34,278.71 370.42,258.04 370.50,248.50 370.58,258.04 370.66,278.71 370.74,298.98 370.82,309.86 370.90,315.44 370.98,320.38 371.06,324.73 371.14,328.57 371.22,331.96 371.30,334.96 371.38,337.60 371.46,339.93 371.54,341.99 371.62,343.81 371.70,345.41 371.78,346.82 371.86,348.07 371.94,349.17 372.02,350.15 372.10,351.01 372.18,351.76 372.26,352.43 372.34,353.02 372.42,353.54 372.50,354.00 372.58,354.41 372.66,354.77 372.74,355.08 372.82,355.36 372.90,355.61 372.98,355.83 373.06,356.02 373.14,356.14 373.22,356.14 373.30,356.15 373.38,356.16 373.46,356.17 373.54,356.18 373.62,356.18 373.70,356.19 373.78,356.20 373.86,356.20 373.94,356.21 374.02,356.21 374.10,356.22 374.18,356.22 374.26,356.23 374.34,356.23 374.42,356.24 374.50,356.25 374.58,356.25 374.66,356.26 374.74,356.27 374.82,356.19 374.90,356.00 374.98,355.79 375.06,355.54 375.14,355.27 375.22,354.95 375.30,354.60 375.38,354.19 375.46,353.74 375.54,353.22 375.62,352.63 375.70,351.96 375.78,351.20 375.86,350.34 375.94,349.37 376.02,348.26 376.10,347.01 376.18,345.59 376.26,343.97 376.34,342.14 376.42,340.07 376.50,337.72 376.58,335.05 376.66,332.02 376.74,328.59 376.82,324.70 376.90,320.29 376.98,315.28 377.06,309.60 377.14,303.17 377.22,295.86 377.30,274.81 377.38,248.34 377.46,227.55 377.54,227.55 377.62,248.34 377.70,274.81 377.78,295.86 377.86,303.17 377.94,309.60 378.02,315.28 378.10,320.29 378.18,324.70 378.26,328.59 378.34,332.02 378.42,335.05 378.50,337.72 378.58,340.07 378.66,342.14 378.74,343.97 378.82,345.59 378.90,347.01 378.98,348.26 379.06,349.37 379.14,350.34 379.22,351.20 379.30,351.96 379.38,352.63 379.46,353.22 379.54,353.74 379.62,354.19 379.70,354.60 379.78,354.95 379.86,355.27 379.94,355.54 380.02,355.79 380.10,356.00 380.18,356.19 380.26,356.36 380.34,356.37 380.42,356.34 380.50,356.31 380.58,356.29 380.66,356.26 380.74,356.23 380.82,356.20 380.90,356.17 380.98,356.15 381.06,356.12 381.14,356.09 381.22,356.06 381.30,356.06 381.38,356.06 381.46,356.06 381.54,356.06 381.62,356.06 381.70,356.06 381.78,356.06 381.86,356.05 381.94,356.05 382.02,355.95 382.10,355.75 382.18,355.52 382.26,355.26 382.34,354.97 382.42,354.64 382.50,354.26 382.58,353.83 382.66,353.34 382.74,352.79 382.82,352.16 382.90,351.45 382.98,350.64 383.06,349.72 383.14,348.68 383.22,347.49 383.30,346.15 383.38,344.62 383.46,342.89 383.54,340.93 383.62,338.70 383.70,336.17 383.78,333.29 383.86,330.03 383.94,326.33 384.02,322.13 384.10,317.36 384.18,311.94 384.26,301.90 384.34,282.25 384.42,261.97 384.50,252.54 384.58,261.97 384.66,282.25 384.74,301.90 384.82,311.94 384.90,317.36 384.98,322.13 385.06,326.33 385.14,330.03 385.22,333.29 385.30,336.17 385.38,338.70 385.46,340.93 385.54,342.89 385.62,344.62 385.70,346.15 385.78,347.49 385.86,348.68 385.94,349.72 386.02,350.64 386.10,351.45 386.18,352.16 386.26,352.79 386.34,353.34 386.42,353.83 386.50,354.26 386.58,354.64 386.66,354.97 386.74,355.26 386.82,355.52 386.90,355.75 386.98,355.95 387.06,356.13 387.14,356.28 387.22,356.29 387.30,356.27 387.38,356.25 387.46,356.23 387.54,356.22 387.62,356.20 387.70,356.18 387.78,356.16 387.86,356.14 387.94,356.11 388.02,355.93 388.10,355.72 388.18,355.48 388.26,355.21 388.34,354.90 388.42,354.56 388.50,354.16 388.58,353.71 388.66,353.20 388.74,352.62 388.82,351.96 388.90,351.21 388.98,350.36 389.06,349.39 389.14,348.29 389.22,347.04 389.30,345.63 389.38,344.02 389.46,342.19 389.54,340.12 389.62,337.76 389.70,335.08 389.78,332.04 389.86,328.58 389.94,324.66 390.02,320.20 390.10,315.14 390.18,309.39 390.26,298.91 390.34,278.03 390.42,256.41 390.50,246.33 390.58,256.41 390.66,278.03 390.74,298.91 390.82,309.39 390.90,315.14 390.98,320.20 391.06,324.66 391.14,328.58 391.22,332.04 391.30,335.08 391.38,337.76 391.46,340.12 391.54,342.19 391.62,344.02 391.70,345.63 391.78,347.04 391.86,348.29 391.94,349.39 392.02,350.36 392.10,351.21 392.18,351.96 392.26,352.62 392.34,353.20 392.42,353.71 392.50,354.16 392.58,354.56 392.66,354.90 392.74,355.21 392.82,355.48 392.90,355.72 392.98,355.93 393.06,356.11 393.14,356.27 393.22,356.29 393.30,356.31 393.38,356.32 393.46,356.34 393.54,356.36 393.62,356.37 393.70,356.39 393.78,356.37 393.86,356.36 393.94,356.34 394.02,356.33 394.10,356.31 394.18,356.30 394.26,356.28 394.34,356.27 394.42,356.25 394.50,356.24 394.58,356.22 394.66,356.21 394.74,356.22 394.82,356.24 394.90,356.16 394.98,355.97 395.06,355.75 395.14,355.50 395.22,355.22 395.30,354.90 395.38,354.54 395.46,354.13 395.54,353.66 395.62,353.13 395.70,352.53 395.78,351.84 395.86,351.06 395.94,350.18 396.02,349.17 396.10,348.03 396.18,346.73 396.26,345.25 396.34,343.57 396.42,341.66 396.50,339.49 396.58,337.02 396.66,334.22 396.74,331.03 396.82,327.41 396.90,323.30 396.98,318.62 397.06,313.31 397.14,307.27 397.22,300.41 397.30,281.32 397.38,256.29 397.46,236.39 397.54,236.39 397.62,256.29 397.70,281.32 397.78,300.41 397.86,307.27 397.94,313.31 398.02,318.62 398.10,323.30 398.18,327.41 398.26,331.03 398.34,334.22 398.42,337.02 398.50,339.49 398.58,341.66 398.66,343.57 398.74,345.25 398.82,346.73 398.90,348.03 398.98,349.17 399.06,350.18 399.14,351.06 399.22,351.84 399.30,352.53 399.38,353.13 399.46,353.66 399.54,354.13 399.62,354.54 399.70,354.90 399.78,355.22 399.86,355.50 399.94,355.75 400.02,355.97 400.10,356.16 400.18,356.24 400.26,356.22 400.34,356.20 400.42,356.18 400.50,356.18 400.58,356.17 400.66,356.16 400.74,356.16 400.82,356.15 400.90,356.15 400.98,356.14 401.06,356.14 401.14,356.13 401.22,356.13 401.30,356.12 401.38,356.12 401.46,356.12 401.54,356.11 401.62,356.11 401.70,356.11 401.78,356.11 401.86,356.11 401.94,356.11 402.02,355.98 402.10,355.78 402.18,355.55 402.26,355.28 402.34,354.98 402.42,354.64 402.50,354.25 402.58,353.81 402.66,353.31 402.74,352.74 402.82,352.09 402.90,351.36 402.98,350.52 403.06,349.57 403.14,348.48 403.22,347.25 403.30,345.85 403.38,344.26 403.46,342.44 403.54,340.38 403.62,338.04 403.70,335.38 403.78,332.35 403.86,328.91 403.94,324.99 404.02,320.54 404.10,315.48 404.18,309.73 404.26,299.53 404.34,278.62 404.42,256.83 404.50,246.62 404.58,256.83 404.66,278.62 404.74,299.53 404.82,309.73 404.90,315.48 404.98,320.54 405.06,324.99 405.14,328.91 405.22,332.35 405.30,335.38 405.38,338.04 405.46,340.38 405.54,342.44 405.62,344.26 405.70,345.85 405.78,347.25 405.86,348.48 405.94,349.57 406.02,350.52 406.10,351.36 406.18,352.09 406.26,352.74 406.34,353.31 406.42,353.81 406.50,354.25 406.58,354.64 406.66,354.98 406.74,355.28 406.82,355.55 406.90,355.78 406.98,355.98 407.06,356.16 407.14,356.16 407.22,356.17 407.30,356.18 407.38,356.19 407.46,356.20 407.54,356.21 407.62,356.22 407.70,356.23 407.78,356.24 407.86,356.25 407.94,356.25 408.02,356.26 408.10,356.27 408.18,356.27 408.26,356.27 408.34,356.28 408.42,356.28 408.50,356.28 408.58,356.28 408.66,356.28 408.74,356.28 408.82,356.28 408.90,356.25 408.98,356.08 409.06,355.89 409.14,355.68 409.22,355.43 409.30,355.15 409.38,354.82 409.46,354.46 409.54,354.04 409.62,353.57 409.70,353.04 409.78,352.43 409.86,351.73 409.94,350.94 410.02,350.04 410.10,349.02 410.18,347.86 410.26,346.54 410.34,345.03 410.42,343.32 410.50,341.37 410.58,339.16 410.66,336.64 410.74,333.78 410.82,330.52 410.90,326.82 410.98,322.60 411.06,317.81 411.14,312.36 411.22,306.16 411.30,289.16 411.38,266.49 411.46,248.39 411.54,248.39 411.62,266.49 411.70,289.16 411.78,306.16 411.86,312.36 411.94,317.81 412.02,322.60 412.10,326.82 412.18,330.52 412.26,333.78 412.34,336.64 412.42,339.16 412.50,341.37 412.58,343.32 412.66,345.03 412.74,346.54 412.82,347.86 412.90,349.02 412.98,350.04 413.06,350.94 413.14,351.73 413.22,352.43 413.30,353.04 413.38,353.57 413.46,354.04 413.54,354.46 413.62,354.82 413.70,355.15 413.78,355.43 413.86,355.68 413.94,355.89 414.02,356.08 414.10,356.18 414.18,356.19 414.26,356.20 414.34,356.21 414.42,356.22 414.50,356.23 414.58,356.24 414.66,356.25 414.74,356.26 414.82,356.27 414.90,356.17 414.98,355.98 415.06,355.76 415.14,355.51 415.22,355.22 415.30,354.89 415.38,354.52 415.46,354.10 415.54,353.62 415.62,353.08 415.70,352.46 415.78,351.75 415.86,350.95 415.94,350.03 416.02,348.99 416.10,347.81 416.18,346.46 416.26,344.93 416.34,343.19 416.42,341.21 416.50,338.95 416.58,336.39 416.66,333.47 416.74,330.15 416.82,326.37 416.90,322.08 416.98,317.19 417.06,311.63 417.14,305.30 417.22,298.11 417.30,278.44 417.38,252.12 417.46,231.09 417.54,231.09 417.62,252.12 417.70,278.44 417.78,298.11 417.86,305.30 417.94,311.63 418.02,317.19 418.10,322.08 418.18,326.37 418.26,330.15 418.34,333.47 418.42,336.39 418.50,338.95 418.58,341.21 418.66,343.19 418.74,344.93 418.82,346.46 418.90,347.81 418.98,348.99 419.06,350.03 419.14,350.95 419.22,351.75 419.30,352.46 419.38,353.08 419.46,353.62 419.54,354.10 419.62,354.52 419.70,354.89 419.78,355.22 419.86,355.51 419.94,355.76 420.02,355.98 420.10,356.17 420.18,356.31 420.26,356.31 420.34,356.31 420.42,356.30 420.50,356.30 420.58,356.30 420.66,356.30 420.74,356.30 420.82,356.30 420.90,356.30 420.98,356.30 421.06,356.30 421.14,356.30 421.22,356.30 421.30,356.30 421.38,356.31 421.46,356.31 421.54,356.31 421.62,356.32 421.70,356.33 421.78,356.34 421.86,356.25 421.94,356.06 422.02,355.84 422.10,355.60 422.18,355.32 422.26,355.00 422.34,354.64 422.42,354.23 422.50,353.77 422.58,353.24 422.66,352.64 422.74,351.95 422.82,351.17 422.90,350.28 422.98,349.27 423.06,348.12 423.14,346.81 423.22,345.33 423.30,343.63 423.38,341.71 423.46,339.52 423.54,337.02 423.62,334.19 423.70,330.96 423.78,327.29 423.86,323.11 423.94,318.36 424.02,312.96 424.10,306.80 424.18,299.81 424.26,287.61 424.34,262.18 424.42,235.58 424.50,223.09 424.58,235.58 424.66,262.18 424.74,287.61 424.82,299.81 424.90,306.80 424.98,312.96 425.06,318.36 425.14,323.11 425.22,327.29 425.30,330.96 425.38,334.19 425.46,337.02 425.54,339.52 425.62,341.71 425.70,343.63 425.78,345.33 425.86,346.81 425.94,348.12 426.02,349.27 426.10,350.28 426.18,351.17 426.26,351.95 426.34,352.64 426.42,353.24 426.50,353.77 426.58,354.23 426.66,354.64 426.74,355.00 426.82,355.32 426.90,355.60 426.98,355.84 427.06,356.06 427.14,356.25 427.22,356.35 427.30,356.33 427.38,356.31 427.46,356.29 427.54,356.26 427.62,356.24 427.70,356.22 427.78,356.20 427.86,356.17 427.94,356.15 428.02,356.13 428.10,356.10 428.18,356.08 428.26,356.06 428.34,356.08 428.42,356.10 428.50,356.12 428.58,356.13 428.66,356.15 428.74,356.17 428.82,356.19 428.90,356.18 428.98,355.99 429.06,355.77 429.14,355.53 429.22,355.25 429.30,354.92 429.38,354.56 429.46,354.14 429.54,353.67 429.62,353.14 429.70,352.52 429.78,351.83 429.86,351.04 429.94,350.14 430.02,349.11 430.10,347.95 430.18,346.63 430.26,345.12 430.34,343.40 430.42,341.45 430.50,339.23 430.58,336.71 430.66,333.84 430.74,330.57 430.82,326.85 430.90,322.62 430.98,317.81 431.06,312.34 431.14,306.11 431.22,299.03 431.30,279.68 431.38,253.76 431.46,233.06 431.54,233.06 431.62,253.76 431.70,279.68 431.78,299.03 431.86,306.11 431.94,312.34 432.02,317.81 432.10,322.62 432.18,326.85 432.26,330.57 432.34,333.84 432.42,336.71 432.50,339.23 432.58,341.45 432.66,343.40 432.74,345.12 432.82,346.63 432.90,347.95 432.98,349.11 433.06,350.14 433.14,351.04 433.22,351.83 433.30,352.52 433.38,353.14 433.46,353.67 433.54,354.14 433.62,354.56 433.70,354.92 433.78,355.25 433.86,355.53 433.94,355.77 434.02,355.99 434.10,356.18 434.18,356.23 434.26,356.25 434.34,356.26 434.42,356.27 434.50,356.29 434.58,356.30 434.66,356.32 434.74,356.33 434.82,356.34 434.90,356.36 434.98,356.37 435.06,356.36 435.14,356.36 435.22,356.35 435.30,356.35 435.38,356.34 435.46,356.33 435.54,356.33 435.62,356.32 435.70,356.32 435.78,356.31 435.86,356.25 435.94,356.07 436.02,355.86 436.10,355.62 436.18,355.35 436.26,355.04 436.34,354.69 436.42,354.30 436.50,353.84 436.58,353.33 436.66,352.74 436.74,352.08 436.82,351.32 436.90,350.46 436.98,349.48 437.06,348.37 437.14,347.10 437.22,345.66 437.30,344.02 437.38,342.15 437.46,340.03 437.54,337.62 437.62,334.88 437.70,331.75 437.78,328.20 437.86,324.17 437.94,319.57 438.02,314.35 438.10,308.41 438.18,301.65 438.26,289.78 438.34,265.23 438.42,239.59 438.50,227.56 438.58,239.59 438.66,265.23 438.74,289.78 438.82,301.65 438.90,308.41 438.98,314.35 439.06,319.57 439.14,324.17 439.22,328.20 439.30,331.75 439.38,334.88 439.46,337.62 439.54,340.03 439.62,342.15 439.70,344.02 439.78,345.66 439.86,347.10 439.94,348.37 440.02,349.48 440.10,350.46 440.18,351.32 440.26,352.08 440.34,352.74 440.42,353.33 440.50,353.84 440.58,354.30 440.66,354.69 440.74,355.04 440.82,355.35 440.90,355.62 440.98,355.86 441.06,356.07 441.14,356.25 441.22,356.29 441.30,356.31 441.38,356.33 441.46,356.35 441.54,356.37 441.62,356.39 441.70,356.41 441.78,356.41 441.86,356.33 441.94,356.17 442.02,355.99 442.10,355.79 442.18,355.56 442.26,355.30 442.34,355.00 442.42,354.67 442.50,354.28 442.58,353.85 442.66,353.35 442.74,352.79 442.82,352.15 442.90,351.42 442.98,350.59 443.06,349.64 443.14,348.57 443.22,347.35 443.30,345.97 443.38,344.39 443.46,342.60 443.54,340.56 443.62,338.24 443.70,335.61 443.78,332.61 443.86,329.21 443.94,325.33 444.02,320.93 444.10,315.92 444.18,310.22 444.26,300.14 444.34,279.45 444.42,257.88 444.50,247.78 444.58,257.88 444.66,279.45 444.74,300.14 444.82,310.22 444.90,315.92 444.98,320.93 445.06,325.33 445.14,329.21 445.22,332.61 445.30,335.61 445.38,338.24 445.46,340.56 445.54,342.60 445.62,344.39 445.70,345.97 445.78,347.35 445.86,348.57 445.94,349.64 446.02,350.59 446.10,351.42 446.18,352.15 446.26,352.79 446.34,353.35 446.42,353.85 446.50,354.28 446.58,354.67 446.66,355.00 446.74,355.30 446.82,355.56 446.90,355.79 446.98,355.99 447.06,356.17 447.14,356.33 447.22,356.38 447.30,356.39 447.38,356.40 447.46,356.41 447.54,356.40 447.62,356.39 447.70,356.38 447.78,356.38 447.86,356.37 447.94,356.36 448.02,356.35 448.10,356.34 448.18,356.33 448.26,356.32 448.34,356.31 448.42,356.31 448.50,356.29 448.58,356.27 448.66,356.26 448.74,356.24 448.82,356.22 448.90,356.11 448.98,355.91 449.06,355.67 449.14,355.41 449.22,355.11 449.30,354.77 449.38,354.38 449.46,353.94 449.54,353.44 449.62,352.87 449.70,352.22 449.78,351.49 449.86,350.65 449.94,349.70 450.02,348.62 450.10,347.39 450.18,346.00 450.26,344.41 450.34,342.61 450.42,340.57 450.50,338.24 450.58,335.59 450.66,332.59 450.74,329.17 450.82,325.29 450.90,320.88 450.98,315.86 451.06,310.16 451.14,303.68 451.22,296.32 451.30,275.86 451.38,249.00 451.46,227.66 451.54,227.66 451.62,249.00 451.70,275.86 451.78,296.32 451.86,303.68 451.94,310.16 452.02,315.86 452.10,320.88 452.18,325.29 452.26,329.17 452.34,332.59 452.42,335.59 452.50,338.24 452.58,340.57 452.66,342.61 452.74,344.41 452.82,346.00 452.90,347.39 452.98,348.62 453.06,349.70 453.14,350.65 453.22,351.49 453.30,352.22 453.38,352.87 453.46,353.44 453.54,353.94 453.62,354.38 453.70,354.77 453.78,355.11 453.86,355.41 453.94,355.67 454.02,355.91 454.10,356.11 454.18,356.10 454.26,356.12 454.34,356.13 454.42,356.15 454.50,356.16 454.58,356.17 454.66,356.19 454.74,356.20 454.82,356.22 454.90,356.23 454.98,356.25 455.06,356.26 455.14,356.27 455.22,356.29 455.30,356.30 455.38,356.31 455.46,356.33 455.54,356.34 455.62,356.35 455.70,356.37 455.78,356.38 455.86,356.23 455.94,356.05 456.02,355.85 456.10,355.62 456.18,355.36 456.26,355.06 456.34,354.73 456.42,354.34 456.50,353.91 456.58,353.42 456.66,352.86 456.74,352.22 456.82,351.50 456.90,350.68 456.98,349.75 457.06,348.69 457.14,347.48 457.22,346.12 457.30,344.57 457.38,342.80 457.46,340.80 457.54,338.53 457.62,335.95 457.70,333.01 457.78,329.68 457.86,325.90 457.94,321.60 458.02,316.72 458.10,311.17 458.18,304.88 458.26,293.40 458.34,270.53 458.42,246.84 458.50,235.79 458.58,246.84 458.66,270.53 458.74,293.40 458.82,304.88 458.90,311.17 458.98,316.72 459.06,321.60 459.14,325.90 459.22,329.68 459.30,333.01 459.38,335.95 459.46,338.53 459.54,340.80 459.62,342.80 459.70,344.57 459.78,346.12 459.86,347.48 459.94,348.69 460.02,349.75 460.10,350.68 460.18,351.50 460.26,352.22 460.34,352.86 460.42,353.42 460.50,353.91 460.58,354.34 460.66,354.73 460.74,355.06 460.82,355.36 460.90,355.62 460.98,355.85 461.06,356.05 461.14,356.08 461.22,356.08 461.30,356.08 461.38,356.08 461.46,356.08 461.54,356.08 461.62,356.08 461.70,356.08 461.78,356.08 461.86,356.08 461.94,356.08 462.02,356.08 462.10,356.08 462.18,356.08 462.26,356.08 462.34,356.08 462.42,356.08 462.50,356.08 462.58,356.08 462.66,356.08 462.74,356.08 462.82,356.08 462.90,356.09 462.98,355.90 463.06,355.68 463.14,355.43 463.22,355.14 463.30,354.81 463.38,354.44 463.46,354.02 463.54,353.55 463.62,353.01 463.70,352.39 463.78,351.70 463.86,350.91 463.94,350.01 464.02,348.99 464.10,347.83 464.18,346.52 464.26,345.03 464.34,343.34 464.42,341.43 464.50,339.25 464.58,336.78 464.66,333.97 464.74,330.79 464.82,327.18 464.90,323.08 464.98,318.42 465.06,313.14 465.14,307.14 465.22,300.34 465.30,280.98 465.38,256.25 465.46,236.75 465.54,236.75 465.62,256.25 465.70,280.98 465.78,300.34 465.86,307.14 465.94,313.14 466.02,318.42 466.10,323.08 466.18,327.18 466.26,330.79 466.34,333.97 466.42,336.78 466.50,339.25 466.58,341.43 466.66,343.34 466.74,345.03 466.82,346.52 466.90,347.83 466.98,348.99 467.06,350.01 467.14,350.91 467.22,351.70 467.30,352.39 467.38,353.01 467.46,353.55 467.54,354.02 467.62,354.44 467.70,354.81 467.78,355.14 467.86,355.43 467.94,355.68 468.02,355.90 468.10,356.05 468.18,356.05 468.26,356.05 468.34,356.05 468.42,356.05 468.50,356.05 468.58,356.05 468.66,356.06 468.74,356.07 468.82,356.07 468.90,356.08 468.98,356.09 469.06,356.10 469.14,356.10 469.22,356.11 469.30,356.12 469.38,356.13 469.46,356.13 469.54,356.14 469.62,356.15 469.70,356.16 469.78,356.17 469.86,356.17 469.94,356.01 470.02,355.81 470.10,355.58 470.18,355.33 470.26,355.04 470.34,354.71 470.42,354.33 470.50,353.91 470.58,353.42 470.66,352.88 470.74,352.26 470.82,351.55 470.90,350.76 470.98,349.85 471.06,348.83 471.14,347.66 471.22,346.34 471.30,344.85 471.38,343.15 471.46,341.23 471.54,339.05 471.62,336.58 471.70,333.77 471.78,330.59 471.86,326.98 471.94,322.89 472.02,318.26 472.10,312.99 472.18,307.03 472.26,295.69 472.34,274.05 472.42,251.85 472.50,241.57 472.58,251.85 472.66,274.05 472.74,295.69 472.82,307.03 472.90,312.99 472.98,318.26 473.06,322.89 473.14,326.98 473.22,330.59 473.30,333.77 473.38,336.58 473.46,339.05 473.54,341.23 473.62,343.15 473.70,344.85 473.78,346.34 473.86,347.66 473.94,348.83 474.02,349.85 474.10,350.76 474.18,351.55 474.26,352.26 474.34,352.88 474.42,353.42 474.50,353.91 474.58,354.33 474.66,354.71 474.74,355.04 474.82,355.33 474.90,355.58 474.98,355.81 475.06,356.01 475.14,356.19 475.22,356.23 475.30,356.24 475.38,356.25 475.46,356.26 475.54,356.27 475.62,356.28 475.70,356.28 475.78,356.21 475.86,356.01 475.94,355.80 476.02,355.55 476.10,355.27 476.18,354.95 476.26,354.59 476.34,354.19 476.42,353.73 476.50,353.20 476.58,352.61 476.66,351.94 476.74,351.18 476.82,350.32 476.90,349.34 476.98,348.24 477.06,346.99 477.14,345.57 477.22,343.96 477.30,342.14 477.38,340.07 477.46,337.74 477.54,335.09 477.62,332.08 477.70,328.68 477.78,324.82 477.86,320.46 477.94,315.51 478.02,309.90 478.10,303.55 478.18,296.35 478.26,282.36 478.34,256.24 478.42,229.60 478.50,217.31 478.58,229.60 478.66,256.24 478.74,282.36 478.82,296.35 478.90,303.55 478.98,309.90 479.06,315.51 479.14,320.46 479.22,324.82 479.30,328.68 479.38,332.08 479.46,335.09 479.54,337.74 479.62,340.07 479.70,342.14 479.78,343.96 479.86,345.57 479.94,346.99 480.02,348.24 480.10,349.34 480.18,350.32 480.26,351.18 480.34,351.94 480.42,352.61 480.50,353.20 480.58,353.73 480.66,354.19 480.74,354.59 480.82,354.95 480.90,355.27 480.98,355.55 481.06,355.80 481.14,356.01 481.22,356.21 481.30,356.38 481.38,356.37 481.46,356.37 481.54,356.37 481.62,356.37 481.70,356.37 481.78,356.37 481.86,356.37 481.94,356.37 482.02,356.36 482.10,356.34 482.18,356.32 482.26,356.30 482.34,356.28 482.42,356.26 482.50,356.24 482.58,356.22 482.66,356.20 482.74,356.18 482.82,356.15 482.90,355.96 482.98,355.76 483.06,355.52 483.14,355.25 483.22,354.95 483.30,354.61 483.38,354.22 483.46,353.78 483.54,353.29 483.62,352.73 483.70,352.09 483.78,351.37 483.86,350.56 483.94,349.64 484.02,348.59 484.10,347.41 484.18,346.08 484.26,344.56 484.34,342.85 484.42,340.92 484.50,338.72 484.58,336.24 484.66,333.43 484.74,330.26 484.82,326.66 484.90,322.59 484.98,317.98 485.06,312.76 485.14,306.86 485.22,300.18 485.30,280.22 485.38,256.15 485.46,237.47 485.54,237.47 485.62,256.15 485.70,280.22 485.78,300.18 485.86,306.86 485.94,312.76 486.02,317.98 486.10,322.59 486.18,326.66 486.26,330.26 486.34,333.43 486.42,336.24 486.50,338.72 486.58,340.92 486.66,342.85 486.74,344.56 486.82,346.08 486.90,347.41 486.98,348.59 487.06,349.64 487.14,350.56 487.22,351.37 487.30,352.09 487.38,352.73 487.46,353.29 487.54,353.78 487.62,354.22 487.70,354.61 487.78,354.95 487.86,355.25 487.94,355.52 488.02,355.76 488.10,355.96 488.18,356.15 488.26,356.16 488.34,356.17 488.42,356.17 488.50,356.18 488.58,356.18 488.66,356.19 488.74,356.20 488.82,356.22 488.90,356.24 488.98,356.27 489.06,356.29 489.14,356.32 489.22,356.34 489.30,356.37 489.38,356.39 489.46,356.41 489.54,356.44 489.62,356.43 489.70,356.28 489.78,356.10 489.86,355.90 489.94,355.67 490.02,355.41 490.10,355.12 490.18,354.79 490.26,354.42 490.34,354.00 490.42,353.53 490.50,352.99 490.58,352.39 490.66,351.70 490.74,350.93 490.82,350.05 490.90,349.06 490.98,347.94 491.06,346.68 491.14,345.25 491.22,343.63 491.30,341.80 491.38,339.73 491.46,337.40 491.54,334.76 491.62,331.77 491.70,328.40 491.78,324.58 491.86,320.27 491.94,315.39 492.02,309.88 492.10,303.65 492.18,296.60 492.26,282.08 492.34,256.58 492.42,230.91 492.50,219.19 492.58,230.91 492.66,256.58 492.74,282.08 492.82,296.60 492.90,303.65 492.98,309.88 493.06,315.39 493.14,320.27 493.22,324.58 493.30,328.40 493.38,331.77 493.46,334.76 493.54,337.40 493.62,339.73 493.70,341.80 493.78,343.63 493.86,345.25 493.94,346.68 494.02,347.94 494.10,349.06 494.18,350.05 494.26,350.93 494.34,351.70 494.42,352.39 494.50,352.99 494.58,353.53 494.66,354.00 494.74,354.42 494.82,354.79 494.90,355.12 494.98,355.41 495.06,355.67 495.14,355.90 495.22,356.10 495.30,356.28 495.38,356.32 495.46,356.33 495.54,356.33 495.62,356.33 495.70,356.33 495.78,356.33 495.86,356.33 495.94,356.33 496.02,356.33 496.10,356.33 496.18,356.32 496.26,356.32 496.34,356.32 496.42,356.32 496.50,356.33 496.58,356.34 496.66,356.34 496.74,356.26 496.82,356.10 496.90,355.92 496.98,355.72 497.06,355.49 497.14,355.24 497.22,354.95 497.30,354.62 497.38,354.25 497.46,353.84 497.54,353.37 497.62,352.84 497.70,352.24 497.78,351.56 497.86,350.80 497.94,349.94 498.02,348.96 498.10,347.87 498.18,346.63 498.26,345.23 498.34,343.65 498.42,341.86 498.50,339.85 498.58,337.57 498.66,335.01 498.74,332.11 498.82,328.83 498.90,325.14 498.98,320.97 499.06,316.26 499.14,310.94 499.22,304.57 499.30,286.22 499.38,264.78 499.46,248.37 499.54,248.37 499.62,264.78 499.70,286.22 499.78,304.57 499.86,310.94 499.94,316.26 500.02,320.97 500.10,325.14 500.18,328.83 500.26,332.11 500.34,335.01 500.42,337.57 500.50,339.85 500.58,341.86 500.66,343.65 500.74,345.23 500.82,346.63 500.90,347.87 500.98,348.96 501.06,349.94 501.14,350.80 501.22,351.56 501.30,352.24 501.38,352.84 501.46,353.37 501.54,353.84 501.62,354.25 501.70,354.62 501.78,354.95 501.86,355.24 501.94,355.49 502.02,355.72 502.10,355.90 502.18,356.04 502.26,356.16 502.34,356.21 502.42,356.21 502.50,356.22 502.58,356.22 502.66,356.19 502.74,356.07 502.82,355.93 502.90,355.76 502.98,355.53 503.06,355.28 503.14,354.99 503.22,354.66 503.30,354.29 503.38,353.88 503.46,353.41 503.54,352.88 503.62,352.28 503.70,351.61 503.78,350.85 503.86,350.00 503.94,349.03 504.02,347.95 504.10,346.72 504.18,345.34 504.26,343.78 504.34,342.03 504.42,340.04 504.50,337.81 504.58,335.29 504.66,332.45 504.74,329.25 504.82,325.63 504.90,321.56 504.98,316.97 505.06,311.79 505.14,305.95 505.22,298.59 505.30,278.40 505.38,254.98 505.46,237.16 505.54,237.16 505.62,254.98 505.70,278.40 505.78,298.59 505.86,305.95 505.94,311.79 506.02,316.97 506.10,321.56 506.18,325.63 506.26,329.25 506.34,332.45 506.42,335.29 506.50,337.81 506.58,340.04 506.66,342.03 506.74,343.78 506.82,345.34 506.90,346.72 506.98,347.95 507.06,349.03 507.14,350.00 507.22,350.85 507.30,351.61 507.38,352.28 507.46,352.88 507.54,353.41 507.62,353.88 507.70,354.29 507.78,354.66 507.86,354.99 507.94,355.28 508.02,355.53 508.10,355.76 508.18,355.96 508.26,356.12 508.34,356.12 508.42,356.12 508.50,356.12 508.58,356.12 508.66,356.12 508.74,356.12 508.82,356.12 508.90,356.12 508.98,356.12 509.06,356.12 509.14,356.12 509.22,356.12 509.30,356.13 509.38,356.13 509.46,356.13 509.54,356.13 509.62,356.13 509.70,356.13 509.78,356.09 509.86,355.92 509.94,355.73 510.02,355.51 510.10,355.26 510.18,354.99 510.26,354.68 510.34,354.33 510.42,353.94 510.50,353.50 510.58,353.00 510.66,352.44 510.74,351.81 510.82,351.10 510.90,350.30 510.98,349.40 511.06,348.39 511.14,347.25 511.22,345.96 511.30,344.51 511.38,342.88 511.46,341.05 511.54,338.98 511.62,336.66 511.70,334.04 511.78,331.09 511.86,327.77 511.94,324.03 512.02,319.82 512.10,315.08 512.18,309.75 512.26,297.60 512.34,278.35 512.42,259.44 512.50,250.95 512.58,259.44 512.66,278.35 512.74,297.60 512.82,309.75 512.90,315.08 512.98,319.82 513.06,324.03 513.14,327.77 513.22,331.09 513.30,334.04 513.38,336.66 513.46,338.98 513.54,341.05 513.62,342.88 513.70,344.51 513.78,345.96 513.86,347.25 513.94,348.39 514.02,349.40 514.10,350.30 514.18,351.10 514.26,351.81 514.34,352.44 514.42,353.00 514.50,353.50 514.58,353.94 514.66,354.33 514.74,354.68 514.82,354.99 514.90,355.26 514.98,355.51 515.06,355.73 515.14,355.92 515.22,356.09 515.30,356.24 515.38,356.23 515.46,356.21 515.54,356.19 515.62,356.17 515.70,356.17 515.78,356.16 515.86,356.16 515.94,356.16 516.02,356.16 516.10,356.16 516.18,356.15 516.26,356.15 516.34,356.15 516.42,356.15 516.50,356.15 516.58,356.14 516.66,356.15 516.74,355.97 516.82,355.78 516.90,355.56 516.98,355.31 517.06,355.03 517.14,354.71 517.22,354.36 517.30,353.96 517.38,353.52 517.46,353.02 517.54,352.45 517.62,351.82 517.70,351.10 517.78,350.30 517.86,349.40 517.94,348.39 518.02,347.25 518.10,345.97 518.18,344.53 518.26,342.91 518.34,341.09 518.42,339.04 518.50,336.74 518.58,334.16 518.66,331.25 518.74,327.98 518.82,324.31 518.90,320.18 518.98,315.53 519.06,310.31 519.14,304.45 519.22,296.10 519.30,275.74 519.38,252.54 519.46,235.20 519.54,235.20 519.62,252.54 519.70,275.74 519.78,296.10 519.86,304.45 519.94,310.31 520.02,315.53 520.10,320.18 520.18,324.31 520.26,327.98 520.34,331.25 520.42,334.16 520.50,336.74 520.58,339.04 520.66,341.09 520.74,342.91 520.82,344.53 520.90,345.97 520.98,347.25 521.06,348.39 521.14,349.40 521.22,350.30 521.30,351.10 521.38,351.82 521.46,352.45 521.54,353.02 521.62,353.52 521.70,353.96 521.78,354.36 521.86,354.71 521.94,355.03 522.02,355.31 522.10,355.56 522.18,355.78 522.26,355.97 522.34,356.15 522.42,356.31 522.50,356.38 522.58,356.37 522.66,356.35 522.74,356.33 522.82,356.32 522.90,356.30 522.98,356.28 523.06,356.26 523.14,356.25 523.22,356.23 523.30,356.21 523.38,356.20 523.46,356.19 523.54,356.18 523.62,356.03 523.70,355.82 523.78,355.59 523.86,355.34 523.94,355.05 524.02,354.72 524.10,354.36 524.18,353.95 524.26,353.49 524.34,352.98 524.42,352.40 524.50,351.75 524.58,351.02 524.66,350.20 524.74,349.29 524.82,348.26 524.90,347.10 524.98,345.80 525.06,344.35 525.14,342.71 525.22,340.88 525.30,338.82 525.38,336.51 525.46,333.92 525.54,331.00 525.62,327.74 525.70,324.07 525.78,319.95 525.86,315.34 525.94,310.15 526.02,304.33 526.10,297.80 526.18,290.47 526.26,272.43 526.34,246.11 526.42,220.74 526.50,209.51 526.58,220.74 526.66,246.11 526.74,272.43 526.82,290.47 526.90,297.80 526.98,304.33 527.06,310.15 527.14,315.34 527.22,319.95 527.30,324.07 527.38,327.74 527.46,331.00 527.54,333.92 527.62,336.51 527.70,338.82 527.78,340.88 527.86,342.71 527.94,344.35 528.02,345.80 528.10,347.10 528.18,348.26 528.26,349.29 528.34,350.20 528.42,351.02 528.50,351.75 528.58,352.40 528.66,352.98 528.74,353.49 528.82,353.95 528.90,354.35 528.98,354.67 529.06,354.96 529.14,355.20 529.22,355.41 529.30,355.59 529.38,355.70 529.46,355.74 529.54,355.74 529.62,355.71 529.70,355.57 529.78,355.40 529.86,355.19 529.94,354.96 530.02,354.69 530.10,354.36 530.18,353.97 530.26,353.52 530.34,353.02 530.42,352.46 530.50,351.84 530.58,351.14 530.66,350.35 530.74,349.47 530.82,348.48 530.90,347.38 530.98,346.14 531.06,344.75 531.14,343.19 531.22,341.44 531.30,339.49 531.38,337.29 531.46,334.83 531.54,332.08 531.62,328.99 531.70,325.53 531.78,321.65 531.86,317.31 531.94,312.44 532.02,306.98 532.10,300.86 532.18,294.00 532.26,276.53 532.34,251.97 532.42,228.50 532.50,218.18 532.58,228.50 532.66,251.97 532.74,276.53 532.82,294.00 532.90,300.86 532.98,306.98 533.06,312.44 533.14,317.31 533.22,321.65 533.30,325.53 533.38,328.99 533.46,332.08 533.54,334.83 533.62,337.29 533.70,339.49 533.78,341.44 533.86,343.19 533.94,344.75 534.02,346.14 534.10,347.38 534.18,348.48 534.26,349.47 534.34,350.35 534.42,351.14 534.50,351.84 534.58,352.46 534.66,353.02 534.74,353.52 534.82,353.97 534.90,354.36 534.98,354.72 535.06,355.03 535.14,355.31 535.22,355.56 535.30,355.79 535.38,355.99 535.46,356.17 535.54,356.17 535.62,356.14 535.70,356.12 535.78,356.09 535.86,356.10 535.94,356.12 536.02,356.14 536.10,356.16 536.18,356.17 536.26,356.19 536.34,356.21 536.42,356.22 536.50,356.19 536.58,356.03 536.66,355.84 536.74,355.63 536.82,355.40 536.90,355.14 536.98,354.84 537.06,354.52 537.14,354.15 537.22,353.74 537.30,353.28 537.38,352.77 537.46,352.20 537.54,351.56 537.62,350.84 537.70,350.04 537.78,349.14 537.86,348.14 537.94,347.01 538.02,345.76 538.10,344.35 538.18,342.78 538.26,341.02 538.34,339.05 538.42,336.84 538.50,334.38 538.58,331.62 538.66,328.53 538.74,325.08 538.82,321.22 538.90,316.90 538.98,312.06 539.06,306.65 539.14,300.60 539.22,290.30 539.30,269.22 539.38,245.89 539.46,228.90 539.54,228.90 539.62,245.89 539.70,269.22 539.78,290.30 539.86,300.60 539.94,306.65 540.02,312.06 540.10,316.90 540.18,321.22 540.26,325.08 540.34,328.53 540.42,331.62 540.50,334.38 540.58,336.84 540.66,339.05 540.74,341.02 540.82,342.78 540.90,344.35 540.98,345.76 541.06,347.01 541.14,348.14 541.22,349.14 541.30,350.04 541.38,350.84 541.46,351.56 541.54,352.20 541.62,352.77 541.70,353.28 541.78,353.74 541.86,354.15 541.94,354.52 542.02,354.84 542.10,355.14 542.18,355.40 542.26,355.63 542.34,355.84 542.42,356.03 542.50,356.08" fill="none" stroke="#0072BD" stroke-width="1.55" stroke-linejoin="round"/>
<path d="M309.50 356.80V212.40M316.50 356.80V212.40M323.50 356.80V212.40M329.50 356.80V212.40M336.50 356.80V212.40M343.50 356.80V212.40M350.50 356.80V212.40M356.50 356.80V212.40M363.50 356.80V212.40M370.50 356.80V212.40M377.50 356.80V212.40M384.50 356.80V212.40M390.50 356.80V212.40M397.50 356.80V212.40M404.50 356.80V212.40M411.50 356.80V212.40M417.50 356.80V212.40M424.50 356.80V212.40M431.50 356.80V212.40M438.50 356.80V212.40M444.50 356.80V212.40M451.50 356.80V212.40M458.50 356.80V212.40M465.50 356.80V212.40M472.50 356.80V212.40M478.50 356.80V212.40M485.50 356.80V212.40M492.50 356.80V212.40M499.50 356.80V212.40M505.50 356.80V212.40M512.50 356.80V212.40M519.50 356.80V212.40M526.50 356.80V212.40M532.50 356.80V212.40M539.50 356.80V212.40" fill="none" stroke="#FF0000" stroke-width="1.35" stroke-dasharray="3.3 2.7"/>
</g>
<g font-family="Liberation Sans, Arial, Helvetica, sans-serif" font-size="8.2" fill="#262626">
<text x="315.75" y="368.40" textLength="13.27" lengthAdjust="spacingAndGlyphs">-40</text>
<text x="366.88" y="368.40" textLength="13.27" lengthAdjust="spacingAndGlyphs">-20</text>
<text x="422.10" y="368.40" textLength="5.11" lengthAdjust="spacingAndGlyphs">0</text>
<text x="470.68" y="368.40" textLength="10.21" lengthAdjust="spacingAndGlyphs">20</text>
<text x="521.81" y="368.40" textLength="10.21" lengthAdjust="spacingAndGlyphs">40</text>
<text x="298.39" y="359.75" textLength="5.11" lengthAdjust="spacingAndGlyphs">0</text>
<text x="290.73" y="330.87" textLength="12.77" lengthAdjust="spacingAndGlyphs">0.2</text>
<text x="290.73" y="301.99" textLength="12.77" lengthAdjust="spacingAndGlyphs">0.4</text>
<text x="290.73" y="273.11" textLength="12.77" lengthAdjust="spacingAndGlyphs">0.6</text>
<text x="290.73" y="244.23" textLength="12.77" lengthAdjust="spacingAndGlyphs">0.8</text>
<text x="298.39" y="215.35" textLength="5.11" lengthAdjust="spacingAndGlyphs">1</text>
</g>
<text x="399.00" y="375.00" font-family="Liberation Serif, Times New Roman, serif" font-size="11" fill="#111" textLength="49" lengthAdjust="spacingAndGlyphs"><tspan font-style="italic">θ</tspan>(Degree)</text>
<text transform="translate(286.80,342.50) rotate(-90)" font-family="Liberation Serif, Times New Roman, serif" font-size="11.4" fill="#111" textLength="112" lengthAdjust="spacingAndGlyphs">Normalized Spectrum(dB)</text>
<text x="385.00" y="209.40" font-family="Liberation Serif, Times New Roman, serif" font-weight="bold" font-size="9.2" fill="#111" textLength="80.6" lengthAdjust="spacingAndGlyphs">(d) SA-U4 K=35</text>
<rect x="188.4" y="4.4" width="199.6" height="13.1" fill="#fff" stroke="#262626" stroke-width="0.8"/>
<path d="M191.6 11H218.4" stroke="#0072BD" stroke-width="1.7"/>
<path d="M303 11H321.5" stroke="#FF0000" stroke-width="1.5" stroke-dasharray="4.2 2.9"/>
<g font-family="Liberation Sans, Arial, Helvetica, sans-serif" font-size="8.8" fill="#000" stroke="#000" stroke-width="0.25">
<text x="221.6" y="14.5" textLength="76.8" lengthAdjust="spacingAndGlyphs">Esitmated Values</text>
<text x="333" y="14.5" textLength="53" lengthAdjust="spacingAndGlyphs">Real Values</text>
</g>
</svg>
</body></html>
